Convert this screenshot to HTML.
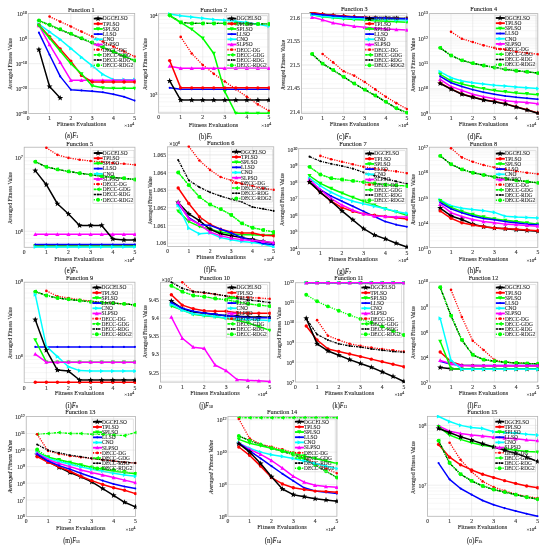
<!DOCTYPE html>
<html><head><meta charset="utf-8"><title>Convergence curves</title>
<style>html,body{margin:0;padding:0;background:#fff;}svg{display:block;}</style></head>
<body><svg width="548" height="550" viewBox="0 0 548 550" font-family="'Liberation Serif','Times New Roman',serif">
<rect width="548" height="550" fill="#fff"/>
<style>text{stroke:#303030;stroke-width:0.12px;}</style>
<line x1="49.55" y1="13.5" x2="49.55" y2="113.57" stroke="#dedede" stroke-width="0.5"/>
<line x1="70.84" y1="13.5" x2="70.84" y2="113.57" stroke="#dedede" stroke-width="0.5"/>
<line x1="92.13" y1="13.5" x2="92.13" y2="113.57" stroke="#dedede" stroke-width="0.5"/>
<line x1="113.42" y1="13.5" x2="113.42" y2="113.57" stroke="#dedede" stroke-width="0.5"/>
<line x1="28.27" y1="38.45" x2="134.71" y2="38.45" stroke="#dedede" stroke-width="0.5"/>
<line x1="28.27" y1="63.66" x2="134.71" y2="63.66" stroke="#dedede" stroke-width="0.5"/>
<line x1="28.27" y1="88.62" x2="134.71" y2="88.62" stroke="#dedede" stroke-width="0.5"/>
<rect x="28.27" y="13.5" width="106.44" height="100.08" fill="none" stroke="#b4b4b4" stroke-width="0.8"/>
<clipPath id="c0"><rect x="27.27" y="12" width="108.44" height="103.08"/></clipPath>
<g clip-path="url(#c0)">
<path d="M38.91 20.37 L49.55 24.7 L60.2 29.28 L70.84 33.61 L81.49 38.2 L92.13 42.53 L102.78 47.11 L113.42 51.44 L124.06 56.02 L134.71 60.35" fill="none" stroke="#00ff00" stroke-width="1.3" stroke-dasharray="1.2,1.2" stroke-linejoin="round"/>
<circle cx="38.91" cy="20.37" r="1.95" fill="#00ff00"/>
<circle cx="49.55" cy="24.7" r="1.95" fill="#00ff00"/>
<circle cx="60.2" cy="29.28" r="1.95" fill="#00ff00"/>
<circle cx="70.84" cy="33.61" r="1.95" fill="#00ff00"/>
<circle cx="81.49" cy="38.2" r="1.95" fill="#00ff00"/>
<circle cx="92.13" cy="42.53" r="1.95" fill="#00ff00"/>
<circle cx="102.78" cy="47.11" r="1.95" fill="#00ff00"/>
<circle cx="113.42" cy="51.44" r="1.95" fill="#00ff00"/>
<circle cx="124.06" cy="56.02" r="1.95" fill="#00ff00"/>
<circle cx="134.71" cy="60.35" r="1.95" fill="#00ff00"/>
<path d="M38.91 20.88 L49.55 25.21 L60.2 29.79 L70.84 34.12 L81.49 38.71 L92.13 43.04 L102.78 47.62 L113.42 51.95 L124.06 56.53 L134.71 60.86" fill="none" stroke="#000000" stroke-width="1.3" stroke-dasharray="2.5,1,1,1" stroke-linejoin="round"/>
<circle cx="38.91" cy="20.88" r="1.04" fill="#000000"/>
<circle cx="49.55" cy="25.21" r="1.04" fill="#000000"/>
<circle cx="60.2" cy="29.79" r="1.04" fill="#000000"/>
<circle cx="70.84" cy="34.12" r="1.04" fill="#000000"/>
<circle cx="81.49" cy="38.71" r="1.04" fill="#000000"/>
<circle cx="92.13" cy="43.04" r="1.04" fill="#000000"/>
<circle cx="102.78" cy="47.62" r="1.04" fill="#000000"/>
<circle cx="113.42" cy="51.95" r="1.04" fill="#000000"/>
<circle cx="124.06" cy="56.53" r="1.04" fill="#000000"/>
<circle cx="134.71" cy="60.86" r="1.04" fill="#000000"/>
<path d="M38.91 20.88 L49.55 25.21 L60.2 29.54 L70.84 33.87 L81.49 38.45 L92.13 42.78 L102.78 47.36 L113.42 51.69 L124.06 56.28 L134.71 60.61" fill="none" stroke="#00ff00" stroke-width="1.3" stroke-dasharray="2.5,1,1,1" stroke-linejoin="round"/>
<polygon points="36.83,20.88 40.57,18.8 40.57,22.96" fill="#00ff00"/>
<polygon points="47.47,25.21 51.22,23.13 51.22,27.29" fill="#00ff00"/>
<polygon points="58.12,29.54 61.86,27.46 61.86,31.62" fill="#00ff00"/>
<polygon points="68.76,33.87 72.51,31.79 72.51,35.95" fill="#00ff00"/>
<polygon points="79.41,38.45 83.15,36.37 83.15,40.53" fill="#00ff00"/>
<polygon points="90.05,42.78 93.8,40.7 93.8,44.86" fill="#00ff00"/>
<polygon points="100.7,47.36 104.44,45.28 104.44,49.44" fill="#00ff00"/>
<polygon points="111.34,51.69 115.08,49.61 115.08,53.77" fill="#00ff00"/>
<polygon points="121.98,56.28 125.73,54.2 125.73,58.36" fill="#00ff00"/>
<polygon points="132.63,60.61 136.37,58.53 136.37,62.69" fill="#00ff00"/>
<path d="M49.55 16.55 L60.2 21.65 L70.84 26.48 L81.49 31.58 L92.13 36.41 L102.78 41.51 L113.42 46.6 L124.06 51.44 L134.71 56.53" fill="none" stroke="#ff0000" stroke-width="1.3" stroke-dasharray="1.2,1.2" stroke-linejoin="round"/>
<circle cx="49.55" cy="16.55" r="1.3" fill="#ff0000"/>
<circle cx="60.2" cy="21.65" r="1.3" fill="#ff0000"/>
<circle cx="70.84" cy="26.48" r="1.3" fill="#ff0000"/>
<circle cx="81.49" cy="31.58" r="1.3" fill="#ff0000"/>
<circle cx="92.13" cy="36.41" r="1.3" fill="#ff0000"/>
<circle cx="102.78" cy="41.51" r="1.3" fill="#ff0000"/>
<circle cx="113.42" cy="46.6" r="1.3" fill="#ff0000"/>
<circle cx="124.06" cy="51.44" r="1.3" fill="#ff0000"/>
<circle cx="134.71" cy="56.53" r="1.3" fill="#ff0000"/>
<path d="M38.91 24.19 L49.55 31.83 L60.2 39.47 L70.84 48.38 L81.49 57.3 L92.13 65.7 L102.78 74.36 L113.42 79.7 L124.06 79.7 L134.71 79.7" fill="none" stroke="#00ffff" stroke-width="1.5" stroke-linejoin="round"/>
<polygon points="40.99,24.19 37.25,22.11 37.25,26.27" fill="#00ffff"/>
<polygon points="51.63,31.83 47.89,29.75 47.89,33.91" fill="#00ffff"/>
<polygon points="62.28,39.47 58.53,37.39 58.53,41.55" fill="#00ffff"/>
<polygon points="72.92,48.38 69.18,46.3 69.18,50.46" fill="#00ffff"/>
<polygon points="83.57,57.3 79.82,55.22 79.82,59.38" fill="#00ffff"/>
<polygon points="94.21,65.7 90.47,63.62 90.47,67.78" fill="#00ffff"/>
<polygon points="104.86,74.36 101.11,72.28 101.11,76.44" fill="#00ffff"/>
<polygon points="115.5,79.7 111.76,77.62 111.76,81.78" fill="#00ffff"/>
<polygon points="126.14,79.7 122.4,77.62 122.4,81.78" fill="#00ffff"/>
<polygon points="136.79,79.7 133.04,77.62 133.04,81.78" fill="#00ffff"/>
<path d="M38.91 25.46 L49.55 44.56 L60.2 62.39 L70.84 80.21 L81.49 80.21 L92.13 80.21 L102.78 80.21 L113.42 80.21 L124.06 80.21 L134.71 80.21" fill="none" stroke="#ff00ff" stroke-width="1.5" stroke-linejoin="round"/>
<polygon points="38.91,23.38 36.83,27.13 40.99,27.13" fill="#ff00ff"/>
<polygon points="49.55,42.48 47.47,46.23 51.63,46.23" fill="#ff00ff"/>
<polygon points="60.2,60.31 58.12,64.05 62.28,64.05" fill="#ff00ff"/>
<polygon points="70.84,78.13 68.76,81.88 72.92,81.88" fill="#ff00ff"/>
<polygon points="81.49,78.13 79.41,81.88 83.57,81.88" fill="#ff00ff"/>
<polygon points="92.13,78.13 90.05,81.88 94.21,81.88" fill="#ff00ff"/>
<polygon points="102.78,78.13 100.7,81.88 104.86,81.88" fill="#ff00ff"/>
<polygon points="113.42,78.13 111.34,81.88 115.5,81.88" fill="#ff00ff"/>
<polygon points="124.06,78.13 121.98,81.88 126.14,81.88" fill="#ff00ff"/>
<polygon points="134.71,78.13 132.63,81.88 136.79,81.88" fill="#ff00ff"/>
<path d="M38.91 24.96 L49.55 36.67 L60.2 48.89 L70.84 61.12 L81.49 75.38 L92.13 82 L102.78 82 L113.42 82 L124.06 82 L134.71 82" fill="none" stroke="#ff0000" stroke-width="1.5" stroke-linejoin="round"/>
<circle cx="38.91" cy="24.96" r="1.69" fill="#ff0000"/>
<circle cx="49.55" cy="36.67" r="1.69" fill="#ff0000"/>
<circle cx="60.2" cy="48.89" r="1.69" fill="#ff0000"/>
<circle cx="70.84" cy="61.12" r="1.69" fill="#ff0000"/>
<circle cx="81.49" cy="75.38" r="1.69" fill="#ff0000"/>
<circle cx="92.13" cy="82" r="1.69" fill="#ff0000"/>
<circle cx="102.78" cy="82" r="1.69" fill="#ff0000"/>
<circle cx="113.42" cy="82" r="1.69" fill="#ff0000"/>
<circle cx="124.06" cy="82" r="1.69" fill="#ff0000"/>
<circle cx="134.71" cy="82" r="1.69" fill="#ff0000"/>
<path d="M38.91 25.46 L49.55 38.2 L60.2 50.93 L70.84 63.66 L81.49 73.85 L92.13 85.82 L102.78 87.85 L113.42 88.36 L124.06 88.36 L134.71 88.36" fill="none" stroke="#00ff00" stroke-width="1.5" stroke-linejoin="round"/>
<polygon points="38.91,27.54 36.83,23.8 40.99,23.8" fill="#00ff00"/>
<polygon points="49.55,40.28 47.47,36.53 51.63,36.53" fill="#00ff00"/>
<polygon points="60.2,53.01 58.12,49.27 62.28,49.27" fill="#00ff00"/>
<polygon points="70.84,65.74 68.76,62 72.92,62" fill="#00ff00"/>
<polygon points="81.49,75.93 79.41,72.18 83.57,72.18" fill="#00ff00"/>
<polygon points="92.13,87.9 90.05,84.15 94.21,84.15" fill="#00ff00"/>
<polygon points="102.78,89.93 100.7,86.19 104.86,86.19" fill="#00ff00"/>
<polygon points="113.42,90.44 111.34,86.7 115.5,86.7" fill="#00ff00"/>
<polygon points="124.06,90.44 121.98,86.7 126.14,86.7" fill="#00ff00"/>
<polygon points="134.71,90.44 132.63,86.7 136.79,86.7" fill="#00ff00"/>
<path d="M38.91 32.59 L49.55 54.75 L60.2 76.39 L70.84 89.64 L81.49 90.4 L92.13 91.16 L102.78 92.18 L113.42 94.22 L124.06 96.77 L134.71 100.59" fill="none" stroke="#0000ff" stroke-width="1.5" stroke-linejoin="round"/>
<circle cx="38.91" cy="32.59" r="1.04" fill="#0000ff"/>
<circle cx="49.55" cy="54.75" r="1.04" fill="#0000ff"/>
<circle cx="60.2" cy="76.39" r="1.04" fill="#0000ff"/>
<circle cx="70.84" cy="89.64" r="1.04" fill="#0000ff"/>
<circle cx="81.49" cy="90.4" r="1.04" fill="#0000ff"/>
<circle cx="92.13" cy="91.16" r="1.04" fill="#0000ff"/>
<circle cx="102.78" cy="92.18" r="1.04" fill="#0000ff"/>
<circle cx="113.42" cy="94.22" r="1.04" fill="#0000ff"/>
<circle cx="124.06" cy="96.77" r="1.04" fill="#0000ff"/>
<circle cx="134.71" cy="100.59" r="1.04" fill="#0000ff"/>
<path d="M38.91 49.66 L49.55 86.58 L60.2 98.04" fill="none" stroke="#000000" stroke-width="1.5" stroke-linejoin="round"/>
<polygon points="38.91,46.54 39.67,48.6 41.88,48.69 40.15,50.06 40.74,52.18 38.91,50.96 37.08,52.18 37.67,50.06 35.94,48.69 38.15,48.6" fill="#000000"/>
<polygon points="49.55,83.46 50.32,85.53 52.52,85.62 50.79,86.98 51.39,89.1 49.55,87.88 47.72,89.1 48.32,86.98 46.59,85.62 48.79,85.53" fill="#000000"/>
<polygon points="60.2,94.92 60.96,96.99 63.17,97.08 61.43,98.44 62.03,100.56 60.2,99.34 58.36,100.56 58.96,98.44 57.23,97.08 59.43,96.99" fill="#000000"/>
</g>
<text x="28.27" y="119.87" font-size="5.6" text-anchor="middle" fill="#333">0</text>
<text x="49.55" y="119.87" font-size="5.6" text-anchor="middle" fill="#333">1</text>
<text x="70.84" y="119.87" font-size="5.6" text-anchor="middle" fill="#333">2</text>
<text x="92.13" y="119.87" font-size="5.6" text-anchor="middle" fill="#333">3</text>
<text x="113.42" y="119.87" font-size="5.6" text-anchor="middle" fill="#333">4</text>
<text x="134.71" y="119.87" font-size="5.6" text-anchor="middle" fill="#333">5</text>
<text x="27.07" y="16.2" font-size="5.6" text-anchor="end" fill="#333">10<tspan font-size="4.3" dy="-2.2">10</tspan></text>
<text x="27.07" y="41.15" font-size="5.6" text-anchor="end" fill="#333">10<tspan font-size="4.3" dy="-2.2">0</tspan></text>
<text x="27.07" y="66.36" font-size="5.6" text-anchor="end" fill="#333">10<tspan font-size="4.3" dy="-2.2">-10</tspan></text>
<text x="27.07" y="91.32" font-size="5.6" text-anchor="end" fill="#333">10<tspan font-size="4.3" dy="-2.2">-20</tspan></text>
<text x="27.07" y="116.27" font-size="5.6" text-anchor="end" fill="#333">10<tspan font-size="4.3" dy="-2.2">-30</tspan></text>
<text x="81.3" y="11.6" font-size="6.3" text-anchor="middle" textLength="26.8" lengthAdjust="spacingAndGlyphs" fill="#222">Function 1</text>
<text x="81.4" y="125.7" font-size="6.3" text-anchor="middle" textLength="49.5" lengthAdjust="spacingAndGlyphs" fill="#333">Fitness Evaluations</text>
<text x="129.2" y="126.99" font-size="5.0" text-anchor="middle" fill="#333">×10<tspan font-size="3.8" dy="-2.0">4</tspan></text>
<text transform="translate(11.6 63.9) rotate(-90)" font-size="5.5" text-anchor="middle" textLength="51.7" lengthAdjust="spacingAndGlyphs" fill="#333">Averaged Fitness Value</text>
<text x="71.6" y="138" font-size="7.4" text-anchor="middle" textLength="13.3" lengthAdjust="spacingAndGlyphs" fill="#222">(a)<tspan font-style="italic">F</tspan><tspan font-size="4.6">1</tspan></text>
<rect x="92.95" y="15.79" width="41" height="53" fill="none" stroke="#c8c8c8" stroke-width="0.5"/>
<line x1="93.75" y1="18.59" x2="102.75" y2="18.59" stroke="#000000" stroke-width="1.8"/>
<polygon points="98.05,15.47 98.81,17.54 101.01,17.62 99.28,18.99 99.88,21.11 98.05,19.89 96.21,21.11 96.81,18.99 95.08,17.62 97.28,17.54" fill="#000000"/>
<text x="102.85" y="20.44" font-size="5.4" fill="#333">DGCELSO</text>
<line x1="93.75" y1="23.77" x2="102.75" y2="23.77" stroke="#ff0000" stroke-width="1.8"/>
<circle cx="98.05" cy="23.77" r="1.69" fill="#ff0000"/>
<text x="102.85" y="25.62" font-size="5.4" fill="#333">TPLSO</text>
<line x1="93.75" y1="28.95" x2="102.75" y2="28.95" stroke="#00ff00" stroke-width="1.8"/>
<polygon points="98.05,31.03 95.97,27.28 100.13,27.28" fill="#00ff00"/>
<text x="102.85" y="30.8" font-size="5.4" fill="#333">SPLSO</text>
<line x1="93.75" y1="34.13" x2="102.75" y2="34.13" stroke="#0000ff" stroke-width="1.8"/>
<circle cx="98.05" cy="34.13" r="1.04" fill="#0000ff"/>
<text x="102.85" y="35.98" font-size="5.4" fill="#333">LLSO</text>
<line x1="93.75" y1="39.31" x2="102.75" y2="39.31" stroke="#00ffff" stroke-width="1.8"/>
<polygon points="100.13,39.31 96.38,37.23 96.38,41.39" fill="#00ffff"/>
<text x="102.85" y="41.16" font-size="5.4" fill="#333">CNO</text>
<line x1="93.75" y1="44.49" x2="102.75" y2="44.49" stroke="#ff00ff" stroke-width="1.8"/>
<polygon points="98.05,42.41 95.97,46.15 100.13,46.15" fill="#ff00ff"/>
<text x="102.85" y="46.34" font-size="5.4" fill="#333">SLPSO</text>
<line x1="93.75" y1="49.67" x2="102.75" y2="49.67" stroke="#ff0000" stroke-width="1.6" stroke-dasharray="1.2,1.2"/>
<circle cx="98.05" cy="49.67" r="1.3" fill="#ff0000"/>
<text x="102.85" y="51.52" font-size="5.4" fill="#333">DECC-DG</text>
<line x1="93.75" y1="54.85" x2="102.75" y2="54.85" stroke="#00ff00" stroke-width="1.6" stroke-dasharray="2.5,1,1,1"/>
<polygon points="95.97,54.85 99.71,52.77 99.71,56.93" fill="#00ff00"/>
<text x="102.85" y="56.7" font-size="5.4" fill="#333">DECC-GDG</text>
<line x1="93.75" y1="60.03" x2="102.75" y2="60.03" stroke="#000000" stroke-width="1.6" stroke-dasharray="2.5,1,1,1"/>
<circle cx="98.05" cy="60.03" r="1.04" fill="#000000"/>
<text x="102.85" y="61.88" font-size="5.4" fill="#333">DECC-RDG</text>
<line x1="93.75" y1="65.21" x2="102.75" y2="65.21" stroke="#00ff00" stroke-width="1.6" stroke-dasharray="1.2,1.2"/>
<circle cx="98.05" cy="65.21" r="1.95" fill="#00ff00"/>
<text x="102.85" y="67.06" font-size="5.4" fill="#333">DECC-RDG2</text>
<line x1="158.65" y1="111.62" x2="268.91" y2="111.62" stroke="#efefef" stroke-width="0.5"/>
<line x1="158.65" y1="106.37" x2="268.91" y2="106.37" stroke="#efefef" stroke-width="0.5"/>
<line x1="158.65" y1="101.82" x2="268.91" y2="101.82" stroke="#efefef" stroke-width="0.5"/>
<line x1="158.65" y1="97.81" x2="268.91" y2="97.81" stroke="#efefef" stroke-width="0.5"/>
<line x1="158.65" y1="70.61" x2="268.91" y2="70.61" stroke="#efefef" stroke-width="0.5"/>
<line x1="158.65" y1="56.8" x2="268.91" y2="56.8" stroke="#efefef" stroke-width="0.5"/>
<line x1="158.65" y1="47" x2="268.91" y2="47" stroke="#efefef" stroke-width="0.5"/>
<line x1="158.65" y1="39.4" x2="268.91" y2="39.4" stroke="#efefef" stroke-width="0.5"/>
<line x1="158.65" y1="33.19" x2="268.91" y2="33.19" stroke="#efefef" stroke-width="0.5"/>
<line x1="158.65" y1="27.94" x2="268.91" y2="27.94" stroke="#efefef" stroke-width="0.5"/>
<line x1="158.65" y1="23.39" x2="268.91" y2="23.39" stroke="#efefef" stroke-width="0.5"/>
<line x1="158.65" y1="19.38" x2="268.91" y2="19.38" stroke="#efefef" stroke-width="0.5"/>
<line x1="180.7" y1="13.75" x2="180.7" y2="113.01" stroke="#dedede" stroke-width="0.5"/>
<line x1="202.75" y1="13.75" x2="202.75" y2="113.01" stroke="#dedede" stroke-width="0.5"/>
<line x1="224.8" y1="13.75" x2="224.8" y2="113.01" stroke="#dedede" stroke-width="0.5"/>
<line x1="246.85" y1="13.75" x2="246.85" y2="113.01" stroke="#dedede" stroke-width="0.5"/>
<line x1="158.65" y1="15.79" x2="268.91" y2="15.79" stroke="#dedede" stroke-width="0.5"/>
<line x1="158.65" y1="94.22" x2="268.91" y2="94.22" stroke="#dedede" stroke-width="0.5"/>
<rect x="158.65" y="13.75" width="110.26" height="99.26" fill="none" stroke="#b4b4b4" stroke-width="0.8"/>
<clipPath id="c1"><rect x="157.65" y="12.25" width="112.26" height="102.26"/></clipPath>
<g clip-path="url(#c1)">
<path d="M180.7 36.92 L191.72 53.48 L202.75 64.94 L213.78 73.85 L224.8 81.49 L235.83 89.13 L246.85 96.77 L257.88 104.41 L268.91 110.77" fill="none" stroke="#ff0000" stroke-width="1.3" stroke-dasharray="1.2,1.2" stroke-linejoin="round"/>
<circle cx="180.7" cy="36.92" r="1.3" fill="#ff0000"/>
<circle cx="191.72" cy="53.48" r="1.3" fill="#ff0000"/>
<circle cx="202.75" cy="64.94" r="1.3" fill="#ff0000"/>
<circle cx="213.78" cy="73.85" r="1.3" fill="#ff0000"/>
<circle cx="224.8" cy="81.49" r="1.3" fill="#ff0000"/>
<circle cx="235.83" cy="89.13" r="1.3" fill="#ff0000"/>
<circle cx="246.85" cy="96.77" r="1.3" fill="#ff0000"/>
<circle cx="257.88" cy="104.41" r="1.3" fill="#ff0000"/>
<circle cx="268.91" cy="110.77" r="1.3" fill="#ff0000"/>
<path d="M169.67 14.01 L180.7 15.79 L191.72 17.06 L202.75 18.33 L213.78 19.61 L224.8 20.37 L235.83 21.14 L246.85 22.41 L257.88 24.19 L268.91 26.23" fill="none" stroke="#00ffff" stroke-width="1.5" stroke-linejoin="round"/>
<polygon points="171.75,14.01 168.01,11.93 168.01,16.09" fill="#00ffff"/>
<polygon points="182.78,15.79 179.03,13.71 179.03,17.87" fill="#00ffff"/>
<polygon points="193.8,17.06 190.06,14.98 190.06,19.14" fill="#00ffff"/>
<polygon points="204.83,18.33 201.09,16.25 201.09,20.41" fill="#00ffff"/>
<polygon points="215.86,19.61 212.11,17.53 212.11,21.69" fill="#00ffff"/>
<polygon points="226.88,20.37 223.14,18.29 223.14,22.45" fill="#00ffff"/>
<polygon points="237.91,21.14 234.16,19.06 234.16,23.22" fill="#00ffff"/>
<polygon points="248.93,22.41 245.19,20.33 245.19,24.49" fill="#00ffff"/>
<polygon points="259.96,24.19 256.22,22.11 256.22,26.27" fill="#00ffff"/>
<polygon points="270.99,26.23 267.24,24.15 267.24,28.31" fill="#00ffff"/>
<path d="M169.67 15.28 L180.7 22.41 L191.72 23.43 L202.75 23.43 L213.78 23.43 L224.8 23.43 L235.83 23.43 L246.85 23.68 L257.88 23.94 L268.91 23.94" fill="none" stroke="#00ff00" stroke-width="1.3" stroke-dasharray="2.5,1,1,1" stroke-linejoin="round"/>
<polygon points="167.59,15.28 171.34,13.2 171.34,17.36" fill="#00ff00"/>
<polygon points="178.62,22.41 182.36,20.33 182.36,24.49" fill="#00ff00"/>
<polygon points="189.64,23.43 193.39,21.35 193.39,25.51" fill="#00ff00"/>
<polygon points="200.67,23.43 204.41,21.35 204.41,25.51" fill="#00ff00"/>
<polygon points="211.7,23.43 215.44,21.35 215.44,25.51" fill="#00ff00"/>
<polygon points="222.72,23.43 226.47,21.35 226.47,25.51" fill="#00ff00"/>
<polygon points="233.75,23.43 237.49,21.35 237.49,25.51" fill="#00ff00"/>
<polygon points="244.77,23.68 248.52,21.6 248.52,25.76" fill="#00ff00"/>
<polygon points="255.8,23.94 259.55,21.86 259.55,26.02" fill="#00ff00"/>
<polygon points="266.83,23.94 270.57,21.86 270.57,26.02" fill="#00ff00"/>
<path d="M169.67 15.28 L180.7 22.41 L191.72 23.43 L202.75 23.43 L213.78 23.43 L224.8 23.43 L235.83 23.43 L246.85 23.68 L257.88 23.94 L268.91 23.94" fill="none" stroke="#000000" stroke-width="1.3" stroke-dasharray="2.5,1,1,1" stroke-linejoin="round"/>
<circle cx="169.67" cy="15.28" r="1.04" fill="#000000"/>
<circle cx="180.7" cy="22.41" r="1.04" fill="#000000"/>
<circle cx="191.72" cy="23.43" r="1.04" fill="#000000"/>
<circle cx="202.75" cy="23.43" r="1.04" fill="#000000"/>
<circle cx="213.78" cy="23.43" r="1.04" fill="#000000"/>
<circle cx="224.8" cy="23.43" r="1.04" fill="#000000"/>
<circle cx="235.83" cy="23.43" r="1.04" fill="#000000"/>
<circle cx="246.85" cy="23.68" r="1.04" fill="#000000"/>
<circle cx="257.88" cy="23.94" r="1.04" fill="#000000"/>
<circle cx="268.91" cy="23.94" r="1.04" fill="#000000"/>
<path d="M169.67 15.28 L180.7 22.41 L191.72 23.43 L202.75 23.43 L213.78 23.43 L224.8 23.43 L235.83 23.43 L246.85 23.68 L257.88 23.94 L268.91 23.94" fill="none" stroke="#00ff00" stroke-width="1.3" stroke-dasharray="1.2,1.2" stroke-linejoin="round"/>
<circle cx="169.67" cy="15.28" r="1.95" fill="#00ff00"/>
<circle cx="180.7" cy="22.41" r="1.95" fill="#00ff00"/>
<circle cx="191.72" cy="23.43" r="1.95" fill="#00ff00"/>
<circle cx="202.75" cy="23.43" r="1.95" fill="#00ff00"/>
<circle cx="213.78" cy="23.43" r="1.95" fill="#00ff00"/>
<circle cx="224.8" cy="23.43" r="1.95" fill="#00ff00"/>
<circle cx="235.83" cy="23.43" r="1.95" fill="#00ff00"/>
<circle cx="246.85" cy="23.68" r="1.95" fill="#00ff00"/>
<circle cx="257.88" cy="23.94" r="1.95" fill="#00ff00"/>
<circle cx="268.91" cy="23.94" r="1.95" fill="#00ff00"/>
<path d="M169.67 15.79 L180.7 22.41 L191.72 29.28 L202.75 38.2 L213.78 53.48 L224.8 91.67 L235.83 113.32 L246.85 113.32 L257.88 113.32 L268.91 113.32" fill="none" stroke="#00ff00" stroke-width="1.5" stroke-linejoin="round"/>
<polygon points="169.67,17.87 167.59,14.12 171.75,14.12" fill="#00ff00"/>
<polygon points="180.7,24.49 178.62,20.74 182.78,20.74" fill="#00ff00"/>
<polygon points="191.72,31.36 189.64,27.62 193.8,27.62" fill="#00ff00"/>
<polygon points="202.75,40.28 200.67,36.53 204.83,36.53" fill="#00ff00"/>
<polygon points="213.78,55.56 211.7,51.81 215.86,51.81" fill="#00ff00"/>
<polygon points="224.8,93.75 222.72,90.01 226.88,90.01" fill="#00ff00"/>
<polygon points="235.83,115.4 233.75,111.65 237.91,111.65" fill="#00ff00"/>
<polygon points="246.85,115.4 244.77,111.65 248.93,111.65" fill="#00ff00"/>
<polygon points="257.88,115.4 255.8,111.65 259.96,111.65" fill="#00ff00"/>
<polygon points="268.91,115.4 266.83,111.65 270.99,111.65" fill="#00ff00"/>
<path d="M169.67 66.21 L180.7 68.25 L191.72 68.25 L202.75 68.25 L213.78 68.25 L224.8 68.25 L235.83 68.25 L246.85 68.25 L257.88 68.25 L268.91 68.25" fill="none" stroke="#ff00ff" stroke-width="1.5" stroke-linejoin="round"/>
<polygon points="169.67,64.13 167.59,67.87 171.75,67.87" fill="#ff00ff"/>
<polygon points="180.7,66.17 178.62,69.91 182.78,69.91" fill="#ff00ff"/>
<polygon points="191.72,66.17 189.64,69.91 193.8,69.91" fill="#ff00ff"/>
<polygon points="202.75,66.17 200.67,69.91 204.83,69.91" fill="#ff00ff"/>
<polygon points="213.78,66.17 211.7,69.91 215.86,69.91" fill="#ff00ff"/>
<polygon points="224.8,66.17 222.72,69.91 226.88,69.91" fill="#ff00ff"/>
<polygon points="235.83,66.17 233.75,69.91 237.91,69.91" fill="#ff00ff"/>
<polygon points="246.85,66.17 244.77,69.91 248.93,69.91" fill="#ff00ff"/>
<polygon points="257.88,66.17 255.8,69.91 259.96,69.91" fill="#ff00ff"/>
<polygon points="268.91,66.17 266.83,69.91 270.99,69.91" fill="#ff00ff"/>
<path d="M169.67 87.85 L180.7 89.13 L191.72 89.13 L202.75 89.13 L213.78 89.13 L224.8 89.13 L235.83 89.13 L246.85 89.13 L257.88 89.13 L268.91 89.13" fill="none" stroke="#0000ff" stroke-width="1.5" stroke-linejoin="round"/>
<circle cx="169.67" cy="87.85" r="1.04" fill="#0000ff"/>
<circle cx="180.7" cy="89.13" r="1.04" fill="#0000ff"/>
<circle cx="191.72" cy="89.13" r="1.04" fill="#0000ff"/>
<circle cx="202.75" cy="89.13" r="1.04" fill="#0000ff"/>
<circle cx="213.78" cy="89.13" r="1.04" fill="#0000ff"/>
<circle cx="224.8" cy="89.13" r="1.04" fill="#0000ff"/>
<circle cx="235.83" cy="89.13" r="1.04" fill="#0000ff"/>
<circle cx="246.85" cy="89.13" r="1.04" fill="#0000ff"/>
<circle cx="257.88" cy="89.13" r="1.04" fill="#0000ff"/>
<circle cx="268.91" cy="89.13" r="1.04" fill="#0000ff"/>
<path d="M169.67 60.61 L180.7 87.85 L191.72 87.85 L202.75 87.85 L213.78 87.85 L224.8 87.85 L235.83 87.85 L246.85 87.85 L257.88 87.85 L268.91 87.85" fill="none" stroke="#ff0000" stroke-width="1.5" stroke-linejoin="round"/>
<circle cx="169.67" cy="60.61" r="1.69" fill="#ff0000"/>
<circle cx="180.7" cy="87.85" r="1.69" fill="#ff0000"/>
<circle cx="191.72" cy="87.85" r="1.69" fill="#ff0000"/>
<circle cx="202.75" cy="87.85" r="1.69" fill="#ff0000"/>
<circle cx="213.78" cy="87.85" r="1.69" fill="#ff0000"/>
<circle cx="224.8" cy="87.85" r="1.69" fill="#ff0000"/>
<circle cx="235.83" cy="87.85" r="1.69" fill="#ff0000"/>
<circle cx="246.85" cy="87.85" r="1.69" fill="#ff0000"/>
<circle cx="257.88" cy="87.85" r="1.69" fill="#ff0000"/>
<circle cx="268.91" cy="87.85" r="1.69" fill="#ff0000"/>
<path d="M169.67 80.98 L180.7 100.08 L191.72 100.08 L202.75 100.08 L213.78 100.08 L224.8 100.08 L235.83 100.08 L246.85 100.08 L257.88 100.08 L268.91 100.08" fill="none" stroke="#000000" stroke-width="1.5" stroke-linejoin="round"/>
<polygon points="169.67,77.86 170.44,79.93 172.64,80.01 170.91,81.38 171.51,83.5 169.67,82.28 167.84,83.5 168.43,81.38 166.7,80.01 168.91,79.93" fill="#000000"/>
<polygon points="180.7,96.96 181.46,99.02 183.66,99.11 181.93,100.48 182.53,102.6 180.7,101.38 178.86,102.6 179.46,100.48 177.73,99.11 179.93,99.02" fill="#000000"/>
<polygon points="191.72,96.96 192.49,99.02 194.69,99.11 192.96,100.48 193.56,102.6 191.72,101.38 189.89,102.6 190.49,100.48 188.76,99.11 190.96,99.02" fill="#000000"/>
<polygon points="202.75,96.96 203.51,99.02 205.72,99.11 203.99,100.48 204.58,102.6 202.75,101.38 200.92,102.6 201.51,100.48 199.78,99.11 201.99,99.02" fill="#000000"/>
<polygon points="213.78,96.96 214.54,99.02 216.74,99.11 215.01,100.48 215.61,102.6 213.78,101.38 211.94,102.6 212.54,100.48 210.81,99.11 213.01,99.02" fill="#000000"/>
<polygon points="224.8,96.96 225.57,99.02 227.77,99.11 226.04,100.48 226.64,102.6 224.8,101.38 222.97,102.6 223.57,100.48 221.84,99.11 224.04,99.02" fill="#000000"/>
<polygon points="235.83,96.96 236.59,99.02 238.8,99.11 237.06,100.48 237.66,102.6 235.83,101.38 233.99,102.6 234.59,100.48 232.86,99.11 235.06,99.02" fill="#000000"/>
<polygon points="246.85,96.96 247.62,99.02 249.82,99.11 248.09,100.48 248.69,102.6 246.85,101.38 245.02,102.6 245.62,100.48 243.89,99.11 246.09,99.02" fill="#000000"/>
<polygon points="257.88,96.96 258.65,99.02 260.85,99.11 259.12,100.48 259.71,102.6 257.88,101.38 256.05,102.6 256.64,100.48 254.91,99.11 257.12,99.02" fill="#000000"/>
<polygon points="268.91,96.96 269.67,99.02 271.87,99.11 270.14,100.48 270.74,102.6 268.91,101.38 267.07,102.6 267.67,100.48 265.94,99.11 268.14,99.02" fill="#000000"/>
</g>
<text x="158.65" y="119.31" font-size="5.6" text-anchor="middle" fill="#333">0</text>
<text x="180.7" y="119.31" font-size="5.6" text-anchor="middle" fill="#333">1</text>
<text x="202.75" y="119.31" font-size="5.6" text-anchor="middle" fill="#333">2</text>
<text x="224.8" y="119.31" font-size="5.6" text-anchor="middle" fill="#333">3</text>
<text x="246.85" y="119.31" font-size="5.6" text-anchor="middle" fill="#333">4</text>
<text x="268.91" y="119.31" font-size="5.6" text-anchor="middle" fill="#333">5</text>
<text x="157.45" y="18.49" font-size="5.6" text-anchor="end" fill="#333">10<tspan font-size="4.3" dy="-2.2">4</tspan></text>
<text x="157.45" y="96.92" font-size="5.6" text-anchor="end" fill="#333">10<tspan font-size="4.3" dy="-2.2">3</tspan></text>
<text x="213.7" y="11.7" font-size="6.3" text-anchor="middle" textLength="26.9" lengthAdjust="spacingAndGlyphs" fill="#222">Function 2</text>
<text x="213.6" y="126.8" font-size="6.3" text-anchor="middle" textLength="49.5" lengthAdjust="spacingAndGlyphs" fill="#333">Fitness Evaluations</text>
<text x="266.2" y="126.99" font-size="5.0" text-anchor="middle" fill="#333">×10<tspan font-size="3.8" dy="-2.0">4</tspan></text>
<text transform="translate(146.8 64) rotate(-90)" font-size="5.5" text-anchor="middle" textLength="52" lengthAdjust="spacingAndGlyphs" fill="#333">Averaged Fitness Value</text>
<text x="205.6" y="139" font-size="7.4" text-anchor="middle" textLength="13.5" lengthAdjust="spacingAndGlyphs" fill="#222">(b)<tspan font-style="italic">F</tspan><tspan font-size="4.6">2</tspan></text>
<rect x="226.64" y="15.79" width="41" height="53" fill="none" stroke="#c8c8c8" stroke-width="0.5"/>
<line x1="227.44" y1="18.59" x2="236.44" y2="18.59" stroke="#000000" stroke-width="1.8"/>
<polygon points="231.74,15.47 232.5,17.54 234.7,17.62 232.97,18.99 233.57,21.11 231.74,19.89 229.9,21.11 230.5,18.99 228.77,17.62 230.97,17.54" fill="#000000"/>
<text x="236.54" y="20.44" font-size="5.4" fill="#333">DGCELSO</text>
<line x1="227.44" y1="23.77" x2="236.44" y2="23.77" stroke="#ff0000" stroke-width="1.8"/>
<circle cx="231.74" cy="23.77" r="1.69" fill="#ff0000"/>
<text x="236.54" y="25.62" font-size="5.4" fill="#333">TPLSO</text>
<line x1="227.44" y1="28.95" x2="236.44" y2="28.95" stroke="#00ff00" stroke-width="1.8"/>
<polygon points="231.74,31.03 229.66,27.28 233.82,27.28" fill="#00ff00"/>
<text x="236.54" y="30.8" font-size="5.4" fill="#333">SPLSO</text>
<line x1="227.44" y1="34.13" x2="236.44" y2="34.13" stroke="#0000ff" stroke-width="1.8"/>
<circle cx="231.74" cy="34.13" r="1.04" fill="#0000ff"/>
<text x="236.54" y="35.98" font-size="5.4" fill="#333">LLSO</text>
<line x1="227.44" y1="39.31" x2="236.44" y2="39.31" stroke="#00ffff" stroke-width="1.8"/>
<polygon points="233.82,39.31 230.07,37.23 230.07,41.39" fill="#00ffff"/>
<text x="236.54" y="41.16" font-size="5.4" fill="#333">CNO</text>
<line x1="227.44" y1="44.49" x2="236.44" y2="44.49" stroke="#ff00ff" stroke-width="1.8"/>
<polygon points="231.74,42.41 229.66,46.15 233.82,46.15" fill="#ff00ff"/>
<text x="236.54" y="46.34" font-size="5.4" fill="#333">SLPSO</text>
<line x1="227.44" y1="49.67" x2="236.44" y2="49.67" stroke="#ff0000" stroke-width="1.6" stroke-dasharray="1.2,1.2"/>
<circle cx="231.74" cy="49.67" r="1.3" fill="#ff0000"/>
<text x="236.54" y="51.52" font-size="5.4" fill="#333">DECC-DG</text>
<line x1="227.44" y1="54.85" x2="236.44" y2="54.85" stroke="#00ff00" stroke-width="1.6" stroke-dasharray="2.5,1,1,1"/>
<polygon points="229.66,54.85 233.4,52.77 233.4,56.93" fill="#00ff00"/>
<text x="236.54" y="56.7" font-size="5.4" fill="#333">DECC-GDG</text>
<line x1="227.44" y1="60.03" x2="236.44" y2="60.03" stroke="#000000" stroke-width="1.6" stroke-dasharray="2.5,1,1,1"/>
<circle cx="231.74" cy="60.03" r="1.04" fill="#000000"/>
<text x="236.54" y="61.88" font-size="5.4" fill="#333">DECC-RDG</text>
<line x1="227.44" y1="65.21" x2="236.44" y2="65.21" stroke="#00ff00" stroke-width="1.6" stroke-dasharray="1.2,1.2"/>
<circle cx="231.74" cy="65.21" r="1.95" fill="#00ff00"/>
<text x="236.54" y="67.06" font-size="5.4" fill="#333">DECC-RDG2</text>
<line x1="301.5" y1="17.83" x2="406.93" y2="17.83" stroke="#f1f1f1" stroke-width="0.5"/>
<line x1="301.5" y1="22.54" x2="406.93" y2="22.54" stroke="#f1f1f1" stroke-width="0.5"/>
<line x1="301.5" y1="27.25" x2="406.93" y2="27.25" stroke="#f1f1f1" stroke-width="0.5"/>
<line x1="301.5" y1="31.96" x2="406.93" y2="31.96" stroke="#f1f1f1" stroke-width="0.5"/>
<line x1="301.5" y1="36.67" x2="406.93" y2="36.67" stroke="#f1f1f1" stroke-width="0.5"/>
<line x1="301.5" y1="41.38" x2="406.93" y2="41.38" stroke="#f1f1f1" stroke-width="0.5"/>
<line x1="301.5" y1="46.09" x2="406.93" y2="46.09" stroke="#f1f1f1" stroke-width="0.5"/>
<line x1="301.5" y1="50.8" x2="406.93" y2="50.8" stroke="#f1f1f1" stroke-width="0.5"/>
<line x1="301.5" y1="55.51" x2="406.93" y2="55.51" stroke="#f1f1f1" stroke-width="0.5"/>
<line x1="301.5" y1="60.22" x2="406.93" y2="60.22" stroke="#f1f1f1" stroke-width="0.5"/>
<line x1="301.5" y1="64.94" x2="406.93" y2="64.94" stroke="#f1f1f1" stroke-width="0.5"/>
<line x1="301.5" y1="69.65" x2="406.93" y2="69.65" stroke="#f1f1f1" stroke-width="0.5"/>
<line x1="301.5" y1="74.36" x2="406.93" y2="74.36" stroke="#f1f1f1" stroke-width="0.5"/>
<line x1="301.5" y1="79.07" x2="406.93" y2="79.07" stroke="#f1f1f1" stroke-width="0.5"/>
<line x1="301.5" y1="83.78" x2="406.93" y2="83.78" stroke="#f1f1f1" stroke-width="0.5"/>
<line x1="301.5" y1="88.49" x2="406.93" y2="88.49" stroke="#f1f1f1" stroke-width="0.5"/>
<line x1="301.5" y1="93.2" x2="406.93" y2="93.2" stroke="#f1f1f1" stroke-width="0.5"/>
<line x1="301.5" y1="97.91" x2="406.93" y2="97.91" stroke="#f1f1f1" stroke-width="0.5"/>
<line x1="301.5" y1="102.62" x2="406.93" y2="102.62" stroke="#f1f1f1" stroke-width="0.5"/>
<line x1="301.5" y1="107.33" x2="406.93" y2="107.33" stroke="#f1f1f1" stroke-width="0.5"/>
<line x1="301.5" y1="112.04" x2="406.93" y2="112.04" stroke="#f1f1f1" stroke-width="0.5"/>
<line x1="322.59" y1="13.39" x2="322.59" y2="113.32" stroke="#dedede" stroke-width="0.5"/>
<line x1="343.67" y1="13.39" x2="343.67" y2="113.32" stroke="#dedede" stroke-width="0.5"/>
<line x1="364.76" y1="13.39" x2="364.76" y2="113.32" stroke="#dedede" stroke-width="0.5"/>
<line x1="385.84" y1="13.39" x2="385.84" y2="113.32" stroke="#dedede" stroke-width="0.5"/>
<line x1="301.5" y1="17.83" x2="406.93" y2="17.83" stroke="#dedede" stroke-width="0.5"/>
<line x1="301.5" y1="41.25" x2="406.93" y2="41.25" stroke="#dedede" stroke-width="0.5"/>
<line x1="301.5" y1="64.94" x2="406.93" y2="64.94" stroke="#dedede" stroke-width="0.5"/>
<line x1="301.5" y1="88.36" x2="406.93" y2="88.36" stroke="#dedede" stroke-width="0.5"/>
<line x1="301.5" y1="112.04" x2="406.93" y2="112.04" stroke="#dedede" stroke-width="0.5"/>
<rect x="301.5" y="13.39" width="105.42" height="99.92" fill="none" stroke="#b4b4b4" stroke-width="0.8"/>
<clipPath id="c2"><rect x="300.5" y="11.89" width="107.42" height="102.92"/></clipPath>
<g clip-path="url(#c2)">
<path d="M322.59 53.99 L333.13 62.39 L343.67 71.3 L354.21 75.63 L364.76 82 L375.3 89.38 L385.84 96.77 L396.38 103.13 L406.93 108.99" fill="none" stroke="#ff0000" stroke-width="1.3" stroke-dasharray="1.2,1.2" stroke-linejoin="round"/>
<circle cx="322.59" cy="53.99" r="1.3" fill="#ff0000"/>
<circle cx="333.13" cy="62.39" r="1.3" fill="#ff0000"/>
<circle cx="343.67" cy="71.3" r="1.3" fill="#ff0000"/>
<circle cx="354.21" cy="75.63" r="1.3" fill="#ff0000"/>
<circle cx="364.76" cy="82" r="1.3" fill="#ff0000"/>
<circle cx="375.3" cy="89.38" r="1.3" fill="#ff0000"/>
<circle cx="385.84" cy="96.77" r="1.3" fill="#ff0000"/>
<circle cx="396.38" cy="103.13" r="1.3" fill="#ff0000"/>
<circle cx="406.93" cy="108.99" r="1.3" fill="#ff0000"/>
<path d="M312.04 53.99 L322.59 63.66 L333.13 70.03 L343.67 76.9 L354.21 83.52 L364.76 89.64 L375.3 95.49 L385.84 101.86 L396.38 108.23 L406.93 112.81" fill="none" stroke="#00ff00" stroke-width="1.3" stroke-dasharray="2.5,1,1,1" stroke-linejoin="round"/>
<polygon points="309.96,53.99 313.71,51.91 313.71,56.07" fill="#00ff00"/>
<polygon points="320.51,63.66 324.25,61.58 324.25,65.74" fill="#00ff00"/>
<polygon points="331.05,70.03 334.79,67.95 334.79,72.11" fill="#00ff00"/>
<polygon points="341.59,76.9 345.34,74.82 345.34,78.98" fill="#00ff00"/>
<polygon points="352.13,83.52 355.88,81.44 355.88,85.6" fill="#00ff00"/>
<polygon points="362.68,89.64 366.42,87.56 366.42,91.72" fill="#00ff00"/>
<polygon points="373.22,95.49 376.96,93.41 376.96,97.57" fill="#00ff00"/>
<polygon points="383.76,101.86 387.51,99.78 387.51,103.94" fill="#00ff00"/>
<polygon points="394.3,108.23 398.05,106.15 398.05,110.31" fill="#00ff00"/>
<polygon points="404.85,112.81 408.59,110.73 408.59,114.89" fill="#00ff00"/>
<path d="M312.04 53.99 L322.59 63.66 L333.13 70.03 L343.67 76.9 L354.21 83.52 L364.76 89.64 L375.3 95.49 L385.84 101.86 L396.38 108.23 L406.93 112.81" fill="none" stroke="#000000" stroke-width="1.3" stroke-dasharray="2.5,1,1,1" stroke-linejoin="round"/>
<circle cx="312.04" cy="53.99" r="1.04" fill="#000000"/>
<circle cx="322.59" cy="63.66" r="1.04" fill="#000000"/>
<circle cx="333.13" cy="70.03" r="1.04" fill="#000000"/>
<circle cx="343.67" cy="76.9" r="1.04" fill="#000000"/>
<circle cx="354.21" cy="83.52" r="1.04" fill="#000000"/>
<circle cx="364.76" cy="89.64" r="1.04" fill="#000000"/>
<circle cx="375.3" cy="95.49" r="1.04" fill="#000000"/>
<circle cx="385.84" cy="101.86" r="1.04" fill="#000000"/>
<circle cx="396.38" cy="108.23" r="1.04" fill="#000000"/>
<circle cx="406.93" cy="112.81" r="1.04" fill="#000000"/>
<path d="M312.04 53.99 L322.59 63.66 L333.13 70.03 L343.67 76.9 L354.21 83.52 L364.76 89.64 L375.3 95.49 L385.84 101.86 L396.38 108.23 L406.93 112.81" fill="none" stroke="#00ff00" stroke-width="1.3" stroke-dasharray="1.2,1.2" stroke-linejoin="round"/>
<circle cx="312.04" cy="53.99" r="1.95" fill="#00ff00"/>
<circle cx="322.59" cy="63.66" r="1.95" fill="#00ff00"/>
<circle cx="333.13" cy="70.03" r="1.95" fill="#00ff00"/>
<circle cx="343.67" cy="76.9" r="1.95" fill="#00ff00"/>
<circle cx="354.21" cy="83.52" r="1.95" fill="#00ff00"/>
<circle cx="364.76" cy="89.64" r="1.95" fill="#00ff00"/>
<circle cx="375.3" cy="95.49" r="1.95" fill="#00ff00"/>
<circle cx="385.84" cy="101.86" r="1.95" fill="#00ff00"/>
<circle cx="396.38" cy="108.23" r="1.95" fill="#00ff00"/>
<circle cx="406.93" cy="112.81" r="1.95" fill="#00ff00"/>
<path d="M312.04 17.32 L322.59 19.86 L333.13 22.92 L343.67 24.7 L354.21 26.23 L364.76 27.25 L375.3 28.27 L385.84 29.03 L396.38 29.54 L406.93 30.05" fill="none" stroke="#ff00ff" stroke-width="1.5" stroke-linejoin="round"/>
<polygon points="312.04,15.24 309.96,18.98 314.12,18.98" fill="#ff00ff"/>
<polygon points="322.59,17.78 320.51,21.53 324.67,21.53" fill="#ff00ff"/>
<polygon points="333.13,20.84 331.05,24.58 335.21,24.58" fill="#ff00ff"/>
<polygon points="343.67,22.62 341.59,26.36 345.75,26.36" fill="#ff00ff"/>
<polygon points="354.21,24.15 352.13,27.89 356.29,27.89" fill="#ff00ff"/>
<polygon points="364.76,25.17 362.68,28.91 366.84,28.91" fill="#ff00ff"/>
<polygon points="375.3,26.19 373.22,29.93 377.38,29.93" fill="#ff00ff"/>
<polygon points="385.84,26.95 383.76,30.69 387.92,30.69" fill="#ff00ff"/>
<polygon points="396.38,27.46 394.3,31.2 398.46,31.2" fill="#ff00ff"/>
<polygon points="406.93,27.97 404.85,31.71 409.01,31.71" fill="#ff00ff"/>
<path d="M312.04 13.24 L322.59 14.51 L333.13 15.53 L343.67 16.3 L354.21 17.06 L364.76 17.57 L375.3 17.83 L385.84 18.08 L396.38 18.33 L406.93 18.59" fill="none" stroke="#000000" stroke-width="1.5" stroke-linejoin="round"/>
<polygon points="312.04,10.12 312.81,12.19 315.01,12.28 313.28,13.64 313.88,15.77 312.04,14.54 310.21,15.77 310.81,13.64 309.08,12.28 311.28,12.19" fill="#000000"/>
<polygon points="322.59,11.39 323.35,13.46 325.55,13.55 323.82,14.92 324.42,17.04 322.59,15.81 320.75,17.04 321.35,14.92 319.62,13.55 321.82,13.46" fill="#000000"/>
<polygon points="333.13,12.41 333.89,14.48 336.1,14.57 334.37,15.94 334.96,18.06 333.13,16.83 331.3,18.06 331.89,15.94 330.16,14.57 332.36,14.48" fill="#000000"/>
<polygon points="343.67,13.18 344.44,15.25 346.64,15.33 344.91,16.7 345.51,18.82 343.67,17.6 341.84,18.82 342.44,16.7 340.7,15.33 342.91,15.25" fill="#000000"/>
<polygon points="354.21,13.94 354.98,16.01 357.18,16.1 355.45,17.46 356.05,19.59 354.21,18.36 352.38,19.59 352.98,17.46 351.25,16.1 353.45,16.01" fill="#000000"/>
<polygon points="364.76,14.45 365.52,16.52 367.72,16.61 365.99,17.97 366.59,20.09 364.76,18.87 362.92,20.09 363.52,17.97 361.79,16.61 363.99,16.52" fill="#000000"/>
<polygon points="375.3,14.71 376.06,16.77 378.27,16.86 376.54,18.23 377.13,20.35 375.3,19.13 373.46,20.35 374.06,18.23 372.33,16.86 374.53,16.77" fill="#000000"/>
<polygon points="385.84,14.96 386.61,17.03 388.81,17.12 387.08,18.48 387.67,20.6 385.84,19.38 384.01,20.6 384.6,18.48 382.87,17.12 385.08,17.03" fill="#000000"/>
<polygon points="396.38,15.21 397.15,17.28 399.35,17.37 397.62,18.74 398.22,20.86 396.38,19.63 394.55,20.86 395.15,18.74 393.42,17.37 395.62,17.28" fill="#000000"/>
<polygon points="406.93,15.47 407.69,17.54 409.89,17.63 408.16,18.99 408.76,21.11 406.93,19.89 405.09,21.11 405.69,18.99 403.96,17.63 406.16,17.54" fill="#000000"/>
<path d="M312.04 12.22 L322.59 14.26 L333.13 15.28 L343.67 16.04 L354.21 16.81 L364.76 17.32 L375.3 17.83 L385.84 18.33 L396.38 18.84 L406.93 19.1" fill="none" stroke="#ff0000" stroke-width="1.5" stroke-linejoin="round"/>
<circle cx="312.04" cy="12.22" r="1.69" fill="#ff0000"/>
<circle cx="322.59" cy="14.26" r="1.69" fill="#ff0000"/>
<circle cx="333.13" cy="15.28" r="1.69" fill="#ff0000"/>
<circle cx="343.67" cy="16.04" r="1.69" fill="#ff0000"/>
<circle cx="354.21" cy="16.81" r="1.69" fill="#ff0000"/>
<circle cx="364.76" cy="17.32" r="1.69" fill="#ff0000"/>
<circle cx="375.3" cy="17.83" r="1.69" fill="#ff0000"/>
<circle cx="385.84" cy="18.33" r="1.69" fill="#ff0000"/>
<circle cx="396.38" cy="18.84" r="1.69" fill="#ff0000"/>
<circle cx="406.93" cy="19.1" r="1.69" fill="#ff0000"/>
<path d="M312.04 14.77 L322.59 16.81 L333.13 17.83 L343.67 18.84 L354.21 19.61 L364.76 20.12 L375.3 20.63 L385.84 21.14 L396.38 21.65 L406.93 22.15" fill="none" stroke="#00ff00" stroke-width="1.5" stroke-linejoin="round"/>
<polygon points="312.04,16.85 309.96,13.11 314.12,13.11" fill="#00ff00"/>
<polygon points="322.59,18.89 320.51,15.14 324.67,15.14" fill="#00ff00"/>
<polygon points="333.13,19.91 331.05,16.16 335.21,16.16" fill="#00ff00"/>
<polygon points="343.67,20.92 341.59,17.18 345.75,17.18" fill="#00ff00"/>
<polygon points="354.21,21.69 352.13,17.94 356.29,17.94" fill="#00ff00"/>
<polygon points="364.76,22.2 362.68,18.45 366.84,18.45" fill="#00ff00"/>
<polygon points="375.3,22.71 373.22,18.96 377.38,18.96" fill="#00ff00"/>
<polygon points="385.84,23.22 383.76,19.47 387.92,19.47" fill="#00ff00"/>
<polygon points="396.38,23.73 394.3,19.98 398.46,19.98" fill="#00ff00"/>
<polygon points="406.93,24.23 404.85,20.49 409.01,20.49" fill="#00ff00"/>
<path d="M312.04 14.77 L322.59 16.3 L333.13 17.32 L343.67 18.08 L354.21 18.59 L364.76 18.84 L375.3 19.1 L385.84 19.35 L396.38 19.86 L406.93 20.12" fill="none" stroke="#00ffff" stroke-width="1.5" stroke-linejoin="round"/>
<polygon points="314.12,14.77 310.38,12.69 310.38,16.85" fill="#00ffff"/>
<polygon points="324.67,16.3 320.92,14.22 320.92,18.38" fill="#00ffff"/>
<polygon points="335.21,17.32 331.47,15.24 331.47,19.4" fill="#00ffff"/>
<polygon points="345.75,18.08 342.01,16 342.01,20.16" fill="#00ffff"/>
<polygon points="356.29,18.59 352.55,16.51 352.55,20.67" fill="#00ffff"/>
<polygon points="366.84,18.84 363.09,16.76 363.09,20.92" fill="#00ffff"/>
<polygon points="377.38,19.1 373.63,17.02 373.63,21.18" fill="#00ffff"/>
<polygon points="387.92,19.35 384.18,17.27 384.18,21.43" fill="#00ffff"/>
<polygon points="398.46,19.86 394.72,17.78 394.72,21.94" fill="#00ffff"/>
<polygon points="409.01,20.12 405.26,18.04 405.26,22.2" fill="#00ffff"/>
<path d="M312.04 13.75 L322.59 14.77 L333.13 15.79 L343.67 16.55 L354.21 17.06 L364.76 17.57 L375.3 17.83 L385.84 18.08 L396.38 18.59 L406.93 18.84" fill="none" stroke="#0000ff" stroke-width="1.5" stroke-linejoin="round"/>
<circle cx="312.04" cy="13.75" r="1.04" fill="#0000ff"/>
<circle cx="322.59" cy="14.77" r="1.04" fill="#0000ff"/>
<circle cx="333.13" cy="15.79" r="1.04" fill="#0000ff"/>
<circle cx="343.67" cy="16.55" r="1.04" fill="#0000ff"/>
<circle cx="354.21" cy="17.06" r="1.04" fill="#0000ff"/>
<circle cx="364.76" cy="17.57" r="1.04" fill="#0000ff"/>
<circle cx="375.3" cy="17.83" r="1.04" fill="#0000ff"/>
<circle cx="385.84" cy="18.08" r="1.04" fill="#0000ff"/>
<circle cx="396.38" cy="18.59" r="1.04" fill="#0000ff"/>
<circle cx="406.93" cy="18.84" r="1.04" fill="#0000ff"/>
</g>
<text x="301.5" y="119.62" font-size="5.6" text-anchor="middle" fill="#333">0</text>
<text x="322.59" y="119.62" font-size="5.6" text-anchor="middle" fill="#333">1</text>
<text x="343.67" y="119.62" font-size="5.6" text-anchor="middle" fill="#333">2</text>
<text x="364.76" y="119.62" font-size="5.6" text-anchor="middle" fill="#333">3</text>
<text x="385.84" y="119.62" font-size="5.6" text-anchor="middle" fill="#333">4</text>
<text x="406.93" y="119.62" font-size="5.6" text-anchor="middle" fill="#333">5</text>
<text x="299.9" y="19.93" font-size="5.6" text-anchor="end" fill="#333">21.6</text>
<text x="299.9" y="43.35" font-size="5.6" text-anchor="end" fill="#333">21.55</text>
<text x="299.9" y="67.04" font-size="5.6" text-anchor="end" fill="#333">21.5</text>
<text x="299.9" y="90.46" font-size="5.6" text-anchor="end" fill="#333">21.45</text>
<text x="299.9" y="114.14" font-size="5.6" text-anchor="end" fill="#333">21.4</text>
<text x="354.3" y="11.4" font-size="6.3" text-anchor="middle" textLength="26.8" lengthAdjust="spacingAndGlyphs" fill="#222">Function 3</text>
<text x="354.4" y="126.3" font-size="6.3" text-anchor="middle" textLength="49.5" lengthAdjust="spacingAndGlyphs" fill="#333">Fitness Evaluations</text>
<text x="403.2" y="126.99" font-size="5.0" text-anchor="middle" fill="#333">×10<tspan font-size="3.8" dy="-2.0">4</tspan></text>
<text transform="translate(284.8 65) rotate(-90)" font-size="5.5" text-anchor="middle" textLength="50" lengthAdjust="spacingAndGlyphs" fill="#333">Averaged Fitness Value</text>
<text x="343.9" y="139.3" font-size="7.4" text-anchor="middle" textLength="14.3" lengthAdjust="spacingAndGlyphs" fill="#222">(c)<tspan font-style="italic">F</tspan><tspan font-size="4.6">3</tspan></text>
<rect x="364.4" y="15.79" width="41" height="53" fill="none" stroke="#c8c8c8" stroke-width="0.5"/>
<line x1="365.2" y1="18.59" x2="374.2" y2="18.59" stroke="#000000" stroke-width="1.8"/>
<polygon points="369.5,15.47 370.26,17.54 372.47,17.62 370.74,18.99 371.33,21.11 369.5,19.89 367.67,21.11 368.26,18.99 366.53,17.62 368.74,17.54" fill="#000000"/>
<text x="374.3" y="20.44" font-size="5.4" fill="#333">DGCELSO</text>
<line x1="365.2" y1="23.77" x2="374.2" y2="23.77" stroke="#ff0000" stroke-width="1.8"/>
<circle cx="369.5" cy="23.77" r="1.69" fill="#ff0000"/>
<text x="374.3" y="25.62" font-size="5.4" fill="#333">TPLSO</text>
<line x1="365.2" y1="28.95" x2="374.2" y2="28.95" stroke="#00ff00" stroke-width="1.8"/>
<polygon points="369.5,31.03 367.42,27.28 371.58,27.28" fill="#00ff00"/>
<text x="374.3" y="30.8" font-size="5.4" fill="#333">SPLSO</text>
<line x1="365.2" y1="34.13" x2="374.2" y2="34.13" stroke="#0000ff" stroke-width="1.8"/>
<circle cx="369.5" cy="34.13" r="1.04" fill="#0000ff"/>
<text x="374.3" y="35.98" font-size="5.4" fill="#333">LLSO</text>
<line x1="365.2" y1="39.31" x2="374.2" y2="39.31" stroke="#00ffff" stroke-width="1.8"/>
<polygon points="371.58,39.31 367.84,37.23 367.84,41.39" fill="#00ffff"/>
<text x="374.3" y="41.16" font-size="5.4" fill="#333">CNO</text>
<line x1="365.2" y1="44.49" x2="374.2" y2="44.49" stroke="#ff00ff" stroke-width="1.8"/>
<polygon points="369.5,42.41 367.42,46.15 371.58,46.15" fill="#ff00ff"/>
<text x="374.3" y="46.34" font-size="5.4" fill="#333">SLPSO</text>
<line x1="365.2" y1="49.67" x2="374.2" y2="49.67" stroke="#ff0000" stroke-width="1.6" stroke-dasharray="1.2,1.2"/>
<circle cx="369.5" cy="49.67" r="1.3" fill="#ff0000"/>
<text x="374.3" y="51.52" font-size="5.4" fill="#333">DECC-DG</text>
<line x1="365.2" y1="54.85" x2="374.2" y2="54.85" stroke="#00ff00" stroke-width="1.6" stroke-dasharray="2.5,1,1,1"/>
<polygon points="367.42,54.85 371.16,52.77 371.16,56.93" fill="#00ff00"/>
<text x="374.3" y="56.7" font-size="5.4" fill="#333">DECC-GDG</text>
<line x1="365.2" y1="60.03" x2="374.2" y2="60.03" stroke="#000000" stroke-width="1.6" stroke-dasharray="2.5,1,1,1"/>
<circle cx="369.5" cy="60.03" r="1.04" fill="#000000"/>
<text x="374.3" y="61.88" font-size="5.4" fill="#333">DECC-RDG</text>
<line x1="365.2" y1="65.21" x2="374.2" y2="65.21" stroke="#00ff00" stroke-width="1.6" stroke-dasharray="1.2,1.2"/>
<circle cx="369.5" cy="65.21" r="1.95" fill="#00ff00"/>
<text x="374.3" y="67.06" font-size="5.4" fill="#333">DECC-RDG2</text>
<line x1="429.33" y1="105.79" x2="537.81" y2="105.79" stroke="#efefef" stroke-width="0.5"/>
<line x1="429.33" y1="101.38" x2="537.81" y2="101.38" stroke="#efefef" stroke-width="0.5"/>
<line x1="429.33" y1="98.26" x2="537.81" y2="98.26" stroke="#efefef" stroke-width="0.5"/>
<line x1="429.33" y1="95.83" x2="537.81" y2="95.83" stroke="#efefef" stroke-width="0.5"/>
<line x1="429.33" y1="93.85" x2="537.81" y2="93.85" stroke="#efefef" stroke-width="0.5"/>
<line x1="429.33" y1="92.17" x2="537.81" y2="92.17" stroke="#efefef" stroke-width="0.5"/>
<line x1="429.33" y1="90.72" x2="537.81" y2="90.72" stroke="#efefef" stroke-width="0.5"/>
<line x1="429.33" y1="89.44" x2="537.81" y2="89.44" stroke="#efefef" stroke-width="0.5"/>
<line x1="429.33" y1="80.77" x2="537.81" y2="80.77" stroke="#efefef" stroke-width="0.5"/>
<line x1="429.33" y1="76.36" x2="537.81" y2="76.36" stroke="#efefef" stroke-width="0.5"/>
<line x1="429.33" y1="73.24" x2="537.81" y2="73.24" stroke="#efefef" stroke-width="0.5"/>
<line x1="429.33" y1="70.81" x2="537.81" y2="70.81" stroke="#efefef" stroke-width="0.5"/>
<line x1="429.33" y1="68.83" x2="537.81" y2="68.83" stroke="#efefef" stroke-width="0.5"/>
<line x1="429.33" y1="67.16" x2="537.81" y2="67.16" stroke="#efefef" stroke-width="0.5"/>
<line x1="429.33" y1="65.7" x2="537.81" y2="65.7" stroke="#efefef" stroke-width="0.5"/>
<line x1="429.33" y1="64.42" x2="537.81" y2="64.42" stroke="#efefef" stroke-width="0.5"/>
<line x1="429.33" y1="55.75" x2="537.81" y2="55.75" stroke="#efefef" stroke-width="0.5"/>
<line x1="429.33" y1="51.34" x2="537.81" y2="51.34" stroke="#efefef" stroke-width="0.5"/>
<line x1="429.33" y1="48.22" x2="537.81" y2="48.22" stroke="#efefef" stroke-width="0.5"/>
<line x1="429.33" y1="45.79" x2="537.81" y2="45.79" stroke="#efefef" stroke-width="0.5"/>
<line x1="429.33" y1="43.81" x2="537.81" y2="43.81" stroke="#efefef" stroke-width="0.5"/>
<line x1="429.33" y1="42.14" x2="537.81" y2="42.14" stroke="#efefef" stroke-width="0.5"/>
<line x1="429.33" y1="40.69" x2="537.81" y2="40.69" stroke="#efefef" stroke-width="0.5"/>
<line x1="429.33" y1="39.41" x2="537.81" y2="39.41" stroke="#efefef" stroke-width="0.5"/>
<line x1="429.33" y1="30.73" x2="537.81" y2="30.73" stroke="#efefef" stroke-width="0.5"/>
<line x1="429.33" y1="26.32" x2="537.81" y2="26.32" stroke="#efefef" stroke-width="0.5"/>
<line x1="429.33" y1="23.2" x2="537.81" y2="23.2" stroke="#efefef" stroke-width="0.5"/>
<line x1="429.33" y1="20.77" x2="537.81" y2="20.77" stroke="#efefef" stroke-width="0.5"/>
<line x1="429.33" y1="18.79" x2="537.81" y2="18.79" stroke="#efefef" stroke-width="0.5"/>
<line x1="429.33" y1="17.12" x2="537.81" y2="17.12" stroke="#efefef" stroke-width="0.5"/>
<line x1="429.33" y1="15.67" x2="537.81" y2="15.67" stroke="#efefef" stroke-width="0.5"/>
<line x1="429.33" y1="14.39" x2="537.81" y2="14.39" stroke="#efefef" stroke-width="0.5"/>
<line x1="451.03" y1="13.6" x2="451.03" y2="113.32" stroke="#dedede" stroke-width="0.5"/>
<line x1="472.73" y1="13.6" x2="472.73" y2="113.32" stroke="#dedede" stroke-width="0.5"/>
<line x1="494.42" y1="13.6" x2="494.42" y2="113.32" stroke="#dedede" stroke-width="0.5"/>
<line x1="516.12" y1="13.6" x2="516.12" y2="113.32" stroke="#dedede" stroke-width="0.5"/>
<line x1="429.33" y1="38.2" x2="537.81" y2="38.2" stroke="#dedede" stroke-width="0.5"/>
<line x1="429.33" y1="63.66" x2="537.81" y2="63.66" stroke="#dedede" stroke-width="0.5"/>
<line x1="429.33" y1="88.62" x2="537.81" y2="88.62" stroke="#dedede" stroke-width="0.5"/>
<rect x="429.33" y="13.6" width="108.48" height="99.72" fill="none" stroke="#b4b4b4" stroke-width="0.8"/>
<clipPath id="c3"><rect x="428.33" y="12.1" width="110.48" height="102.72"/></clipPath>
<g clip-path="url(#c3)">
<path d="M451.03 31.83 L461.88 38.71 L472.73 42.02 L483.57 45.33 L494.42 47.87 L505.27 49.66 L516.12 51.69 L526.97 52.97 L537.81 54.24" fill="none" stroke="#ff0000" stroke-width="1.3" stroke-dasharray="1.2,1.2" stroke-linejoin="round"/>
<circle cx="451.03" cy="31.83" r="1.3" fill="#ff0000"/>
<circle cx="461.88" cy="38.71" r="1.3" fill="#ff0000"/>
<circle cx="472.73" cy="42.02" r="1.3" fill="#ff0000"/>
<circle cx="483.57" cy="45.33" r="1.3" fill="#ff0000"/>
<circle cx="494.42" cy="47.87" r="1.3" fill="#ff0000"/>
<circle cx="505.27" cy="49.66" r="1.3" fill="#ff0000"/>
<circle cx="516.12" cy="51.69" r="1.3" fill="#ff0000"/>
<circle cx="526.97" cy="52.97" r="1.3" fill="#ff0000"/>
<circle cx="537.81" cy="54.24" r="1.3" fill="#ff0000"/>
<path d="M440.18 47.87 L451.03 55.51 L461.88 60.35 L472.73 63.15 L483.57 65.44 L494.42 67.48 L505.27 69.26 L516.12 70.79 L526.97 71.81 L537.81 73.08" fill="none" stroke="#00ff00" stroke-width="1.3" stroke-dasharray="2.5,1,1,1" stroke-linejoin="round"/>
<polygon points="438.1,47.87 441.85,45.79 441.85,49.95" fill="#00ff00"/>
<polygon points="448.95,55.51 452.69,53.43 452.69,57.59" fill="#00ff00"/>
<polygon points="459.8,60.35 463.54,58.27 463.54,62.43" fill="#00ff00"/>
<polygon points="470.65,63.15 474.39,61.07 474.39,65.23" fill="#00ff00"/>
<polygon points="481.49,65.44 485.24,63.36 485.24,67.52" fill="#00ff00"/>
<polygon points="492.34,67.48 496.09,65.4 496.09,69.56" fill="#00ff00"/>
<polygon points="503.19,69.26 506.93,67.18 506.93,71.34" fill="#00ff00"/>
<polygon points="514.04,70.79 517.78,68.71 517.78,72.87" fill="#00ff00"/>
<polygon points="524.89,71.81 528.63,69.73 528.63,73.89" fill="#00ff00"/>
<polygon points="535.73,73.08 539.48,71 539.48,75.16" fill="#00ff00"/>
<path d="M440.18 47.87 L451.03 55.51 L461.88 60.35 L472.73 63.15 L483.57 65.44 L494.42 67.48 L505.27 69.26 L516.12 70.79 L526.97 71.81 L537.81 73.08" fill="none" stroke="#000000" stroke-width="1.3" stroke-dasharray="2.5,1,1,1" stroke-linejoin="round"/>
<circle cx="440.18" cy="47.87" r="1.04" fill="#000000"/>
<circle cx="451.03" cy="55.51" r="1.04" fill="#000000"/>
<circle cx="461.88" cy="60.35" r="1.04" fill="#000000"/>
<circle cx="472.73" cy="63.15" r="1.04" fill="#000000"/>
<circle cx="483.57" cy="65.44" r="1.04" fill="#000000"/>
<circle cx="494.42" cy="67.48" r="1.04" fill="#000000"/>
<circle cx="505.27" cy="69.26" r="1.04" fill="#000000"/>
<circle cx="516.12" cy="70.79" r="1.04" fill="#000000"/>
<circle cx="526.97" cy="71.81" r="1.04" fill="#000000"/>
<circle cx="537.81" cy="73.08" r="1.04" fill="#000000"/>
<path d="M440.18 47.87 L451.03 55.51 L461.88 60.35 L472.73 63.15 L483.57 65.44 L494.42 67.48 L505.27 69.26 L516.12 70.79 L526.97 71.81 L537.81 73.08" fill="none" stroke="#00ff00" stroke-width="1.3" stroke-dasharray="1.2,1.2" stroke-linejoin="round"/>
<circle cx="440.18" cy="47.87" r="1.95" fill="#00ff00"/>
<circle cx="451.03" cy="55.51" r="1.95" fill="#00ff00"/>
<circle cx="461.88" cy="60.35" r="1.95" fill="#00ff00"/>
<circle cx="472.73" cy="63.15" r="1.95" fill="#00ff00"/>
<circle cx="483.57" cy="65.44" r="1.95" fill="#00ff00"/>
<circle cx="494.42" cy="67.48" r="1.95" fill="#00ff00"/>
<circle cx="505.27" cy="69.26" r="1.95" fill="#00ff00"/>
<circle cx="516.12" cy="70.79" r="1.95" fill="#00ff00"/>
<circle cx="526.97" cy="71.81" r="1.95" fill="#00ff00"/>
<circle cx="537.81" cy="73.08" r="1.95" fill="#00ff00"/>
<path d="M440.18 71.81 L451.03 77.67 L461.88 80.98 L472.73 82.76 L483.57 84.03 L494.42 85.31 L505.27 86.07 L516.12 87.09 L526.97 87.85 L537.81 88.62" fill="none" stroke="#00ffff" stroke-width="1.5" stroke-linejoin="round"/>
<polygon points="442.26,71.81 438.52,69.73 438.52,73.89" fill="#00ffff"/>
<polygon points="453.11,77.67 449.37,75.59 449.37,79.75" fill="#00ffff"/>
<polygon points="463.96,80.98 460.21,78.9 460.21,83.06" fill="#00ffff"/>
<polygon points="474.81,82.76 471.06,80.68 471.06,84.84" fill="#00ffff"/>
<polygon points="485.65,84.03 481.91,81.95 481.91,86.11" fill="#00ffff"/>
<polygon points="496.5,85.31 492.76,83.23 492.76,87.39" fill="#00ffff"/>
<polygon points="507.35,86.07 503.61,83.99 503.61,88.15" fill="#00ffff"/>
<polygon points="518.2,87.09 514.45,85.01 514.45,89.17" fill="#00ffff"/>
<polygon points="529.05,87.85 525.3,85.77 525.3,89.93" fill="#00ffff"/>
<polygon points="539.89,88.62 536.15,86.54 536.15,90.7" fill="#00ffff"/>
<path d="M440.18 74.36 L451.03 80.98 L461.88 84.03 L472.73 86.58 L483.57 88.62 L494.42 90.4 L505.27 91.67 L516.12 92.95 L526.97 93.71 L537.81 94.73" fill="none" stroke="#00ff00" stroke-width="1.5" stroke-linejoin="round"/>
<polygon points="440.18,76.44 438.1,72.69 442.26,72.69" fill="#00ff00"/>
<polygon points="451.03,83.06 448.95,79.31 453.11,79.31" fill="#00ff00"/>
<polygon points="461.88,86.11 459.8,82.37 463.96,82.37" fill="#00ff00"/>
<polygon points="472.73,88.66 470.65,84.92 474.81,84.92" fill="#00ff00"/>
<polygon points="483.57,90.7 481.49,86.95 485.65,86.95" fill="#00ff00"/>
<polygon points="494.42,92.48 492.34,88.74 496.5,88.74" fill="#00ff00"/>
<polygon points="505.27,93.75 503.19,90.01 507.35,90.01" fill="#00ff00"/>
<polygon points="516.12,95.03 514.04,91.28 518.2,91.28" fill="#00ff00"/>
<polygon points="526.97,95.79 524.89,92.05 529.05,92.05" fill="#00ff00"/>
<polygon points="537.81,96.81 535.73,93.06 539.89,93.06" fill="#00ff00"/>
<path d="M440.18 76.39 L451.03 82.76 L461.88 86.58 L472.73 89.64 L483.57 92.18 L494.42 94.22 L505.27 96 L516.12 97.28 L526.97 98.29 L537.81 99.31" fill="none" stroke="#0000ff" stroke-width="1.5" stroke-linejoin="round"/>
<circle cx="440.18" cy="76.39" r="1.04" fill="#0000ff"/>
<circle cx="451.03" cy="82.76" r="1.04" fill="#0000ff"/>
<circle cx="461.88" cy="86.58" r="1.04" fill="#0000ff"/>
<circle cx="472.73" cy="89.64" r="1.04" fill="#0000ff"/>
<circle cx="483.57" cy="92.18" r="1.04" fill="#0000ff"/>
<circle cx="494.42" cy="94.22" r="1.04" fill="#0000ff"/>
<circle cx="505.27" cy="96" r="1.04" fill="#0000ff"/>
<circle cx="516.12" cy="97.28" r="1.04" fill="#0000ff"/>
<circle cx="526.97" cy="98.29" r="1.04" fill="#0000ff"/>
<circle cx="537.81" cy="99.31" r="1.04" fill="#0000ff"/>
<path d="M440.18 79.45 L451.03 86.58 L461.88 90.4 L472.73 94.22 L483.57 96.77 L494.42 98.8 L505.27 100.59 L516.12 101.86 L526.97 102.62 L537.81 103.64" fill="none" stroke="#ff00ff" stroke-width="1.5" stroke-linejoin="round"/>
<polygon points="440.18,77.37 438.1,81.11 442.26,81.11" fill="#ff00ff"/>
<polygon points="451.03,84.5 448.95,88.24 453.11,88.24" fill="#ff00ff"/>
<polygon points="461.88,88.32 459.8,92.06 463.96,92.06" fill="#ff00ff"/>
<polygon points="472.73,92.14 470.65,95.88 474.81,95.88" fill="#ff00ff"/>
<polygon points="483.57,94.69 481.49,98.43 485.65,98.43" fill="#ff00ff"/>
<polygon points="494.42,96.72 492.34,100.47 496.5,100.47" fill="#ff00ff"/>
<polygon points="505.27,98.51 503.19,102.25 507.35,102.25" fill="#ff00ff"/>
<polygon points="516.12,99.78 514.04,103.52 518.2,103.52" fill="#ff00ff"/>
<polygon points="526.97,100.54 524.89,104.29 529.05,104.29" fill="#ff00ff"/>
<polygon points="537.81,101.56 535.73,105.31 539.89,105.31" fill="#ff00ff"/>
<path d="M440.18 83.02 L451.03 88.87 L461.88 93.96 L472.73 97.02 L483.57 99.82 L494.42 101.6 L505.27 103.64 L516.12 106.7 L526.97 109.75 L537.81 113.06" fill="none" stroke="#ff0000" stroke-width="1.5" stroke-linejoin="round"/>
<circle cx="440.18" cy="83.02" r="1.69" fill="#ff0000"/>
<circle cx="451.03" cy="88.87" r="1.69" fill="#ff0000"/>
<circle cx="461.88" cy="93.96" r="1.69" fill="#ff0000"/>
<circle cx="472.73" cy="97.02" r="1.69" fill="#ff0000"/>
<circle cx="483.57" cy="99.82" r="1.69" fill="#ff0000"/>
<circle cx="494.42" cy="101.6" r="1.69" fill="#ff0000"/>
<circle cx="505.27" cy="103.64" r="1.69" fill="#ff0000"/>
<circle cx="516.12" cy="106.7" r="1.69" fill="#ff0000"/>
<circle cx="526.97" cy="109.75" r="1.69" fill="#ff0000"/>
<circle cx="537.81" cy="113.06" r="1.69" fill="#ff0000"/>
<path d="M440.18 83.52 L451.03 89.13 L461.88 94.22 L472.73 97.28 L483.57 100.08 L494.42 101.86 L505.27 103.9 L516.12 106.95 L526.97 110.01 L537.81 113.32" fill="none" stroke="#000000" stroke-width="1.5" stroke-linejoin="round"/>
<polygon points="440.18,80.4 440.95,82.47 443.15,82.56 441.42,83.93 442.02,86.05 440.18,84.82 438.35,86.05 438.95,83.93 437.22,82.56 439.42,82.47" fill="#000000"/>
<polygon points="451.03,86.01 451.79,88.07 454,88.16 452.27,89.53 452.86,91.65 451.03,90.43 449.2,91.65 449.79,89.53 448.06,88.16 450.27,88.07" fill="#000000"/>
<polygon points="461.88,91.1 462.64,93.17 464.85,93.26 463.11,94.62 463.71,96.74 461.88,95.52 460.04,96.74 460.64,94.62 458.91,93.26 461.11,93.17" fill="#000000"/>
<polygon points="472.73,94.16 473.49,96.22 475.69,96.31 473.96,97.68 474.56,99.8 472.73,98.58 470.89,99.8 471.49,97.68 469.76,96.31 471.96,96.22" fill="#000000"/>
<polygon points="483.57,96.96 484.34,99.02 486.54,99.11 484.81,100.48 485.41,102.6 483.57,101.38 481.74,102.6 482.34,100.48 480.61,99.11 482.81,99.02" fill="#000000"/>
<polygon points="494.42,98.74 495.19,100.81 497.39,100.89 495.66,102.26 496.26,104.38 494.42,103.16 492.59,104.38 493.19,102.26 491.46,100.89 493.66,100.81" fill="#000000"/>
<polygon points="505.27,100.78 506.03,102.84 508.24,102.93 506.51,104.3 507.1,106.42 505.27,105.2 503.44,106.42 504.03,104.3 502.3,102.93 504.51,102.84" fill="#000000"/>
<polygon points="516.12,103.83 516.88,105.9 519.09,105.99 517.35,107.35 517.95,109.48 516.12,108.25 514.28,109.48 514.88,107.35 513.15,105.99 515.35,105.9" fill="#000000"/>
<polygon points="526.97,106.89 527.73,108.96 529.93,109.04 528.2,110.41 528.8,112.53 526.97,111.31 525.13,112.53 525.73,110.41 524,109.04 526.2,108.96" fill="#000000"/>
<polygon points="537.81,110.2 538.58,112.27 540.78,112.35 539.05,113.72 539.65,115.84 537.81,114.62 535.98,115.84 536.58,113.72 534.85,112.35 537.05,112.27" fill="#000000"/>
</g>
<text x="429.33" y="119.62" font-size="5.6" text-anchor="middle" fill="#333">0</text>
<text x="451.03" y="119.62" font-size="5.6" text-anchor="middle" fill="#333">1</text>
<text x="472.73" y="119.62" font-size="5.6" text-anchor="middle" fill="#333">2</text>
<text x="494.42" y="119.62" font-size="5.6" text-anchor="middle" fill="#333">3</text>
<text x="516.12" y="119.62" font-size="5.6" text-anchor="middle" fill="#333">4</text>
<text x="537.81" y="119.62" font-size="5.6" text-anchor="middle" fill="#333">5</text>
<text x="428.13" y="15.94" font-size="5.6" text-anchor="end" fill="#333">10<tspan font-size="4.3" dy="-2.2">13</tspan></text>
<text x="428.13" y="40.9" font-size="5.6" text-anchor="end" fill="#333">10<tspan font-size="4.3" dy="-2.2">12</tspan></text>
<text x="428.13" y="66.36" font-size="5.6" text-anchor="end" fill="#333">10<tspan font-size="4.3" dy="-2.2">11</tspan></text>
<text x="428.13" y="91.32" font-size="5.6" text-anchor="end" fill="#333">10<tspan font-size="4.3" dy="-2.2">10</tspan></text>
<text x="428.13" y="116.02" font-size="5.6" text-anchor="end" fill="#333">10<tspan font-size="4.3" dy="-2.2">9</tspan></text>
<text x="483.7" y="11.4" font-size="6.3" text-anchor="middle" textLength="26.8" lengthAdjust="spacingAndGlyphs" fill="#222">Function 4</text>
<text x="483.5" y="125.9" font-size="6.3" text-anchor="middle" textLength="49.5" lengthAdjust="spacingAndGlyphs" fill="#333">Fitness Evaluations</text>
<text x="531.28" y="126.99" font-size="5.0" text-anchor="middle" fill="#333">×10<tspan font-size="3.8" dy="-2.0">4</tspan></text>
<text transform="translate(414.8 65) rotate(-90)" font-size="5.5" text-anchor="middle" textLength="54" lengthAdjust="spacingAndGlyphs" fill="#333">Averaged Fitness Value</text>
<text x="474.6" y="139.3" font-size="7.4" text-anchor="middle" textLength="14.2" lengthAdjust="spacingAndGlyphs" fill="#222">(d)<tspan font-style="italic">F</tspan><tspan font-size="4.6">4</tspan></text>
<rect x="495.03" y="15.2" width="41" height="53" fill="none" stroke="#c8c8c8" stroke-width="0.5"/>
<line x1="495.83" y1="18" x2="504.83" y2="18" stroke="#000000" stroke-width="1.8"/>
<polygon points="500.13,14.88 500.9,16.95 503.1,17.04 501.37,18.4 501.97,20.53 500.13,19.3 498.3,20.53 498.9,18.4 497.17,17.04 499.37,16.95" fill="#000000"/>
<text x="504.93" y="19.85" font-size="5.4" fill="#333">DGCELSO</text>
<line x1="495.83" y1="23.18" x2="504.83" y2="23.18" stroke="#ff0000" stroke-width="1.8"/>
<circle cx="500.13" cy="23.18" r="1.69" fill="#ff0000"/>
<text x="504.93" y="25.03" font-size="5.4" fill="#333">TPLSO</text>
<line x1="495.83" y1="28.36" x2="504.83" y2="28.36" stroke="#00ff00" stroke-width="1.8"/>
<polygon points="500.13,30.44 498.05,26.7 502.21,26.7" fill="#00ff00"/>
<text x="504.93" y="30.21" font-size="5.4" fill="#333">SPLSO</text>
<line x1="495.83" y1="33.54" x2="504.83" y2="33.54" stroke="#0000ff" stroke-width="1.8"/>
<circle cx="500.13" cy="33.54" r="1.04" fill="#0000ff"/>
<text x="504.93" y="35.39" font-size="5.4" fill="#333">LLSO</text>
<line x1="495.83" y1="38.72" x2="504.83" y2="38.72" stroke="#00ffff" stroke-width="1.8"/>
<polygon points="502.21,38.72 498.47,36.64 498.47,40.8" fill="#00ffff"/>
<text x="504.93" y="40.57" font-size="5.4" fill="#333">CNO</text>
<line x1="495.83" y1="43.9" x2="504.83" y2="43.9" stroke="#ff00ff" stroke-width="1.8"/>
<polygon points="500.13,41.82 498.05,45.57 502.21,45.57" fill="#ff00ff"/>
<text x="504.93" y="45.75" font-size="5.4" fill="#333">SLPSO</text>
<line x1="495.83" y1="49.08" x2="504.83" y2="49.08" stroke="#ff0000" stroke-width="1.6" stroke-dasharray="1.2,1.2"/>
<circle cx="500.13" cy="49.08" r="1.3" fill="#ff0000"/>
<text x="504.93" y="50.93" font-size="5.4" fill="#333">DECC-DG</text>
<line x1="495.83" y1="54.26" x2="504.83" y2="54.26" stroke="#00ff00" stroke-width="1.6" stroke-dasharray="2.5,1,1,1"/>
<polygon points="498.05,54.26 501.8,52.18 501.8,56.34" fill="#00ff00"/>
<text x="504.93" y="56.11" font-size="5.4" fill="#333">DECC-GDG</text>
<line x1="495.83" y1="59.44" x2="504.83" y2="59.44" stroke="#000000" stroke-width="1.6" stroke-dasharray="2.5,1,1,1"/>
<circle cx="500.13" cy="59.44" r="1.04" fill="#000000"/>
<text x="504.93" y="61.29" font-size="5.4" fill="#333">DECC-RDG</text>
<line x1="495.83" y1="64.62" x2="504.83" y2="64.62" stroke="#00ff00" stroke-width="1.6" stroke-dasharray="1.2,1.2"/>
<circle cx="500.13" cy="64.62" r="1.95" fill="#00ff00"/>
<text x="504.93" y="66.47" font-size="5.4" fill="#333">DECC-RDG2</text>
<line x1="24.19" y1="242.7" x2="134.96" y2="242.7" stroke="#efefef" stroke-width="0.5"/>
<line x1="24.19" y1="238.41" x2="134.96" y2="238.41" stroke="#efefef" stroke-width="0.5"/>
<line x1="24.19" y1="234.64" x2="134.96" y2="234.64" stroke="#efefef" stroke-width="0.5"/>
<line x1="24.19" y1="209.03" x2="134.96" y2="209.03" stroke="#efefef" stroke-width="0.5"/>
<line x1="24.19" y1="196.02" x2="134.96" y2="196.02" stroke="#efefef" stroke-width="0.5"/>
<line x1="24.19" y1="186.8" x2="134.96" y2="186.8" stroke="#efefef" stroke-width="0.5"/>
<line x1="24.19" y1="179.64" x2="134.96" y2="179.64" stroke="#efefef" stroke-width="0.5"/>
<line x1="24.19" y1="173.79" x2="134.96" y2="173.79" stroke="#efefef" stroke-width="0.5"/>
<line x1="24.19" y1="168.85" x2="134.96" y2="168.85" stroke="#efefef" stroke-width="0.5"/>
<line x1="24.19" y1="164.57" x2="134.96" y2="164.57" stroke="#efefef" stroke-width="0.5"/>
<line x1="24.19" y1="160.79" x2="134.96" y2="160.79" stroke="#efefef" stroke-width="0.5"/>
<line x1="46.35" y1="147.22" x2="46.35" y2="247.3" stroke="#dedede" stroke-width="0.5"/>
<line x1="68.5" y1="147.22" x2="68.5" y2="247.3" stroke="#dedede" stroke-width="0.5"/>
<line x1="90.65" y1="147.22" x2="90.65" y2="247.3" stroke="#dedede" stroke-width="0.5"/>
<line x1="112.81" y1="147.22" x2="112.81" y2="247.3" stroke="#dedede" stroke-width="0.5"/>
<line x1="24.19" y1="157.41" x2="134.96" y2="157.41" stroke="#dedede" stroke-width="0.5"/>
<line x1="24.19" y1="231.26" x2="134.96" y2="231.26" stroke="#dedede" stroke-width="0.5"/>
<rect x="24.19" y="147.22" width="110.77" height="100.08" fill="none" stroke="#b4b4b4" stroke-width="0.8"/>
<clipPath id="c4"><rect x="23.19" y="145.72" width="112.77" height="103.08"/></clipPath>
<g clip-path="url(#c4)">
<path d="M46.35 147.73 L57.42 154.86 L68.5 157.92 L79.58 159.7 L90.65 160.97 L101.73 161.99 L112.81 163.01 L123.89 163.78 L134.96 164.79" fill="none" stroke="#ff0000" stroke-width="1.3" stroke-dasharray="1.2,1.2" stroke-linejoin="round"/>
<circle cx="46.35" cy="147.73" r="1.3" fill="#ff0000"/>
<circle cx="57.42" cy="154.86" r="1.3" fill="#ff0000"/>
<circle cx="68.5" cy="157.92" r="1.3" fill="#ff0000"/>
<circle cx="79.58" cy="159.7" r="1.3" fill="#ff0000"/>
<circle cx="90.65" cy="160.97" r="1.3" fill="#ff0000"/>
<circle cx="101.73" cy="161.99" r="1.3" fill="#ff0000"/>
<circle cx="112.81" cy="163.01" r="1.3" fill="#ff0000"/>
<circle cx="123.89" cy="163.78" r="1.3" fill="#ff0000"/>
<circle cx="134.96" cy="164.79" r="1.3" fill="#ff0000"/>
<path d="M35.27 161.74 L46.35 166.83 L57.42 169.38 L68.5 171.41 L79.58 173.2 L90.65 174.72 L101.73 176.25 L112.81 177.27 L123.89 178.29 L134.96 179.56" fill="none" stroke="#00ff00" stroke-width="1.3" stroke-dasharray="2.5,1,1,1" stroke-linejoin="round"/>
<polygon points="33.19,161.74 36.93,159.66 36.93,163.82" fill="#00ff00"/>
<polygon points="44.27,166.83 48.01,164.75 48.01,168.91" fill="#00ff00"/>
<polygon points="55.34,169.38 59.09,167.3 59.09,171.46" fill="#00ff00"/>
<polygon points="66.42,171.41 70.16,169.33 70.16,173.49" fill="#00ff00"/>
<polygon points="77.5,173.2 81.24,171.12 81.24,175.28" fill="#00ff00"/>
<polygon points="88.57,174.72 92.32,172.64 92.32,176.8" fill="#00ff00"/>
<polygon points="99.65,176.25 103.4,174.17 103.4,178.33" fill="#00ff00"/>
<polygon points="110.73,177.27 114.47,175.19 114.47,179.35" fill="#00ff00"/>
<polygon points="121.81,178.29 125.55,176.21 125.55,180.37" fill="#00ff00"/>
<polygon points="132.88,179.56 136.63,177.48 136.63,181.64" fill="#00ff00"/>
<path d="M35.27 161.74 L46.35 166.83 L57.42 169.38 L68.5 171.41 L79.58 173.2 L90.65 174.72 L101.73 176.25 L112.81 177.27 L123.89 178.29 L134.96 179.56" fill="none" stroke="#000000" stroke-width="1.3" stroke-dasharray="2.5,1,1,1" stroke-linejoin="round"/>
<circle cx="35.27" cy="161.74" r="1.04" fill="#000000"/>
<circle cx="46.35" cy="166.83" r="1.04" fill="#000000"/>
<circle cx="57.42" cy="169.38" r="1.04" fill="#000000"/>
<circle cx="68.5" cy="171.41" r="1.04" fill="#000000"/>
<circle cx="79.58" cy="173.2" r="1.04" fill="#000000"/>
<circle cx="90.65" cy="174.72" r="1.04" fill="#000000"/>
<circle cx="101.73" cy="176.25" r="1.04" fill="#000000"/>
<circle cx="112.81" cy="177.27" r="1.04" fill="#000000"/>
<circle cx="123.89" cy="178.29" r="1.04" fill="#000000"/>
<circle cx="134.96" cy="179.56" r="1.04" fill="#000000"/>
<path d="M35.27 161.74 L46.35 166.83 L57.42 169.38 L68.5 171.41 L79.58 173.2 L90.65 174.72 L101.73 176.25 L112.81 177.27 L123.89 178.29 L134.96 179.56" fill="none" stroke="#00ff00" stroke-width="1.3" stroke-dasharray="1.2,1.2" stroke-linejoin="round"/>
<circle cx="35.27" cy="161.74" r="1.95" fill="#00ff00"/>
<circle cx="46.35" cy="166.83" r="1.95" fill="#00ff00"/>
<circle cx="57.42" cy="169.38" r="1.95" fill="#00ff00"/>
<circle cx="68.5" cy="171.41" r="1.95" fill="#00ff00"/>
<circle cx="79.58" cy="173.2" r="1.95" fill="#00ff00"/>
<circle cx="90.65" cy="174.72" r="1.95" fill="#00ff00"/>
<circle cx="101.73" cy="176.25" r="1.95" fill="#00ff00"/>
<circle cx="112.81" cy="177.27" r="1.95" fill="#00ff00"/>
<circle cx="123.89" cy="178.29" r="1.95" fill="#00ff00"/>
<circle cx="134.96" cy="179.56" r="1.95" fill="#00ff00"/>
<path d="M35.27 245.52 L46.35 245.52 L57.42 245.52 L68.5 245.52 L79.58 245.52 L90.65 245.52 L101.73 245.52 L112.81 245.52 L123.89 245.52 L134.96 245.52" fill="none" stroke="#ff0000" stroke-width="1.5" stroke-linejoin="round"/>
<circle cx="35.27" cy="245.52" r="1.69" fill="#ff0000"/>
<circle cx="46.35" cy="245.52" r="1.69" fill="#ff0000"/>
<circle cx="57.42" cy="245.52" r="1.69" fill="#ff0000"/>
<circle cx="68.5" cy="245.52" r="1.69" fill="#ff0000"/>
<circle cx="79.58" cy="245.52" r="1.69" fill="#ff0000"/>
<circle cx="90.65" cy="245.52" r="1.69" fill="#ff0000"/>
<circle cx="101.73" cy="245.52" r="1.69" fill="#ff0000"/>
<circle cx="112.81" cy="245.52" r="1.69" fill="#ff0000"/>
<circle cx="123.89" cy="245.52" r="1.69" fill="#ff0000"/>
<circle cx="134.96" cy="245.52" r="1.69" fill="#ff0000"/>
<path d="M35.27 246.03 L46.35 246.03 L57.42 246.03 L68.5 246.03 L79.58 246.03 L90.65 246.03 L101.73 246.03 L112.81 246.03 L123.89 246.03 L134.96 246.03" fill="none" stroke="#00ff00" stroke-width="1.5" stroke-linejoin="round"/>
<polygon points="35.27,248.11 33.19,244.36 37.35,244.36" fill="#00ff00"/>
<polygon points="46.35,248.11 44.27,244.36 48.43,244.36" fill="#00ff00"/>
<polygon points="57.42,248.11 55.34,244.36 59.5,244.36" fill="#00ff00"/>
<polygon points="68.5,248.11 66.42,244.36 70.58,244.36" fill="#00ff00"/>
<polygon points="79.58,248.11 77.5,244.36 81.66,244.36" fill="#00ff00"/>
<polygon points="90.65,248.11 88.57,244.36 92.73,244.36" fill="#00ff00"/>
<polygon points="101.73,248.11 99.65,244.36 103.81,244.36" fill="#00ff00"/>
<polygon points="112.81,248.11 110.73,244.36 114.89,244.36" fill="#00ff00"/>
<polygon points="123.89,248.11 121.81,244.36 125.97,244.36" fill="#00ff00"/>
<polygon points="134.96,248.11 132.88,244.36 137.04,244.36" fill="#00ff00"/>
<path d="M35.27 244.5 L46.35 244.5 L57.42 244.5 L68.5 244.5 L79.58 244.5 L90.65 244.5 L101.73 244.5 L112.81 244.5 L123.89 244.5 L134.96 244.5" fill="none" stroke="#0000ff" stroke-width="1.5" stroke-linejoin="round"/>
<circle cx="35.27" cy="244.5" r="1.04" fill="#0000ff"/>
<circle cx="46.35" cy="244.5" r="1.04" fill="#0000ff"/>
<circle cx="57.42" cy="244.5" r="1.04" fill="#0000ff"/>
<circle cx="68.5" cy="244.5" r="1.04" fill="#0000ff"/>
<circle cx="79.58" cy="244.5" r="1.04" fill="#0000ff"/>
<circle cx="90.65" cy="244.5" r="1.04" fill="#0000ff"/>
<circle cx="101.73" cy="244.5" r="1.04" fill="#0000ff"/>
<circle cx="112.81" cy="244.5" r="1.04" fill="#0000ff"/>
<circle cx="123.89" cy="244.5" r="1.04" fill="#0000ff"/>
<circle cx="134.96" cy="244.5" r="1.04" fill="#0000ff"/>
<path d="M35.27 247.04 L46.35 247.04 L57.42 247.04 L68.5 247.04 L79.58 247.04 L90.65 247.04 L101.73 247.04 L112.81 247.04 L123.89 247.04 L134.96 247.04" fill="none" stroke="#00ffff" stroke-width="1.5" stroke-linejoin="round"/>
<polygon points="37.35,247.04 33.6,244.96 33.6,249.12" fill="#00ffff"/>
<polygon points="48.43,247.04 44.68,244.96 44.68,249.12" fill="#00ffff"/>
<polygon points="59.5,247.04 55.76,244.96 55.76,249.12" fill="#00ffff"/>
<polygon points="70.58,247.04 66.84,244.96 66.84,249.12" fill="#00ffff"/>
<polygon points="81.66,247.04 77.91,244.96 77.91,249.12" fill="#00ffff"/>
<polygon points="92.73,247.04 88.99,244.96 88.99,249.12" fill="#00ffff"/>
<polygon points="103.81,247.04 100.07,244.96 100.07,249.12" fill="#00ffff"/>
<polygon points="114.89,247.04 111.14,244.96 111.14,249.12" fill="#00ffff"/>
<polygon points="125.97,247.04 122.22,244.96 122.22,249.12" fill="#00ffff"/>
<polygon points="137.04,247.04 133.3,244.96 133.3,249.12" fill="#00ffff"/>
<path d="M35.27 234.31 L46.35 234.31 L57.42 234.31 L68.5 234.31 L79.58 234.31 L90.65 234.31 L101.73 234.31 L112.81 234.31 L123.89 234.31 L134.96 234.31" fill="none" stroke="#ff00ff" stroke-width="1.5" stroke-linejoin="round"/>
<polygon points="35.27,232.23 33.19,235.98 37.35,235.98" fill="#ff00ff"/>
<polygon points="46.35,232.23 44.27,235.98 48.43,235.98" fill="#ff00ff"/>
<polygon points="57.42,232.23 55.34,235.98 59.5,235.98" fill="#ff00ff"/>
<polygon points="68.5,232.23 66.42,235.98 70.58,235.98" fill="#ff00ff"/>
<polygon points="79.58,232.23 77.5,235.98 81.66,235.98" fill="#ff00ff"/>
<polygon points="90.65,232.23 88.57,235.98 92.73,235.98" fill="#ff00ff"/>
<polygon points="101.73,232.23 99.65,235.98 103.81,235.98" fill="#ff00ff"/>
<polygon points="112.81,232.23 110.73,235.98 114.89,235.98" fill="#ff00ff"/>
<polygon points="123.89,232.23 121.81,235.98 125.97,235.98" fill="#ff00ff"/>
<polygon points="134.96,232.23 132.88,235.98 137.04,235.98" fill="#ff00ff"/>
<path d="M35.27 170.65 L46.35 184.66 L57.42 203.75 L68.5 213.94 L79.58 225.4 L90.65 225.4 L101.73 225.4 L112.81 238.9 L123.89 239.91 L134.96 239.91" fill="none" stroke="#000000" stroke-width="1.5" stroke-linejoin="round"/>
<polygon points="35.27,167.53 36.03,169.6 38.24,169.69 36.51,171.05 37.1,173.17 35.27,171.95 33.43,173.17 34.03,171.05 32.3,169.69 34.5,169.6" fill="#000000"/>
<polygon points="46.35,181.54 47.11,183.6 49.31,183.69 47.58,185.06 48.18,187.18 46.35,185.96 44.51,187.18 45.11,185.06 43.38,183.69 45.58,183.6" fill="#000000"/>
<polygon points="57.42,200.63 58.19,202.7 60.39,202.79 58.66,204.16 59.26,206.28 57.42,205.05 55.59,206.28 56.19,204.16 54.46,202.79 56.66,202.7" fill="#000000"/>
<polygon points="68.5,210.82 69.26,212.89 71.47,212.98 69.74,214.34 70.33,216.46 68.5,215.24 66.67,216.46 67.26,214.34 65.53,212.98 67.74,212.89" fill="#000000"/>
<polygon points="79.58,222.28 80.34,224.35 82.54,224.44 80.81,225.8 81.41,227.92 79.58,226.7 77.74,227.92 78.34,225.8 76.61,224.44 78.81,224.35" fill="#000000"/>
<polygon points="90.65,222.28 91.42,224.35 93.62,224.44 91.89,225.8 92.49,227.92 90.65,226.7 88.82,227.92 89.42,225.8 87.69,224.44 89.89,224.35" fill="#000000"/>
<polygon points="101.73,222.28 102.5,224.35 104.7,224.44 102.97,225.8 103.57,227.92 101.73,226.7 99.9,227.92 100.5,225.8 98.76,224.44 100.97,224.35" fill="#000000"/>
<polygon points="112.81,235.78 113.57,237.84 115.78,237.93 114.05,239.3 114.64,241.42 112.81,240.2 110.97,241.42 111.57,239.3 109.84,237.93 112.04,237.84" fill="#000000"/>
<polygon points="123.89,236.79 124.65,238.86 126.85,238.95 125.12,240.32 125.72,242.44 123.89,241.21 122.05,242.44 122.65,240.32 120.92,238.95 123.12,238.86" fill="#000000"/>
<polygon points="134.96,236.79 135.73,238.86 137.93,238.95 136.2,240.32 136.8,242.44 134.96,241.21 133.13,242.44 133.73,240.32 132,238.95 134.2,238.86" fill="#000000"/>
</g>
<text x="24.19" y="253.6" font-size="5.6" text-anchor="middle" fill="#333">0</text>
<text x="46.35" y="253.6" font-size="5.6" text-anchor="middle" fill="#333">1</text>
<text x="68.5" y="253.6" font-size="5.6" text-anchor="middle" fill="#333">2</text>
<text x="90.65" y="253.6" font-size="5.6" text-anchor="middle" fill="#333">3</text>
<text x="112.81" y="253.6" font-size="5.6" text-anchor="middle" fill="#333">4</text>
<text x="134.96" y="253.6" font-size="5.6" text-anchor="middle" fill="#333">5</text>
<text x="22.99" y="160.11" font-size="5.6" text-anchor="end" fill="#333">10<tspan font-size="4.3" dy="-2.2">7</tspan></text>
<text x="22.99" y="233.96" font-size="5.6" text-anchor="end" fill="#333">10<tspan font-size="4.3" dy="-2.2">6</tspan></text>
<text x="79.7" y="145.6" font-size="6.3" text-anchor="middle" textLength="27" lengthAdjust="spacingAndGlyphs" fill="#222">Function 5</text>
<text x="78.9" y="260.7" font-size="6.3" text-anchor="middle" textLength="49.5" lengthAdjust="spacingAndGlyphs" fill="#333">Fitness Evaluations</text>
<text x="129.2" y="261.99" font-size="5.0" text-anchor="middle" fill="#333">×10<tspan font-size="3.8" dy="-2.0">4</tspan></text>
<text transform="translate(11.8 198) rotate(-90)" font-size="5.5" text-anchor="middle" textLength="52" lengthAdjust="spacingAndGlyphs" fill="#333">Averaged Fitness Value</text>
<text x="71.2" y="273.2" font-size="7.4" text-anchor="middle" textLength="13.2" lengthAdjust="spacingAndGlyphs" fill="#222">(e)<tspan font-style="italic">F</tspan><tspan font-size="4.6">5</tspan></text>
<rect x="92.95" y="150.28" width="41" height="53" fill="none" stroke="#c8c8c8" stroke-width="0.5"/>
<line x1="93.75" y1="153.08" x2="102.75" y2="153.08" stroke="#000000" stroke-width="1.8"/>
<polygon points="98.05,149.96 98.81,152.03 101.01,152.11 99.28,153.48 99.88,155.6 98.05,154.38 96.21,155.6 96.81,153.48 95.08,152.11 97.28,152.03" fill="#000000"/>
<text x="102.85" y="154.93" font-size="5.4" fill="#333">DGCELSO</text>
<line x1="93.75" y1="158.26" x2="102.75" y2="158.26" stroke="#ff0000" stroke-width="1.8"/>
<circle cx="98.05" cy="158.26" r="1.69" fill="#ff0000"/>
<text x="102.85" y="160.11" font-size="5.4" fill="#333">TPLSO</text>
<line x1="93.75" y1="163.44" x2="102.75" y2="163.44" stroke="#00ff00" stroke-width="1.8"/>
<polygon points="98.05,165.52 95.97,161.77 100.13,161.77" fill="#00ff00"/>
<text x="102.85" y="165.29" font-size="5.4" fill="#333">SPLSO</text>
<line x1="93.75" y1="168.62" x2="102.75" y2="168.62" stroke="#0000ff" stroke-width="1.8"/>
<circle cx="98.05" cy="168.62" r="1.04" fill="#0000ff"/>
<text x="102.85" y="170.47" font-size="5.4" fill="#333">LLSO</text>
<line x1="93.75" y1="173.8" x2="102.75" y2="173.8" stroke="#00ffff" stroke-width="1.8"/>
<polygon points="100.13,173.8 96.38,171.72 96.38,175.88" fill="#00ffff"/>
<text x="102.85" y="175.65" font-size="5.4" fill="#333">CNO</text>
<line x1="93.75" y1="178.98" x2="102.75" y2="178.98" stroke="#ff00ff" stroke-width="1.8"/>
<polygon points="98.05,176.9 95.97,180.64 100.13,180.64" fill="#ff00ff"/>
<text x="102.85" y="180.83" font-size="5.4" fill="#333">SLPSO</text>
<line x1="93.75" y1="184.16" x2="102.75" y2="184.16" stroke="#ff0000" stroke-width="1.6" stroke-dasharray="1.2,1.2"/>
<circle cx="98.05" cy="184.16" r="1.3" fill="#ff0000"/>
<text x="102.85" y="186.01" font-size="5.4" fill="#333">DECC-DG</text>
<line x1="93.75" y1="189.34" x2="102.75" y2="189.34" stroke="#00ff00" stroke-width="1.6" stroke-dasharray="2.5,1,1,1"/>
<polygon points="95.97,189.34 99.71,187.26 99.71,191.42" fill="#00ff00"/>
<text x="102.85" y="191.19" font-size="5.4" fill="#333">DECC-GDG</text>
<line x1="93.75" y1="194.52" x2="102.75" y2="194.52" stroke="#000000" stroke-width="1.6" stroke-dasharray="2.5,1,1,1"/>
<circle cx="98.05" cy="194.52" r="1.04" fill="#000000"/>
<text x="102.85" y="196.37" font-size="5.4" fill="#333">DECC-RDG</text>
<line x1="93.75" y1="199.7" x2="102.75" y2="199.7" stroke="#00ff00" stroke-width="1.6" stroke-dasharray="1.2,1.2"/>
<circle cx="98.05" cy="199.7" r="1.95" fill="#00ff00"/>
<text x="102.85" y="201.55" font-size="5.4" fill="#333">DECC-RDG2</text>
<line x1="167.56" y1="147.79" x2="273.75" y2="147.79" stroke="#f1f1f1" stroke-width="0.5"/>
<line x1="167.56" y1="151.33" x2="273.75" y2="151.33" stroke="#f1f1f1" stroke-width="0.5"/>
<line x1="167.56" y1="154.86" x2="273.75" y2="154.86" stroke="#f1f1f1" stroke-width="0.5"/>
<line x1="167.56" y1="158.4" x2="273.75" y2="158.4" stroke="#f1f1f1" stroke-width="0.5"/>
<line x1="167.56" y1="161.93" x2="273.75" y2="161.93" stroke="#f1f1f1" stroke-width="0.5"/>
<line x1="167.56" y1="165.47" x2="273.75" y2="165.47" stroke="#f1f1f1" stroke-width="0.5"/>
<line x1="167.56" y1="169" x2="273.75" y2="169" stroke="#f1f1f1" stroke-width="0.5"/>
<line x1="167.56" y1="172.54" x2="273.75" y2="172.54" stroke="#f1f1f1" stroke-width="0.5"/>
<line x1="167.56" y1="176.07" x2="273.75" y2="176.07" stroke="#f1f1f1" stroke-width="0.5"/>
<line x1="167.56" y1="179.6" x2="273.75" y2="179.6" stroke="#f1f1f1" stroke-width="0.5"/>
<line x1="167.56" y1="183.14" x2="273.75" y2="183.14" stroke="#f1f1f1" stroke-width="0.5"/>
<line x1="167.56" y1="186.67" x2="273.75" y2="186.67" stroke="#f1f1f1" stroke-width="0.5"/>
<line x1="167.56" y1="190.21" x2="273.75" y2="190.21" stroke="#f1f1f1" stroke-width="0.5"/>
<line x1="167.56" y1="193.74" x2="273.75" y2="193.74" stroke="#f1f1f1" stroke-width="0.5"/>
<line x1="167.56" y1="197.28" x2="273.75" y2="197.28" stroke="#f1f1f1" stroke-width="0.5"/>
<line x1="167.56" y1="200.81" x2="273.75" y2="200.81" stroke="#f1f1f1" stroke-width="0.5"/>
<line x1="167.56" y1="204.35" x2="273.75" y2="204.35" stroke="#f1f1f1" stroke-width="0.5"/>
<line x1="167.56" y1="207.88" x2="273.75" y2="207.88" stroke="#f1f1f1" stroke-width="0.5"/>
<line x1="167.56" y1="211.41" x2="273.75" y2="211.41" stroke="#f1f1f1" stroke-width="0.5"/>
<line x1="167.56" y1="214.95" x2="273.75" y2="214.95" stroke="#f1f1f1" stroke-width="0.5"/>
<line x1="167.56" y1="218.48" x2="273.75" y2="218.48" stroke="#f1f1f1" stroke-width="0.5"/>
<line x1="167.56" y1="222.02" x2="273.75" y2="222.02" stroke="#f1f1f1" stroke-width="0.5"/>
<line x1="167.56" y1="225.55" x2="273.75" y2="225.55" stroke="#f1f1f1" stroke-width="0.5"/>
<line x1="167.56" y1="229.09" x2="273.75" y2="229.09" stroke="#f1f1f1" stroke-width="0.5"/>
<line x1="167.56" y1="232.62" x2="273.75" y2="232.62" stroke="#f1f1f1" stroke-width="0.5"/>
<line x1="167.56" y1="236.16" x2="273.75" y2="236.16" stroke="#f1f1f1" stroke-width="0.5"/>
<line x1="167.56" y1="239.69" x2="273.75" y2="239.69" stroke="#f1f1f1" stroke-width="0.5"/>
<line x1="167.56" y1="243.23" x2="273.75" y2="243.23" stroke="#f1f1f1" stroke-width="0.5"/>
<line x1="188.8" y1="146.79" x2="188.8" y2="246.54" stroke="#dedede" stroke-width="0.5"/>
<line x1="210.03" y1="146.79" x2="210.03" y2="246.54" stroke="#dedede" stroke-width="0.5"/>
<line x1="231.27" y1="146.79" x2="231.27" y2="246.54" stroke="#dedede" stroke-width="0.5"/>
<line x1="252.51" y1="146.79" x2="252.51" y2="246.54" stroke="#dedede" stroke-width="0.5"/>
<line x1="167.56" y1="154.86" x2="273.75" y2="154.86" stroke="#dedede" stroke-width="0.5"/>
<line x1="167.56" y1="172.69" x2="273.75" y2="172.69" stroke="#dedede" stroke-width="0.5"/>
<line x1="167.56" y1="190.26" x2="273.75" y2="190.26" stroke="#dedede" stroke-width="0.5"/>
<line x1="167.56" y1="207.57" x2="273.75" y2="207.57" stroke="#dedede" stroke-width="0.5"/>
<line x1="167.56" y1="225.4" x2="273.75" y2="225.4" stroke="#dedede" stroke-width="0.5"/>
<line x1="167.56" y1="243.23" x2="273.75" y2="243.23" stroke="#dedede" stroke-width="0.5"/>
<rect x="167.56" y="146.79" width="106.19" height="99.75" fill="none" stroke="#b4b4b4" stroke-width="0.8"/>
<clipPath id="c5"><rect x="166.56" y="145.29" width="108.19" height="102.75"/></clipPath>
<g clip-path="url(#c5)">
<path d="M188.8 146.46 L199.41 160.46 L210.03 169.89 L220.65 177.02 L231.27 180.33 L241.89 183.89 L252.51 185.93 L263.13 188.48 L273.75 189.75" fill="none" stroke="#ff0000" stroke-width="1.3" stroke-dasharray="1.2,1.2" stroke-linejoin="round"/>
<circle cx="188.8" cy="146.46" r="1.3" fill="#ff0000"/>
<circle cx="199.41" cy="160.46" r="1.3" fill="#ff0000"/>
<circle cx="210.03" cy="169.89" r="1.3" fill="#ff0000"/>
<circle cx="220.65" cy="177.02" r="1.3" fill="#ff0000"/>
<circle cx="231.27" cy="180.33" r="1.3" fill="#ff0000"/>
<circle cx="241.89" cy="183.89" r="1.3" fill="#ff0000"/>
<circle cx="252.51" cy="185.93" r="1.3" fill="#ff0000"/>
<circle cx="263.13" cy="188.48" r="1.3" fill="#ff0000"/>
<circle cx="273.75" cy="189.75" r="1.3" fill="#ff0000"/>
<path d="M178.18 159.96 L188.8 180.33 L199.41 187.2 L210.03 192.3 L220.65 196.12 L231.27 199.17 L241.89 201.97 L252.51 207.07 L263.13 208.85 L273.75 210.88" fill="none" stroke="#000000" stroke-width="1.3" stroke-dasharray="2.5,1,1,1" stroke-linejoin="round"/>
<circle cx="178.18" cy="159.96" r="1.04" fill="#000000"/>
<circle cx="188.8" cy="180.33" r="1.04" fill="#000000"/>
<circle cx="199.41" cy="187.2" r="1.04" fill="#000000"/>
<circle cx="210.03" cy="192.3" r="1.04" fill="#000000"/>
<circle cx="220.65" cy="196.12" r="1.04" fill="#000000"/>
<circle cx="231.27" cy="199.17" r="1.04" fill="#000000"/>
<circle cx="241.89" cy="201.97" r="1.04" fill="#000000"/>
<circle cx="252.51" cy="207.07" r="1.04" fill="#000000"/>
<circle cx="263.13" cy="208.85" r="1.04" fill="#000000"/>
<circle cx="273.75" cy="210.88" r="1.04" fill="#000000"/>
<path d="M178.18 172.43 L188.8 185.17 L199.41 196.88 L210.03 204.52 L220.65 209.1 L231.27 214.96 L241.89 223.36 L252.51 227.69 L263.13 229.98 L273.75 232.02" fill="none" stroke="#00ff00" stroke-width="1.3" stroke-dasharray="2.5,1,1,1" stroke-linejoin="round"/>
<polygon points="176.1,172.43 179.84,170.35 179.84,174.51" fill="#00ff00"/>
<polygon points="186.72,185.17 190.46,183.09 190.46,187.25" fill="#00ff00"/>
<polygon points="197.33,196.88 201.08,194.8 201.08,198.96" fill="#00ff00"/>
<polygon points="207.95,204.52 211.7,202.44 211.7,206.6" fill="#00ff00"/>
<polygon points="218.57,209.1 222.32,207.02 222.32,211.18" fill="#00ff00"/>
<polygon points="229.19,214.96 232.93,212.88 232.93,217.04" fill="#00ff00"/>
<polygon points="239.81,223.36 243.55,221.28 243.55,225.44" fill="#00ff00"/>
<polygon points="250.43,227.69 254.17,225.61 254.17,229.77" fill="#00ff00"/>
<polygon points="261.05,229.98 264.79,227.9 264.79,232.06" fill="#00ff00"/>
<polygon points="271.67,232.02 275.41,229.94 275.41,234.1" fill="#00ff00"/>
<path d="M178.18 172.43 L188.8 185.17 L199.41 196.88 L210.03 204.52 L220.65 209.1 L231.27 214.96 L241.89 223.36 L252.51 227.69 L263.13 229.98 L273.75 232.02" fill="none" stroke="#00ff00" stroke-width="1.3" stroke-dasharray="1.2,1.2" stroke-linejoin="round"/>
<circle cx="178.18" cy="172.43" r="1.95" fill="#00ff00"/>
<circle cx="188.8" cy="185.17" r="1.95" fill="#00ff00"/>
<circle cx="199.41" cy="196.88" r="1.95" fill="#00ff00"/>
<circle cx="210.03" cy="204.52" r="1.95" fill="#00ff00"/>
<circle cx="220.65" cy="209.1" r="1.95" fill="#00ff00"/>
<circle cx="231.27" cy="214.96" r="1.95" fill="#00ff00"/>
<circle cx="241.89" cy="223.36" r="1.95" fill="#00ff00"/>
<circle cx="252.51" cy="227.69" r="1.95" fill="#00ff00"/>
<circle cx="263.13" cy="229.98" r="1.95" fill="#00ff00"/>
<circle cx="273.75" cy="232.02" r="1.95" fill="#00ff00"/>
<path d="M178.18 211.14 L188.8 221.58 L199.41 226.42 L210.03 229.22 L220.65 232.02 L231.27 233.8 L241.89 234.82 L252.51 234.82 L263.13 235.33 L273.75 234.82" fill="none" stroke="#00ff00" stroke-width="1.5" stroke-linejoin="round"/>
<polygon points="178.18,213.22 176.1,209.48 180.26,209.48" fill="#00ff00"/>
<polygon points="188.8,223.66 186.72,219.92 190.88,219.92" fill="#00ff00"/>
<polygon points="199.41,228.5 197.33,224.75 201.49,224.75" fill="#00ff00"/>
<polygon points="210.03,231.3 207.95,227.56 212.11,227.56" fill="#00ff00"/>
<polygon points="220.65,234.1 218.57,230.36 222.73,230.36" fill="#00ff00"/>
<polygon points="231.27,235.88 229.19,232.14 233.35,232.14" fill="#00ff00"/>
<polygon points="241.89,236.9 239.81,233.16 243.97,233.16" fill="#00ff00"/>
<polygon points="252.51,236.9 250.43,233.16 254.59,233.16" fill="#00ff00"/>
<polygon points="263.13,237.41 261.05,233.67 265.21,233.67" fill="#00ff00"/>
<polygon points="273.75,236.9 271.67,233.16 275.83,233.16" fill="#00ff00"/>
<path d="M178.18 187.97 L188.8 203.5 L199.41 216.74 L210.03 224.38 L220.65 229.22 L231.27 232.02 L241.89 233.04 L252.51 233.04 L263.13 235.33 L273.75 235.84" fill="none" stroke="#ff0000" stroke-width="1.5" stroke-linejoin="round"/>
<circle cx="178.18" cy="187.97" r="1.69" fill="#ff0000"/>
<circle cx="188.8" cy="203.5" r="1.69" fill="#ff0000"/>
<circle cx="199.41" cy="216.74" r="1.69" fill="#ff0000"/>
<circle cx="210.03" cy="224.38" r="1.69" fill="#ff0000"/>
<circle cx="220.65" cy="229.22" r="1.69" fill="#ff0000"/>
<circle cx="231.27" cy="232.02" r="1.69" fill="#ff0000"/>
<circle cx="241.89" cy="233.04" r="1.69" fill="#ff0000"/>
<circle cx="252.51" cy="233.04" r="1.69" fill="#ff0000"/>
<circle cx="263.13" cy="235.33" r="1.69" fill="#ff0000"/>
<circle cx="273.75" cy="235.84" r="1.69" fill="#ff0000"/>
<path d="M178.18 202.48 L188.8 213.94 L199.41 220.56 L210.03 229.22 L220.65 233.8 L231.27 235.84 L241.89 237.62 L252.51 239.41 L263.13 241.44 L273.75 243.23" fill="none" stroke="#000000" stroke-width="1.5" stroke-linejoin="round"/>
<polygon points="178.18,199.36 178.94,201.43 181.14,201.52 179.41,202.88 180.01,205.01 178.18,203.78 176.34,205.01 176.94,202.88 175.21,201.52 177.41,201.43" fill="#000000"/>
<polygon points="188.8,210.82 189.56,212.89 191.76,212.98 190.03,214.34 190.63,216.46 188.8,215.24 186.96,216.46 187.56,214.34 185.83,212.98 188.03,212.89" fill="#000000"/>
<polygon points="199.41,217.44 200.18,219.51 202.38,219.6 200.65,220.96 201.25,223.09 199.41,221.86 197.58,223.09 198.18,220.96 196.45,219.6 198.65,219.51" fill="#000000"/>
<polygon points="210.03,226.1 210.8,228.17 213,228.26 211.27,229.62 211.87,231.74 210.03,230.52 208.2,231.74 208.8,229.62 207.07,228.26 209.27,228.17" fill="#000000"/>
<polygon points="220.65,230.68 221.42,232.75 223.62,232.84 221.89,234.2 222.49,236.33 220.65,235.1 218.82,236.33 219.42,234.2 217.68,232.84 219.89,232.75" fill="#000000"/>
<polygon points="231.27,232.72 232.03,234.79 234.24,234.88 232.51,236.24 233.1,238.36 231.27,237.14 229.44,238.36 230.03,236.24 228.3,234.88 230.51,234.79" fill="#000000"/>
<polygon points="241.89,234.5 242.65,236.57 244.86,236.66 243.13,238.02 243.72,240.15 241.89,238.92 240.06,240.15 240.65,238.02 238.92,236.66 241.13,236.57" fill="#000000"/>
<polygon points="252.51,236.29 253.27,238.35 255.48,238.44 253.74,239.81 254.34,241.93 252.51,240.71 250.67,241.93 251.27,239.81 249.54,238.44 251.74,238.35" fill="#000000"/>
<polygon points="263.13,238.32 263.89,240.39 266.09,240.48 264.36,241.84 264.96,243.97 263.13,242.74 261.29,243.97 261.89,241.84 260.16,240.48 262.36,240.39" fill="#000000"/>
<polygon points="273.75,240.11 274.51,242.17 276.71,242.26 274.98,243.63 275.58,245.75 273.75,244.53 271.91,245.75 272.51,243.63 270.78,242.26 272.98,242.17" fill="#000000"/>
<path d="M178.18 205.54 L188.8 228.2 L199.41 233.8 L210.03 233.04 L220.65 237.62 L231.27 239.66 L241.89 241.44 L252.51 242.46 L263.13 243.99 L273.75 247.04" fill="none" stroke="#00ffff" stroke-width="1.5" stroke-linejoin="round"/>
<polygon points="180.26,205.54 176.51,203.46 176.51,207.62" fill="#00ffff"/>
<polygon points="190.88,228.2 187.13,226.12 187.13,230.28" fill="#00ffff"/>
<polygon points="201.49,233.8 197.75,231.72 197.75,235.88" fill="#00ffff"/>
<polygon points="212.11,233.04 208.37,230.96 208.37,235.12" fill="#00ffff"/>
<polygon points="222.73,237.62 218.99,235.54 218.99,239.7" fill="#00ffff"/>
<polygon points="233.35,239.66 229.61,237.58 229.61,241.74" fill="#00ffff"/>
<polygon points="243.97,241.44 240.23,239.36 240.23,243.52" fill="#00ffff"/>
<polygon points="254.59,242.46 250.84,240.38 250.84,244.54" fill="#00ffff"/>
<polygon points="265.21,243.99 261.46,241.91 261.46,246.07" fill="#00ffff"/>
<polygon points="275.83,247.04 272.08,244.96 272.08,249.12" fill="#00ffff"/>
<path d="M178.18 203.5 L188.8 217.76 L199.41 224.38 L210.03 225.4 L220.65 229.22 L231.27 233.04 L241.89 237.62 L252.51 240.42 L263.13 243.48 L273.75 244.75" fill="none" stroke="#0000ff" stroke-width="1.5" stroke-linejoin="round"/>
<circle cx="178.18" cy="203.5" r="1.04" fill="#0000ff"/>
<circle cx="188.8" cy="217.76" r="1.04" fill="#0000ff"/>
<circle cx="199.41" cy="224.38" r="1.04" fill="#0000ff"/>
<circle cx="210.03" cy="225.4" r="1.04" fill="#0000ff"/>
<circle cx="220.65" cy="229.22" r="1.04" fill="#0000ff"/>
<circle cx="231.27" cy="233.04" r="1.04" fill="#0000ff"/>
<circle cx="241.89" cy="237.62" r="1.04" fill="#0000ff"/>
<circle cx="252.51" cy="240.42" r="1.04" fill="#0000ff"/>
<circle cx="263.13" cy="243.48" r="1.04" fill="#0000ff"/>
<circle cx="273.75" cy="244.75" r="1.04" fill="#0000ff"/>
<path d="M178.18 202.23 L188.8 218.78 L199.41 224.38 L210.03 232.02 L220.65 235.84 L231.27 238.13 L241.89 239.66 L252.51 240.42 L263.13 241.44 L273.75 242.46" fill="none" stroke="#ff00ff" stroke-width="1.5" stroke-linejoin="round"/>
<polygon points="178.18,200.15 176.1,203.89 180.26,203.89" fill="#ff00ff"/>
<polygon points="188.8,216.7 186.72,220.44 190.88,220.44" fill="#ff00ff"/>
<polygon points="199.41,222.3 197.33,226.05 201.49,226.05" fill="#ff00ff"/>
<polygon points="210.03,229.94 207.95,233.68 212.11,233.68" fill="#ff00ff"/>
<polygon points="220.65,233.76 218.57,237.5 222.73,237.5" fill="#ff00ff"/>
<polygon points="231.27,236.05 229.19,239.8 233.35,239.8" fill="#ff00ff"/>
<polygon points="241.89,237.58 239.81,241.32 243.97,241.32" fill="#ff00ff"/>
<polygon points="252.51,238.34 250.43,242.09 254.59,242.09" fill="#ff00ff"/>
<polygon points="263.13,239.36 261.05,243.11 265.21,243.11" fill="#ff00ff"/>
<polygon points="273.75,240.38 271.67,244.13 275.83,244.13" fill="#ff00ff"/>
</g>
<text x="167.56" y="252.84" font-size="5.6" text-anchor="middle" fill="#333">0</text>
<text x="188.8" y="252.84" font-size="5.6" text-anchor="middle" fill="#333">1</text>
<text x="210.03" y="252.84" font-size="5.6" text-anchor="middle" fill="#333">2</text>
<text x="231.27" y="252.84" font-size="5.6" text-anchor="middle" fill="#333">3</text>
<text x="252.51" y="252.84" font-size="5.6" text-anchor="middle" fill="#333">4</text>
<text x="273.75" y="252.84" font-size="5.6" text-anchor="middle" fill="#333">5</text>
<text x="165.96" y="156.96" font-size="5.6" text-anchor="end" fill="#333">1.065</text>
<text x="165.96" y="174.79" font-size="5.6" text-anchor="end" fill="#333">1.064</text>
<text x="165.96" y="192.36" font-size="5.6" text-anchor="end" fill="#333">1.063</text>
<text x="165.96" y="209.67" font-size="5.6" text-anchor="end" fill="#333">1.062</text>
<text x="165.96" y="227.5" font-size="5.6" text-anchor="end" fill="#333">1.061</text>
<text x="165.96" y="245.33" font-size="5.6" text-anchor="end" fill="#333">1.06</text>
<text x="174.72" y="146.18" font-size="5.6" text-anchor="middle" fill="#333">×10<tspan font-size="4.2" dy="-2.1">6</tspan></text>
<text x="220.7" y="144.7" font-size="6.3" text-anchor="middle" textLength="27.4" lengthAdjust="spacingAndGlyphs" fill="#222">Function 6</text>
<text x="221" y="259.3" font-size="6.3" text-anchor="middle" textLength="49.5" lengthAdjust="spacingAndGlyphs" fill="#333">Fitness Evaluations</text>
<text x="268.74" y="261.48" font-size="5.0" text-anchor="middle" fill="#333">×10<tspan font-size="3.8" dy="-2.0">4</tspan></text>
<text transform="translate(151.8 200.5) rotate(-90)" font-size="5.5" text-anchor="middle" textLength="48" lengthAdjust="spacingAndGlyphs" fill="#333">Averaged Fitness Value</text>
<text x="210.1" y="272.1" font-size="7.4" text-anchor="middle" textLength="12.5" lengthAdjust="spacingAndGlyphs" fill="#222">(f)<tspan font-style="italic">F</tspan><tspan font-size="4.6">6</tspan></text>
<rect x="231.22" y="149.01" width="41" height="53" fill="none" stroke="#c8c8c8" stroke-width="0.5"/>
<line x1="232.02" y1="151.81" x2="241.02" y2="151.81" stroke="#000000" stroke-width="1.8"/>
<polygon points="236.32,148.69 237.08,150.75 239.29,150.84 237.56,152.21 238.15,154.33 236.32,153.11 234.49,154.33 235.08,152.21 233.35,150.84 235.56,150.75" fill="#000000"/>
<text x="241.12" y="153.66" font-size="5.4" fill="#333">DGCELSO</text>
<line x1="232.02" y1="156.99" x2="241.02" y2="156.99" stroke="#ff0000" stroke-width="1.8"/>
<circle cx="236.32" cy="156.99" r="1.69" fill="#ff0000"/>
<text x="241.12" y="158.84" font-size="5.4" fill="#333">TPLSO</text>
<line x1="232.02" y1="162.17" x2="241.02" y2="162.17" stroke="#00ff00" stroke-width="1.8"/>
<polygon points="236.32,164.25 234.24,160.5 238.4,160.5" fill="#00ff00"/>
<text x="241.12" y="164.02" font-size="5.4" fill="#333">SPLSO</text>
<line x1="232.02" y1="167.35" x2="241.02" y2="167.35" stroke="#0000ff" stroke-width="1.8"/>
<circle cx="236.32" cy="167.35" r="1.04" fill="#0000ff"/>
<text x="241.12" y="169.2" font-size="5.4" fill="#333">LLSO</text>
<line x1="232.02" y1="172.53" x2="241.02" y2="172.53" stroke="#00ffff" stroke-width="1.8"/>
<polygon points="238.4,172.53 234.66,170.45 234.66,174.61" fill="#00ffff"/>
<text x="241.12" y="174.38" font-size="5.4" fill="#333">CNO</text>
<line x1="232.02" y1="177.71" x2="241.02" y2="177.71" stroke="#ff00ff" stroke-width="1.8"/>
<polygon points="236.32,175.63 234.24,179.37 238.4,179.37" fill="#ff00ff"/>
<text x="241.12" y="179.56" font-size="5.4" fill="#333">SLPSO</text>
<line x1="232.02" y1="182.89" x2="241.02" y2="182.89" stroke="#ff0000" stroke-width="1.6" stroke-dasharray="1.2,1.2"/>
<circle cx="236.32" cy="182.89" r="1.3" fill="#ff0000"/>
<text x="241.12" y="184.74" font-size="5.4" fill="#333">DECC-DG</text>
<line x1="232.02" y1="188.07" x2="241.02" y2="188.07" stroke="#00ff00" stroke-width="1.6" stroke-dasharray="2.5,1,1,1"/>
<polygon points="234.24,188.07 237.98,185.99 237.98,190.15" fill="#00ff00"/>
<text x="241.12" y="189.92" font-size="5.4" fill="#333">DECC-GDG</text>
<line x1="232.02" y1="193.25" x2="241.02" y2="193.25" stroke="#000000" stroke-width="1.6" stroke-dasharray="2.5,1,1,1"/>
<circle cx="236.32" cy="193.25" r="1.04" fill="#000000"/>
<text x="241.12" y="195.1" font-size="5.4" fill="#333">DECC-RDG</text>
<line x1="232.02" y1="198.43" x2="241.02" y2="198.43" stroke="#00ff00" stroke-width="1.6" stroke-dasharray="1.2,1.2"/>
<circle cx="236.32" cy="198.43" r="1.95" fill="#00ff00"/>
<text x="241.12" y="200.28" font-size="5.4" fill="#333">DECC-RDG2</text>
<line x1="320.35" y1="148.39" x2="320.35" y2="248.32" stroke="#dedede" stroke-width="0.5"/>
<line x1="341.99" y1="148.39" x2="341.99" y2="248.32" stroke="#dedede" stroke-width="0.5"/>
<line x1="363.64" y1="148.39" x2="363.64" y2="248.32" stroke="#dedede" stroke-width="0.5"/>
<line x1="385.28" y1="148.39" x2="385.28" y2="248.32" stroke="#dedede" stroke-width="0.5"/>
<line x1="298.7" y1="149.01" x2="406.93" y2="149.01" stroke="#dedede" stroke-width="0.5"/>
<line x1="298.7" y1="165.56" x2="406.93" y2="165.56" stroke="#dedede" stroke-width="0.5"/>
<line x1="298.7" y1="182.11" x2="406.93" y2="182.11" stroke="#dedede" stroke-width="0.5"/>
<line x1="298.7" y1="198.66" x2="406.93" y2="198.66" stroke="#dedede" stroke-width="0.5"/>
<line x1="298.7" y1="215.21" x2="406.93" y2="215.21" stroke="#dedede" stroke-width="0.5"/>
<line x1="298.7" y1="231.77" x2="406.93" y2="231.77" stroke="#dedede" stroke-width="0.5"/>
<rect x="298.7" y="148.39" width="108.23" height="99.92" fill="none" stroke="#b4b4b4" stroke-width="0.8"/>
<clipPath id="c6"><rect x="297.7" y="146.89" width="110.23" height="102.92"/></clipPath>
<g clip-path="url(#c6)">
<path d="M320.35 155.88 L331.17 159.19 L341.99 161.74 L352.81 164.28 L363.64 166.83 L374.46 168.61 L385.28 170.14 L396.1 171.41 L406.93 173.2" fill="none" stroke="#ff0000" stroke-width="1.3" stroke-dasharray="1.2,1.2" stroke-linejoin="round"/>
<circle cx="320.35" cy="155.88" r="1.3" fill="#ff0000"/>
<circle cx="331.17" cy="159.19" r="1.3" fill="#ff0000"/>
<circle cx="341.99" cy="161.74" r="1.3" fill="#ff0000"/>
<circle cx="352.81" cy="164.28" r="1.3" fill="#ff0000"/>
<circle cx="363.64" cy="166.83" r="1.3" fill="#ff0000"/>
<circle cx="374.46" cy="168.61" r="1.3" fill="#ff0000"/>
<circle cx="385.28" cy="170.14" r="1.3" fill="#ff0000"/>
<circle cx="396.1" cy="171.41" r="1.3" fill="#ff0000"/>
<circle cx="406.93" cy="173.2" r="1.3" fill="#ff0000"/>
<path d="M309.52 156.65 L320.35 161.23 L331.17 163.78 L341.99 166.07 L352.81 168.61 L363.64 172.43 L374.46 175.74 L385.28 178.8 L396.1 181.35 L406.93 183.89" fill="none" stroke="#000000" stroke-width="1.3" stroke-dasharray="2.5,1,1,1" stroke-linejoin="round"/>
<circle cx="309.52" cy="156.65" r="1.04" fill="#000000"/>
<circle cx="320.35" cy="161.23" r="1.04" fill="#000000"/>
<circle cx="331.17" cy="163.78" r="1.04" fill="#000000"/>
<circle cx="341.99" cy="166.07" r="1.04" fill="#000000"/>
<circle cx="352.81" cy="168.61" r="1.04" fill="#000000"/>
<circle cx="363.64" cy="172.43" r="1.04" fill="#000000"/>
<circle cx="374.46" cy="175.74" r="1.04" fill="#000000"/>
<circle cx="385.28" cy="178.8" r="1.04" fill="#000000"/>
<circle cx="396.1" cy="181.35" r="1.04" fill="#000000"/>
<circle cx="406.93" cy="183.89" r="1.04" fill="#000000"/>
<path d="M309.52 166.83 L320.35 174.47 L331.17 178.29 L341.99 179.56 L352.81 180.84 L363.64 182.11 L374.46 183.38 L385.28 184.66 L396.1 185.42 L406.93 185.93" fill="none" stroke="#00ff00" stroke-width="1.3" stroke-dasharray="2.5,1,1,1" stroke-linejoin="round"/>
<polygon points="307.44,166.83 311.19,164.75 311.19,168.91" fill="#00ff00"/>
<polygon points="318.27,174.47 322.01,172.39 322.01,176.55" fill="#00ff00"/>
<polygon points="329.09,178.29 332.83,176.21 332.83,180.37" fill="#00ff00"/>
<polygon points="339.91,179.56 343.65,177.48 343.65,181.64" fill="#00ff00"/>
<polygon points="350.73,180.84 354.48,178.76 354.48,182.92" fill="#00ff00"/>
<polygon points="361.56,182.11 365.3,180.03 365.3,184.19" fill="#00ff00"/>
<polygon points="372.38,183.38 376.12,181.3 376.12,185.46" fill="#00ff00"/>
<polygon points="383.2,184.66 386.94,182.58 386.94,186.74" fill="#00ff00"/>
<polygon points="394.02,185.42 397.77,183.34 397.77,187.5" fill="#00ff00"/>
<polygon points="404.85,185.93 408.59,183.85 408.59,188.01" fill="#00ff00"/>
<path d="M309.52 166.83 L320.35 174.47 L331.17 178.29 L341.99 179.56 L352.81 180.84 L363.64 182.11 L374.46 183.38 L385.28 184.66 L396.1 185.42 L406.93 185.93" fill="none" stroke="#00ff00" stroke-width="1.3" stroke-dasharray="1.2,1.2" stroke-linejoin="round"/>
<circle cx="309.52" cy="166.83" r="1.95" fill="#00ff00"/>
<circle cx="320.35" cy="174.47" r="1.95" fill="#00ff00"/>
<circle cx="331.17" cy="178.29" r="1.95" fill="#00ff00"/>
<circle cx="341.99" cy="179.56" r="1.95" fill="#00ff00"/>
<circle cx="352.81" cy="180.84" r="1.95" fill="#00ff00"/>
<circle cx="363.64" cy="182.11" r="1.95" fill="#00ff00"/>
<circle cx="374.46" cy="183.38" r="1.95" fill="#00ff00"/>
<circle cx="385.28" cy="184.66" r="1.95" fill="#00ff00"/>
<circle cx="396.1" cy="185.42" r="1.95" fill="#00ff00"/>
<circle cx="406.93" cy="185.93" r="1.95" fill="#00ff00"/>
<path d="M309.52 175.74 L320.35 183.38 L331.17 188.48 L341.99 193.06 L352.81 197.39 L363.64 201.21 L374.46 205.03 L385.28 208.85 L396.1 211.9 L406.93 215.21" fill="none" stroke="#00ff00" stroke-width="1.5" stroke-linejoin="round"/>
<polygon points="309.52,177.82 307.44,174.08 311.6,174.08" fill="#00ff00"/>
<polygon points="320.35,185.46 318.27,181.72 322.43,181.72" fill="#00ff00"/>
<polygon points="331.17,190.56 329.09,186.81 333.25,186.81" fill="#00ff00"/>
<polygon points="341.99,195.14 339.91,191.4 344.07,191.4" fill="#00ff00"/>
<polygon points="352.81,199.47 350.73,195.72 354.89,195.72" fill="#00ff00"/>
<polygon points="363.64,203.29 361.56,199.54 365.72,199.54" fill="#00ff00"/>
<polygon points="374.46,207.11 372.38,203.36 376.54,203.36" fill="#00ff00"/>
<polygon points="385.28,210.93 383.2,207.18 387.36,207.18" fill="#00ff00"/>
<polygon points="396.1,213.98 394.02,210.24 398.18,210.24" fill="#00ff00"/>
<polygon points="406.93,217.29 404.85,213.55 409.01,213.55" fill="#00ff00"/>
<path d="M309.52 178.29 L320.35 185.93 L331.17 192.3 L341.99 197.39 L352.81 201.21 L363.64 203.75 L374.46 206.3 L385.28 208.85 L396.1 211.39 L406.93 213.43" fill="none" stroke="#00ffff" stroke-width="1.5" stroke-linejoin="round"/>
<polygon points="311.6,178.29 307.86,176.21 307.86,180.37" fill="#00ffff"/>
<polygon points="322.43,185.93 318.68,183.85 318.68,188.01" fill="#00ffff"/>
<polygon points="333.25,192.3 329.5,190.22 329.5,194.38" fill="#00ffff"/>
<polygon points="344.07,197.39 340.33,195.31 340.33,199.47" fill="#00ffff"/>
<polygon points="354.89,201.21 351.15,199.13 351.15,203.29" fill="#00ffff"/>
<polygon points="365.72,203.75 361.97,201.67 361.97,205.83" fill="#00ffff"/>
<polygon points="376.54,206.3 372.79,204.22 372.79,208.38" fill="#00ffff"/>
<polygon points="387.36,208.85 383.62,206.77 383.62,210.93" fill="#00ffff"/>
<polygon points="398.18,211.39 394.44,209.31 394.44,213.47" fill="#00ffff"/>
<polygon points="409.01,213.43 405.26,211.35 405.26,215.51" fill="#00ffff"/>
<path d="M309.52 182.11 L320.35 189.75 L331.17 196.12 L341.99 201.21 L352.81 206.3 L363.64 211.39 L374.46 216.49 L385.28 221.58 L396.1 224.64 L406.93 226.67" fill="none" stroke="#0000ff" stroke-width="1.5" stroke-linejoin="round"/>
<circle cx="309.52" cy="182.11" r="1.04" fill="#0000ff"/>
<circle cx="320.35" cy="189.75" r="1.04" fill="#0000ff"/>
<circle cx="331.17" cy="196.12" r="1.04" fill="#0000ff"/>
<circle cx="341.99" cy="201.21" r="1.04" fill="#0000ff"/>
<circle cx="352.81" cy="206.3" r="1.04" fill="#0000ff"/>
<circle cx="363.64" cy="211.39" r="1.04" fill="#0000ff"/>
<circle cx="374.46" cy="216.49" r="1.04" fill="#0000ff"/>
<circle cx="385.28" cy="221.58" r="1.04" fill="#0000ff"/>
<circle cx="396.1" cy="224.64" r="1.04" fill="#0000ff"/>
<circle cx="406.93" cy="226.67" r="1.04" fill="#0000ff"/>
<path d="M309.52 182.11 L320.35 192.3 L331.17 201.21 L341.99 207.57 L352.81 211.39 L363.64 213.94 L374.46 215.21 L385.28 216.49 L396.1 217.76 L406.93 219.03" fill="none" stroke="#ff0000" stroke-width="1.5" stroke-linejoin="round"/>
<circle cx="309.52" cy="182.11" r="1.69" fill="#ff0000"/>
<circle cx="320.35" cy="192.3" r="1.69" fill="#ff0000"/>
<circle cx="331.17" cy="201.21" r="1.69" fill="#ff0000"/>
<circle cx="341.99" cy="207.57" r="1.69" fill="#ff0000"/>
<circle cx="352.81" cy="211.39" r="1.69" fill="#ff0000"/>
<circle cx="363.64" cy="213.94" r="1.69" fill="#ff0000"/>
<circle cx="374.46" cy="215.21" r="1.69" fill="#ff0000"/>
<circle cx="385.28" cy="216.49" r="1.69" fill="#ff0000"/>
<circle cx="396.1" cy="217.76" r="1.69" fill="#ff0000"/>
<circle cx="406.93" cy="219.03" r="1.69" fill="#ff0000"/>
<path d="M309.52 179.56 L320.35 189.75 L331.17 198.66 L341.99 205.03 L352.81 210.12 L363.64 213.94 L374.46 215.98 L385.28 216.49 L396.1 217 L406.93 217" fill="none" stroke="#ff00ff" stroke-width="1.5" stroke-linejoin="round"/>
<polygon points="309.52,177.48 307.44,181.23 311.6,181.23" fill="#ff00ff"/>
<polygon points="320.35,187.67 318.27,191.41 322.43,191.41" fill="#ff00ff"/>
<polygon points="331.17,196.58 329.09,200.33 333.25,200.33" fill="#ff00ff"/>
<polygon points="341.99,202.95 339.91,206.69 344.07,206.69" fill="#ff00ff"/>
<polygon points="352.81,208.04 350.73,211.78 354.89,211.78" fill="#ff00ff"/>
<polygon points="363.64,211.86 361.56,215.6 365.72,215.6" fill="#ff00ff"/>
<polygon points="374.46,213.9 372.38,217.64 376.54,217.64" fill="#ff00ff"/>
<polygon points="385.28,214.41 383.2,218.15 387.36,218.15" fill="#ff00ff"/>
<polygon points="396.1,214.92 394.02,218.66 398.18,218.66" fill="#ff00ff"/>
<polygon points="406.93,214.92 404.85,218.66 409.01,218.66" fill="#ff00ff"/>
<path d="M309.52 182.11 L320.35 192.3 L331.17 201.21 L341.99 210.88 L352.81 219.8 L363.64 228.71 L374.46 235.08 L385.28 238.9 L396.1 243.23 L406.93 247.04" fill="none" stroke="#000000" stroke-width="1.5" stroke-linejoin="round"/>
<polygon points="309.52,178.99 310.29,181.06 312.49,181.15 310.76,182.51 311.36,184.63 309.52,183.41 307.69,184.63 308.29,182.51 306.56,181.15 308.76,181.06" fill="#000000"/>
<polygon points="320.35,189.18 321.11,191.24 323.31,191.33 321.58,192.7 322.18,194.82 320.35,193.6 318.51,194.82 319.11,192.7 317.38,191.33 319.58,191.24" fill="#000000"/>
<polygon points="331.17,198.09 331.93,200.16 334.14,200.24 332.4,201.61 333,203.73 331.17,202.51 329.33,203.73 329.93,201.61 328.2,200.24 330.4,200.16" fill="#000000"/>
<polygon points="341.99,207.76 342.75,209.83 344.96,209.92 343.23,211.29 343.82,213.41 341.99,212.18 340.16,213.41 340.75,211.29 339.02,209.92 341.23,209.83" fill="#000000"/>
<polygon points="352.81,216.68 353.58,218.75 355.78,218.83 354.05,220.2 354.65,222.32 352.81,221.1 350.98,222.32 351.58,220.2 349.85,218.83 352.05,218.75" fill="#000000"/>
<polygon points="363.64,225.59 364.4,227.66 366.6,227.75 364.87,229.11 365.47,231.23 363.64,230.01 361.8,231.23 362.4,229.11 360.67,227.75 362.87,227.66" fill="#000000"/>
<polygon points="374.46,231.96 375.22,234.02 377.43,234.11 375.69,235.48 376.29,237.6 374.46,236.38 372.62,237.6 373.22,235.48 371.49,234.11 373.69,234.02" fill="#000000"/>
<polygon points="385.28,235.78 386.04,237.84 388.25,237.93 386.52,239.3 387.11,241.42 385.28,240.2 383.45,241.42 384.04,239.3 382.31,237.93 384.52,237.84" fill="#000000"/>
<polygon points="396.1,240.11 396.87,242.17 399.07,242.26 397.34,243.63 397.94,245.75 396.1,244.53 394.27,245.75 394.87,243.63 393.14,242.26 395.34,242.17" fill="#000000"/>
<polygon points="406.93,243.92 407.69,245.99 409.89,246.08 408.16,247.45 408.76,249.57 406.93,248.34 405.09,249.57 405.69,247.45 403.96,246.08 406.16,245.99" fill="#000000"/>
</g>
<text x="298.7" y="254.62" font-size="5.6" text-anchor="middle" fill="#333">0</text>
<text x="320.35" y="254.62" font-size="5.6" text-anchor="middle" fill="#333">1</text>
<text x="341.99" y="254.62" font-size="5.6" text-anchor="middle" fill="#333">2</text>
<text x="363.64" y="254.62" font-size="5.6" text-anchor="middle" fill="#333">3</text>
<text x="385.28" y="254.62" font-size="5.6" text-anchor="middle" fill="#333">4</text>
<text x="406.93" y="254.62" font-size="5.6" text-anchor="middle" fill="#333">5</text>
<text x="297.5" y="151.71" font-size="5.6" text-anchor="end" fill="#333">10<tspan font-size="4.3" dy="-2.2">10</tspan></text>
<text x="297.5" y="168.26" font-size="5.6" text-anchor="end" fill="#333">10<tspan font-size="4.3" dy="-2.2">9</tspan></text>
<text x="297.5" y="184.81" font-size="5.6" text-anchor="end" fill="#333">10<tspan font-size="4.3" dy="-2.2">8</tspan></text>
<text x="297.5" y="201.36" font-size="5.6" text-anchor="end" fill="#333">10<tspan font-size="4.3" dy="-2.2">7</tspan></text>
<text x="297.5" y="217.91" font-size="5.6" text-anchor="end" fill="#333">10<tspan font-size="4.3" dy="-2.2">6</tspan></text>
<text x="297.5" y="234.47" font-size="5.6" text-anchor="end" fill="#333">10<tspan font-size="4.3" dy="-2.2">5</tspan></text>
<text x="297.5" y="251.02" font-size="5.6" text-anchor="end" fill="#333">10<tspan font-size="4.3" dy="-2.2">4</tspan></text>
<text x="352.9" y="146.4" font-size="6.3" text-anchor="middle" textLength="27.4" lengthAdjust="spacingAndGlyphs" fill="#222">Function 7</text>
<text x="352.9" y="261.4" font-size="6.3" text-anchor="middle" textLength="49.5" lengthAdjust="spacingAndGlyphs" fill="#333">Fitness Evaluations</text>
<text x="403.2" y="261.99" font-size="5.0" text-anchor="middle" fill="#333">×10<tspan font-size="3.8" dy="-2.0">4</tspan></text>
<text transform="translate(284.2 199.5) rotate(-90)" font-size="5.5" text-anchor="middle" textLength="53" lengthAdjust="spacingAndGlyphs" fill="#333">Averaged Fitness Value</text>
<text x="344" y="274.3" font-size="7.4" text-anchor="middle" textLength="14.2" lengthAdjust="spacingAndGlyphs" fill="#222">(g)<tspan font-style="italic">F</tspan><tspan font-size="4.6">7</tspan></text>
<rect x="364.4" y="150.79" width="41" height="53" fill="none" stroke="#c8c8c8" stroke-width="0.5"/>
<line x1="365.2" y1="153.59" x2="374.2" y2="153.59" stroke="#000000" stroke-width="1.8"/>
<polygon points="369.5,150.47 370.26,152.54 372.47,152.62 370.74,153.99 371.33,156.11 369.5,154.89 367.67,156.11 368.26,153.99 366.53,152.62 368.74,152.54" fill="#000000"/>
<text x="374.3" y="155.44" font-size="5.4" fill="#333">DGCELSO</text>
<line x1="365.2" y1="158.77" x2="374.2" y2="158.77" stroke="#ff0000" stroke-width="1.8"/>
<circle cx="369.5" cy="158.77" r="1.69" fill="#ff0000"/>
<text x="374.3" y="160.62" font-size="5.4" fill="#333">TPLSO</text>
<line x1="365.2" y1="163.95" x2="374.2" y2="163.95" stroke="#00ff00" stroke-width="1.8"/>
<polygon points="369.5,166.03 367.42,162.28 371.58,162.28" fill="#00ff00"/>
<text x="374.3" y="165.8" font-size="5.4" fill="#333">SPLSO</text>
<line x1="365.2" y1="169.13" x2="374.2" y2="169.13" stroke="#0000ff" stroke-width="1.8"/>
<circle cx="369.5" cy="169.13" r="1.04" fill="#0000ff"/>
<text x="374.3" y="170.98" font-size="5.4" fill="#333">LLSO</text>
<line x1="365.2" y1="174.31" x2="374.2" y2="174.31" stroke="#00ffff" stroke-width="1.8"/>
<polygon points="371.58,174.31 367.84,172.23 367.84,176.39" fill="#00ffff"/>
<text x="374.3" y="176.16" font-size="5.4" fill="#333">CNO</text>
<line x1="365.2" y1="179.49" x2="374.2" y2="179.49" stroke="#ff00ff" stroke-width="1.8"/>
<polygon points="369.5,177.41 367.42,181.15 371.58,181.15" fill="#ff00ff"/>
<text x="374.3" y="181.34" font-size="5.4" fill="#333">SLPSO</text>
<line x1="365.2" y1="184.67" x2="374.2" y2="184.67" stroke="#ff0000" stroke-width="1.6" stroke-dasharray="1.2,1.2"/>
<circle cx="369.5" cy="184.67" r="1.3" fill="#ff0000"/>
<text x="374.3" y="186.52" font-size="5.4" fill="#333">DECC-DG</text>
<line x1="365.2" y1="189.85" x2="374.2" y2="189.85" stroke="#00ff00" stroke-width="1.6" stroke-dasharray="2.5,1,1,1"/>
<polygon points="367.42,189.85 371.16,187.77 371.16,191.93" fill="#00ff00"/>
<text x="374.3" y="191.7" font-size="5.4" fill="#333">DECC-GDG</text>
<line x1="365.2" y1="195.03" x2="374.2" y2="195.03" stroke="#000000" stroke-width="1.6" stroke-dasharray="2.5,1,1,1"/>
<circle cx="369.5" cy="195.03" r="1.04" fill="#000000"/>
<text x="374.3" y="196.88" font-size="5.4" fill="#333">DECC-RDG</text>
<line x1="365.2" y1="200.21" x2="374.2" y2="200.21" stroke="#00ff00" stroke-width="1.6" stroke-dasharray="1.2,1.2"/>
<circle cx="369.5" cy="200.21" r="1.95" fill="#00ff00"/>
<text x="374.3" y="202.06" font-size="5.4" fill="#333">DECC-RDG2</text>
<line x1="429.33" y1="240.71" x2="537.81" y2="240.71" stroke="#efefef" stroke-width="0.5"/>
<line x1="429.33" y1="236.26" x2="537.81" y2="236.26" stroke="#efefef" stroke-width="0.5"/>
<line x1="429.33" y1="233.1" x2="537.81" y2="233.1" stroke="#efefef" stroke-width="0.5"/>
<line x1="429.33" y1="230.65" x2="537.81" y2="230.65" stroke="#efefef" stroke-width="0.5"/>
<line x1="429.33" y1="228.65" x2="537.81" y2="228.65" stroke="#efefef" stroke-width="0.5"/>
<line x1="429.33" y1="226.96" x2="537.81" y2="226.96" stroke="#efefef" stroke-width="0.5"/>
<line x1="429.33" y1="225.49" x2="537.81" y2="225.49" stroke="#efefef" stroke-width="0.5"/>
<line x1="429.33" y1="224.2" x2="537.81" y2="224.2" stroke="#efefef" stroke-width="0.5"/>
<line x1="429.33" y1="215.44" x2="537.81" y2="215.44" stroke="#efefef" stroke-width="0.5"/>
<line x1="429.33" y1="210.99" x2="537.81" y2="210.99" stroke="#efefef" stroke-width="0.5"/>
<line x1="429.33" y1="207.83" x2="537.81" y2="207.83" stroke="#efefef" stroke-width="0.5"/>
<line x1="429.33" y1="205.38" x2="537.81" y2="205.38" stroke="#efefef" stroke-width="0.5"/>
<line x1="429.33" y1="203.38" x2="537.81" y2="203.38" stroke="#efefef" stroke-width="0.5"/>
<line x1="429.33" y1="201.69" x2="537.81" y2="201.69" stroke="#efefef" stroke-width="0.5"/>
<line x1="429.33" y1="200.22" x2="537.81" y2="200.22" stroke="#efefef" stroke-width="0.5"/>
<line x1="429.33" y1="198.93" x2="537.81" y2="198.93" stroke="#efefef" stroke-width="0.5"/>
<line x1="429.33" y1="190.16" x2="537.81" y2="190.16" stroke="#efefef" stroke-width="0.5"/>
<line x1="429.33" y1="185.71" x2="537.81" y2="185.71" stroke="#efefef" stroke-width="0.5"/>
<line x1="429.33" y1="182.55" x2="537.81" y2="182.55" stroke="#efefef" stroke-width="0.5"/>
<line x1="429.33" y1="180.1" x2="537.81" y2="180.1" stroke="#efefef" stroke-width="0.5"/>
<line x1="429.33" y1="178.1" x2="537.81" y2="178.1" stroke="#efefef" stroke-width="0.5"/>
<line x1="429.33" y1="176.41" x2="537.81" y2="176.41" stroke="#efefef" stroke-width="0.5"/>
<line x1="429.33" y1="174.95" x2="537.81" y2="174.95" stroke="#efefef" stroke-width="0.5"/>
<line x1="429.33" y1="173.65" x2="537.81" y2="173.65" stroke="#efefef" stroke-width="0.5"/>
<line x1="429.33" y1="164.89" x2="537.81" y2="164.89" stroke="#efefef" stroke-width="0.5"/>
<line x1="429.33" y1="160.44" x2="537.81" y2="160.44" stroke="#efefef" stroke-width="0.5"/>
<line x1="429.33" y1="157.28" x2="537.81" y2="157.28" stroke="#efefef" stroke-width="0.5"/>
<line x1="429.33" y1="154.83" x2="537.81" y2="154.83" stroke="#efefef" stroke-width="0.5"/>
<line x1="429.33" y1="152.83" x2="537.81" y2="152.83" stroke="#efefef" stroke-width="0.5"/>
<line x1="429.33" y1="151.14" x2="537.81" y2="151.14" stroke="#efefef" stroke-width="0.5"/>
<line x1="429.33" y1="149.67" x2="537.81" y2="149.67" stroke="#efefef" stroke-width="0.5"/>
<line x1="429.33" y1="148.38" x2="537.81" y2="148.38" stroke="#efefef" stroke-width="0.5"/>
<line x1="451.03" y1="147.22" x2="451.03" y2="247.55" stroke="#dedede" stroke-width="0.5"/>
<line x1="472.73" y1="147.22" x2="472.73" y2="247.55" stroke="#dedede" stroke-width="0.5"/>
<line x1="494.42" y1="147.22" x2="494.42" y2="247.55" stroke="#dedede" stroke-width="0.5"/>
<line x1="516.12" y1="147.22" x2="516.12" y2="247.55" stroke="#dedede" stroke-width="0.5"/>
<line x1="429.33" y1="172.69" x2="537.81" y2="172.69" stroke="#dedede" stroke-width="0.5"/>
<line x1="429.33" y1="198.15" x2="537.81" y2="198.15" stroke="#dedede" stroke-width="0.5"/>
<line x1="429.33" y1="223.62" x2="537.81" y2="223.62" stroke="#dedede" stroke-width="0.5"/>
<rect x="429.33" y="147.22" width="108.48" height="100.33" fill="none" stroke="#b4b4b4" stroke-width="0.8"/>
<clipPath id="c7"><rect x="428.33" y="145.72" width="110.48" height="103.33"/></clipPath>
<g clip-path="url(#c7)">
<path d="M451.03 148.24 L461.88 157.41 L472.73 161.74 L483.57 165.05 L494.42 167.34 L505.27 169.38 L516.12 171.16 L526.97 172.69 L537.81 173.96" fill="none" stroke="#ff0000" stroke-width="1.3" stroke-dasharray="1.2,1.2" stroke-linejoin="round"/>
<circle cx="451.03" cy="148.24" r="1.3" fill="#ff0000"/>
<circle cx="461.88" cy="157.41" r="1.3" fill="#ff0000"/>
<circle cx="472.73" cy="161.74" r="1.3" fill="#ff0000"/>
<circle cx="483.57" cy="165.05" r="1.3" fill="#ff0000"/>
<circle cx="494.42" cy="167.34" r="1.3" fill="#ff0000"/>
<circle cx="505.27" cy="169.38" r="1.3" fill="#ff0000"/>
<circle cx="516.12" cy="171.16" r="1.3" fill="#ff0000"/>
<circle cx="526.97" cy="172.69" r="1.3" fill="#ff0000"/>
<circle cx="537.81" cy="173.96" r="1.3" fill="#ff0000"/>
<path d="M440.18 155.88 L451.03 164.28 L461.88 169.38 L472.73 172.69 L483.57 174.98 L494.42 177.02 L505.27 178.8 L516.12 180.33 L526.97 181.6 L537.81 182.87" fill="none" stroke="#00ff00" stroke-width="1.3" stroke-dasharray="2.5,1,1,1" stroke-linejoin="round"/>
<polygon points="438.1,155.88 441.85,153.8 441.85,157.96" fill="#00ff00"/>
<polygon points="448.95,164.28 452.69,162.2 452.69,166.36" fill="#00ff00"/>
<polygon points="459.8,169.38 463.54,167.3 463.54,171.46" fill="#00ff00"/>
<polygon points="470.65,172.69 474.39,170.61 474.39,174.77" fill="#00ff00"/>
<polygon points="481.49,174.98 485.24,172.9 485.24,177.06" fill="#00ff00"/>
<polygon points="492.34,177.02 496.09,174.94 496.09,179.1" fill="#00ff00"/>
<polygon points="503.19,178.8 506.93,176.72 506.93,180.88" fill="#00ff00"/>
<polygon points="514.04,180.33 517.78,178.25 517.78,182.41" fill="#00ff00"/>
<polygon points="524.89,181.6 528.63,179.52 528.63,183.68" fill="#00ff00"/>
<polygon points="535.73,182.87 539.48,180.79 539.48,184.95" fill="#00ff00"/>
<path d="M440.18 155.88 L451.03 164.28 L461.88 169.38 L472.73 172.69 L483.57 174.98 L494.42 177.02 L505.27 178.8 L516.12 180.33 L526.97 181.6 L537.81 182.87" fill="none" stroke="#000000" stroke-width="1.3" stroke-dasharray="2.5,1,1,1" stroke-linejoin="round"/>
<circle cx="440.18" cy="155.88" r="1.04" fill="#000000"/>
<circle cx="451.03" cy="164.28" r="1.04" fill="#000000"/>
<circle cx="461.88" cy="169.38" r="1.04" fill="#000000"/>
<circle cx="472.73" cy="172.69" r="1.04" fill="#000000"/>
<circle cx="483.57" cy="174.98" r="1.04" fill="#000000"/>
<circle cx="494.42" cy="177.02" r="1.04" fill="#000000"/>
<circle cx="505.27" cy="178.8" r="1.04" fill="#000000"/>
<circle cx="516.12" cy="180.33" r="1.04" fill="#000000"/>
<circle cx="526.97" cy="181.6" r="1.04" fill="#000000"/>
<circle cx="537.81" cy="182.87" r="1.04" fill="#000000"/>
<path d="M440.18 155.88 L451.03 164.28 L461.88 169.38 L472.73 172.69 L483.57 174.98 L494.42 177.02 L505.27 178.8 L516.12 180.33 L526.97 181.6 L537.81 182.87" fill="none" stroke="#00ff00" stroke-width="1.3" stroke-dasharray="1.2,1.2" stroke-linejoin="round"/>
<circle cx="440.18" cy="155.88" r="1.95" fill="#00ff00"/>
<circle cx="451.03" cy="164.28" r="1.95" fill="#00ff00"/>
<circle cx="461.88" cy="169.38" r="1.95" fill="#00ff00"/>
<circle cx="472.73" cy="172.69" r="1.95" fill="#00ff00"/>
<circle cx="483.57" cy="174.98" r="1.95" fill="#00ff00"/>
<circle cx="494.42" cy="177.02" r="1.95" fill="#00ff00"/>
<circle cx="505.27" cy="178.8" r="1.95" fill="#00ff00"/>
<circle cx="516.12" cy="180.33" r="1.95" fill="#00ff00"/>
<circle cx="526.97" cy="181.6" r="1.95" fill="#00ff00"/>
<circle cx="537.81" cy="182.87" r="1.95" fill="#00ff00"/>
<path d="M440.18 199.94 L451.03 205.79 L461.88 208.34 L472.73 209.61 L483.57 210.63 L494.42 212.41 L505.27 216.23 L516.12 217 L526.97 217.51 L537.81 218.02" fill="none" stroke="#00ffff" stroke-width="1.5" stroke-linejoin="round"/>
<polygon points="442.26,199.94 438.52,197.86 438.52,202.02" fill="#00ffff"/>
<polygon points="453.11,205.79 449.37,203.71 449.37,207.87" fill="#00ffff"/>
<polygon points="463.96,208.34 460.21,206.26 460.21,210.42" fill="#00ffff"/>
<polygon points="474.81,209.61 471.06,207.53 471.06,211.69" fill="#00ffff"/>
<polygon points="485.65,210.63 481.91,208.55 481.91,212.71" fill="#00ffff"/>
<polygon points="496.5,212.41 492.76,210.33 492.76,214.49" fill="#00ffff"/>
<polygon points="507.35,216.23 503.61,214.15 503.61,218.31" fill="#00ffff"/>
<polygon points="518.2,217 514.45,214.92 514.45,219.08" fill="#00ffff"/>
<polygon points="529.05,217.51 525.3,215.43 525.3,219.59" fill="#00ffff"/>
<polygon points="539.89,218.02 536.15,215.94 536.15,220.1" fill="#00ffff"/>
<path d="M440.18 200.7 L451.03 207.57 L461.88 211.39 L472.73 214.45 L483.57 217 L494.42 219.03 L505.27 220.31 L516.12 221.58 L526.97 222.85 L537.81 224.13" fill="none" stroke="#00ff00" stroke-width="1.5" stroke-linejoin="round"/>
<polygon points="440.18,202.78 438.1,199.04 442.26,199.04" fill="#00ff00"/>
<polygon points="451.03,209.65 448.95,205.91 453.11,205.91" fill="#00ff00"/>
<polygon points="461.88,213.47 459.8,209.73 463.96,209.73" fill="#00ff00"/>
<polygon points="472.73,216.53 470.65,212.79 474.81,212.79" fill="#00ff00"/>
<polygon points="483.57,219.08 481.49,215.33 485.65,215.33" fill="#00ff00"/>
<polygon points="494.42,221.11 492.34,217.37 496.5,217.37" fill="#00ff00"/>
<polygon points="505.27,222.39 503.19,218.64 507.35,218.64" fill="#00ff00"/>
<polygon points="516.12,223.66 514.04,219.92 518.2,219.92" fill="#00ff00"/>
<polygon points="526.97,224.93 524.89,221.19 529.05,221.19" fill="#00ff00"/>
<polygon points="537.81,226.21 535.73,222.46 539.89,222.46" fill="#00ff00"/>
<path d="M440.18 202.48 L451.03 208.85 L461.88 212.67 L472.73 215.98 L483.57 218.52 L494.42 219.8 L505.27 221.58 L516.12 222.85 L526.97 224.13 L537.81 224.64" fill="none" stroke="#0000ff" stroke-width="1.5" stroke-linejoin="round"/>
<circle cx="440.18" cy="202.48" r="1.04" fill="#0000ff"/>
<circle cx="451.03" cy="208.85" r="1.04" fill="#0000ff"/>
<circle cx="461.88" cy="212.67" r="1.04" fill="#0000ff"/>
<circle cx="472.73" cy="215.98" r="1.04" fill="#0000ff"/>
<circle cx="483.57" cy="218.52" r="1.04" fill="#0000ff"/>
<circle cx="494.42" cy="219.8" r="1.04" fill="#0000ff"/>
<circle cx="505.27" cy="221.58" r="1.04" fill="#0000ff"/>
<circle cx="516.12" cy="222.85" r="1.04" fill="#0000ff"/>
<circle cx="526.97" cy="224.13" r="1.04" fill="#0000ff"/>
<circle cx="537.81" cy="224.64" r="1.04" fill="#0000ff"/>
<path d="M440.18 204.26 L451.03 212.67 L461.88 216.49 L472.73 219.54 L483.57 221.58 L494.42 222.85 L505.27 224.13 L516.12 224.64 L526.97 225.4 L537.81 226.16" fill="none" stroke="#ff00ff" stroke-width="1.5" stroke-linejoin="round"/>
<polygon points="440.18,202.18 438.1,205.93 442.26,205.93" fill="#ff00ff"/>
<polygon points="451.03,210.59 448.95,214.33 453.11,214.33" fill="#ff00ff"/>
<polygon points="461.88,214.41 459.8,218.15 463.96,218.15" fill="#ff00ff"/>
<polygon points="472.73,217.46 470.65,221.21 474.81,221.21" fill="#ff00ff"/>
<polygon points="483.57,219.5 481.49,223.24 485.65,223.24" fill="#ff00ff"/>
<polygon points="494.42,220.77 492.34,224.52 496.5,224.52" fill="#ff00ff"/>
<polygon points="505.27,222.05 503.19,225.79 507.35,225.79" fill="#ff00ff"/>
<polygon points="516.12,222.56 514.04,226.3 518.2,226.3" fill="#ff00ff"/>
<polygon points="526.97,223.32 524.89,227.06 529.05,227.06" fill="#ff00ff"/>
<polygon points="537.81,224.08 535.73,227.83 539.89,227.83" fill="#ff00ff"/>
<path d="M440.18 208.08 L451.03 215.98 L461.88 219.54 L472.73 224.13 L483.57 226.67 L494.42 227.95 L505.27 228.71 L516.12 229.73 L526.97 230.49 L537.81 231.26" fill="none" stroke="#000000" stroke-width="1.5" stroke-linejoin="round"/>
<polygon points="440.18,204.96 440.95,207.03 443.15,207.12 441.42,208.49 442.02,210.61 440.18,209.38 438.35,210.61 438.95,208.49 437.22,207.12 439.42,207.03" fill="#000000"/>
<polygon points="451.03,212.86 451.79,214.93 454,215.01 452.27,216.38 452.86,218.5 451.03,217.28 449.2,218.5 449.79,216.38 448.06,215.01 450.27,214.93" fill="#000000"/>
<polygon points="461.88,216.42 462.64,218.49 464.85,218.58 463.11,219.94 463.71,222.07 461.88,220.84 460.04,222.07 460.64,219.94 458.91,218.58 461.11,218.49" fill="#000000"/>
<polygon points="472.73,221.01 473.49,223.07 475.69,223.16 473.96,224.53 474.56,226.65 472.73,225.43 470.89,226.65 471.49,224.53 469.76,223.16 471.96,223.07" fill="#000000"/>
<polygon points="483.57,223.55 484.34,225.62 486.54,225.71 484.81,227.07 485.41,229.2 483.57,227.97 481.74,229.2 482.34,227.07 480.61,225.71 482.81,225.62" fill="#000000"/>
<polygon points="494.42,224.83 495.19,226.89 497.39,226.98 495.66,228.35 496.26,230.47 494.42,229.25 492.59,230.47 493.19,228.35 491.46,226.98 493.66,226.89" fill="#000000"/>
<polygon points="505.27,225.59 506.03,227.66 508.24,227.75 506.51,229.11 507.1,231.23 505.27,230.01 503.44,231.23 504.03,229.11 502.3,227.75 504.51,227.66" fill="#000000"/>
<polygon points="516.12,226.61 516.88,228.68 519.09,228.76 517.35,230.13 517.95,232.25 516.12,231.03 514.28,232.25 514.88,230.13 513.15,228.76 515.35,228.68" fill="#000000"/>
<polygon points="526.97,227.37 527.73,229.44 529.93,229.53 528.2,230.89 528.8,233.02 526.97,231.79 525.13,233.02 525.73,230.89 524,229.53 526.2,229.44" fill="#000000"/>
<polygon points="537.81,228.14 538.58,230.2 540.78,230.29 539.05,231.66 539.65,233.78 537.81,232.56 535.98,233.78 536.58,231.66 534.85,230.29 537.05,230.2" fill="#000000"/>
<path d="M440.18 210.88 L451.03 218.27 L461.88 222.85 L472.73 224.89 L483.57 226.67 L494.42 227.95 L505.27 228.71 L516.12 229.22 L526.97 229.98 L537.81 230.75" fill="none" stroke="#ff0000" stroke-width="1.5" stroke-linejoin="round"/>
<circle cx="440.18" cy="210.88" r="1.69" fill="#ff0000"/>
<circle cx="451.03" cy="218.27" r="1.69" fill="#ff0000"/>
<circle cx="461.88" cy="222.85" r="1.69" fill="#ff0000"/>
<circle cx="472.73" cy="224.89" r="1.69" fill="#ff0000"/>
<circle cx="483.57" cy="226.67" r="1.69" fill="#ff0000"/>
<circle cx="494.42" cy="227.95" r="1.69" fill="#ff0000"/>
<circle cx="505.27" cy="228.71" r="1.69" fill="#ff0000"/>
<circle cx="516.12" cy="229.22" r="1.69" fill="#ff0000"/>
<circle cx="526.97" cy="229.98" r="1.69" fill="#ff0000"/>
<circle cx="537.81" cy="230.75" r="1.69" fill="#ff0000"/>
</g>
<text x="429.33" y="253.85" font-size="5.6" text-anchor="middle" fill="#333">0</text>
<text x="451.03" y="253.85" font-size="5.6" text-anchor="middle" fill="#333">1</text>
<text x="472.73" y="253.85" font-size="5.6" text-anchor="middle" fill="#333">2</text>
<text x="494.42" y="253.85" font-size="5.6" text-anchor="middle" fill="#333">3</text>
<text x="516.12" y="253.85" font-size="5.6" text-anchor="middle" fill="#333">4</text>
<text x="537.81" y="253.85" font-size="5.6" text-anchor="middle" fill="#333">5</text>
<text x="428.13" y="149.92" font-size="5.6" text-anchor="end" fill="#333">10<tspan font-size="4.3" dy="-2.2">17</tspan></text>
<text x="428.13" y="175.39" font-size="5.6" text-anchor="end" fill="#333">10<tspan font-size="4.3" dy="-2.2">16</tspan></text>
<text x="428.13" y="200.85" font-size="5.6" text-anchor="end" fill="#333">10<tspan font-size="4.3" dy="-2.2">15</tspan></text>
<text x="428.13" y="226.32" font-size="5.6" text-anchor="end" fill="#333">10<tspan font-size="4.3" dy="-2.2">14</tspan></text>
<text x="428.13" y="251.02" font-size="5.6" text-anchor="end" fill="#333">10<tspan font-size="4.3" dy="-2.2">13</tspan></text>
<text x="483.5" y="145.6" font-size="6.3" text-anchor="middle" textLength="27.4" lengthAdjust="spacingAndGlyphs" fill="#222">Function 8</text>
<text x="483.5" y="260.6" font-size="6.3" text-anchor="middle" textLength="49.5" lengthAdjust="spacingAndGlyphs" fill="#333">Fitness Evaluations</text>
<text x="531.28" y="261.99" font-size="5.0" text-anchor="middle" fill="#333">×10<tspan font-size="3.8" dy="-2.0">4</tspan></text>
<text transform="translate(414.8 199.5) rotate(-90)" font-size="5.5" text-anchor="middle" textLength="51" lengthAdjust="spacingAndGlyphs" fill="#333">Averaged Fitness Value</text>
<text x="474.3" y="273.2" font-size="7.4" text-anchor="middle" textLength="13.6" lengthAdjust="spacingAndGlyphs" fill="#222">(h)<tspan font-style="italic">F</tspan><tspan font-size="4.6">8</tspan></text>
<rect x="495.03" y="150.79" width="41" height="53" fill="none" stroke="#c8c8c8" stroke-width="0.5"/>
<line x1="495.83" y1="153.59" x2="504.83" y2="153.59" stroke="#000000" stroke-width="1.8"/>
<polygon points="500.13,150.47 500.9,152.54 503.1,152.62 501.37,153.99 501.97,156.11 500.13,154.89 498.3,156.11 498.9,153.99 497.17,152.62 499.37,152.54" fill="#000000"/>
<text x="504.93" y="155.44" font-size="5.4" fill="#333">DGCELSO</text>
<line x1="495.83" y1="158.77" x2="504.83" y2="158.77" stroke="#ff0000" stroke-width="1.8"/>
<circle cx="500.13" cy="158.77" r="1.69" fill="#ff0000"/>
<text x="504.93" y="160.62" font-size="5.4" fill="#333">TPLSO</text>
<line x1="495.83" y1="163.95" x2="504.83" y2="163.95" stroke="#00ff00" stroke-width="1.8"/>
<polygon points="500.13,166.03 498.05,162.28 502.21,162.28" fill="#00ff00"/>
<text x="504.93" y="165.8" font-size="5.4" fill="#333">SPLSO</text>
<line x1="495.83" y1="169.13" x2="504.83" y2="169.13" stroke="#0000ff" stroke-width="1.8"/>
<circle cx="500.13" cy="169.13" r="1.04" fill="#0000ff"/>
<text x="504.93" y="170.98" font-size="5.4" fill="#333">LLSO</text>
<line x1="495.83" y1="174.31" x2="504.83" y2="174.31" stroke="#00ffff" stroke-width="1.8"/>
<polygon points="502.21,174.31 498.47,172.23 498.47,176.39" fill="#00ffff"/>
<text x="504.93" y="176.16" font-size="5.4" fill="#333">CNO</text>
<line x1="495.83" y1="179.49" x2="504.83" y2="179.49" stroke="#ff00ff" stroke-width="1.8"/>
<polygon points="500.13,177.41 498.05,181.15 502.21,181.15" fill="#ff00ff"/>
<text x="504.93" y="181.34" font-size="5.4" fill="#333">SLPSO</text>
<line x1="495.83" y1="184.67" x2="504.83" y2="184.67" stroke="#ff0000" stroke-width="1.6" stroke-dasharray="1.2,1.2"/>
<circle cx="500.13" cy="184.67" r="1.3" fill="#ff0000"/>
<text x="504.93" y="186.52" font-size="5.4" fill="#333">DECC-DG</text>
<line x1="495.83" y1="189.85" x2="504.83" y2="189.85" stroke="#00ff00" stroke-width="1.6" stroke-dasharray="2.5,1,1,1"/>
<polygon points="498.05,189.85 501.8,187.77 501.8,191.93" fill="#00ff00"/>
<text x="504.93" y="191.7" font-size="5.4" fill="#333">DECC-GDG</text>
<line x1="495.83" y1="195.03" x2="504.83" y2="195.03" stroke="#000000" stroke-width="1.6" stroke-dasharray="2.5,1,1,1"/>
<circle cx="500.13" cy="195.03" r="1.04" fill="#000000"/>
<text x="504.93" y="196.88" font-size="5.4" fill="#333">DECC-RDG</text>
<line x1="495.83" y1="200.21" x2="504.83" y2="200.21" stroke="#00ff00" stroke-width="1.6" stroke-dasharray="1.2,1.2"/>
<circle cx="500.13" cy="200.21" r="1.95" fill="#00ff00"/>
<text x="504.93" y="202.06" font-size="5.4" fill="#333">DECC-RDG2</text>
<line x1="24.19" y1="378.53" x2="134.96" y2="378.53" stroke="#efefef" stroke-width="0.5"/>
<line x1="24.19" y1="372.62" x2="134.96" y2="372.62" stroke="#efefef" stroke-width="0.5"/>
<line x1="24.19" y1="367.63" x2="134.96" y2="367.63" stroke="#efefef" stroke-width="0.5"/>
<line x1="24.19" y1="363.3" x2="134.96" y2="363.3" stroke="#efefef" stroke-width="0.5"/>
<line x1="24.19" y1="359.48" x2="134.96" y2="359.48" stroke="#efefef" stroke-width="0.5"/>
<line x1="24.19" y1="333.61" x2="134.96" y2="333.61" stroke="#efefef" stroke-width="0.5"/>
<line x1="24.19" y1="320.47" x2="134.96" y2="320.47" stroke="#efefef" stroke-width="0.5"/>
<line x1="24.19" y1="311.15" x2="134.96" y2="311.15" stroke="#efefef" stroke-width="0.5"/>
<line x1="24.19" y1="303.92" x2="134.96" y2="303.92" stroke="#efefef" stroke-width="0.5"/>
<line x1="24.19" y1="298.01" x2="134.96" y2="298.01" stroke="#efefef" stroke-width="0.5"/>
<line x1="24.19" y1="293.02" x2="134.96" y2="293.02" stroke="#efefef" stroke-width="0.5"/>
<line x1="24.19" y1="288.69" x2="134.96" y2="288.69" stroke="#efefef" stroke-width="0.5"/>
<line x1="24.19" y1="284.87" x2="134.96" y2="284.87" stroke="#efefef" stroke-width="0.5"/>
<line x1="46.35" y1="282.22" x2="46.35" y2="382.55" stroke="#dedede" stroke-width="0.5"/>
<line x1="68.5" y1="282.22" x2="68.5" y2="382.55" stroke="#dedede" stroke-width="0.5"/>
<line x1="90.65" y1="282.22" x2="90.65" y2="382.55" stroke="#dedede" stroke-width="0.5"/>
<line x1="112.81" y1="282.22" x2="112.81" y2="382.55" stroke="#dedede" stroke-width="0.5"/>
<line x1="24.19" y1="356.07" x2="134.96" y2="356.07" stroke="#dedede" stroke-width="0.5"/>
<rect x="24.19" y="282.22" width="110.77" height="100.33" fill="none" stroke="#b4b4b4" stroke-width="0.8"/>
<clipPath id="c8"><rect x="23.19" y="280.72" width="112.77" height="103.33"/></clipPath>
<g clip-path="url(#c8)">
<path d="M46.35 290.88 L57.42 296.23 L68.5 298.01 L79.58 299.79 L90.65 301.07 L101.73 302.34 L112.81 303.1 L123.89 303.87 L134.96 304.89" fill="none" stroke="#ff0000" stroke-width="1.3" stroke-dasharray="1.2,1.2" stroke-linejoin="round"/>
<circle cx="46.35" cy="290.88" r="1.3" fill="#ff0000"/>
<circle cx="57.42" cy="296.23" r="1.3" fill="#ff0000"/>
<circle cx="68.5" cy="298.01" r="1.3" fill="#ff0000"/>
<circle cx="79.58" cy="299.79" r="1.3" fill="#ff0000"/>
<circle cx="90.65" cy="301.07" r="1.3" fill="#ff0000"/>
<circle cx="101.73" cy="302.34" r="1.3" fill="#ff0000"/>
<circle cx="112.81" cy="303.1" r="1.3" fill="#ff0000"/>
<circle cx="123.89" cy="303.87" r="1.3" fill="#ff0000"/>
<circle cx="134.96" cy="304.89" r="1.3" fill="#ff0000"/>
<path d="M35.27 291.65 L46.35 295.46 L57.42 298.01 L68.5 299.28 L79.58 300.56 L90.65 301.83 L101.73 302.59 L112.81 303.1 L123.89 303.87 L134.96 304.89" fill="none" stroke="#00ff00" stroke-width="1.3" stroke-dasharray="2.5,1,1,1" stroke-linejoin="round"/>
<polygon points="33.19,291.65 36.93,289.57 36.93,293.73" fill="#00ff00"/>
<polygon points="44.27,295.46 48.01,293.38 48.01,297.54" fill="#00ff00"/>
<polygon points="55.34,298.01 59.09,295.93 59.09,300.09" fill="#00ff00"/>
<polygon points="66.42,299.28 70.16,297.2 70.16,301.36" fill="#00ff00"/>
<polygon points="77.5,300.56 81.24,298.48 81.24,302.64" fill="#00ff00"/>
<polygon points="88.57,301.83 92.32,299.75 92.32,303.91" fill="#00ff00"/>
<polygon points="99.65,302.59 103.4,300.51 103.4,304.67" fill="#00ff00"/>
<polygon points="110.73,303.1 114.47,301.02 114.47,305.18" fill="#00ff00"/>
<polygon points="121.81,303.87 125.55,301.79 125.55,305.95" fill="#00ff00"/>
<polygon points="132.88,304.89 136.63,302.81 136.63,306.97" fill="#00ff00"/>
<path d="M35.27 291.65 L46.35 295.46 L57.42 298.01 L68.5 299.28 L79.58 300.56 L90.65 301.83 L101.73 302.59 L112.81 303.1 L123.89 303.87 L134.96 304.89" fill="none" stroke="#000000" stroke-width="1.3" stroke-dasharray="2.5,1,1,1" stroke-linejoin="round"/>
<circle cx="35.27" cy="291.65" r="1.04" fill="#000000"/>
<circle cx="46.35" cy="295.46" r="1.04" fill="#000000"/>
<circle cx="57.42" cy="298.01" r="1.04" fill="#000000"/>
<circle cx="68.5" cy="299.28" r="1.04" fill="#000000"/>
<circle cx="79.58" cy="300.56" r="1.04" fill="#000000"/>
<circle cx="90.65" cy="301.83" r="1.04" fill="#000000"/>
<circle cx="101.73" cy="302.59" r="1.04" fill="#000000"/>
<circle cx="112.81" cy="303.1" r="1.04" fill="#000000"/>
<circle cx="123.89" cy="303.87" r="1.04" fill="#000000"/>
<circle cx="134.96" cy="304.89" r="1.04" fill="#000000"/>
<path d="M35.27 291.65 L46.35 295.46 L57.42 298.01 L68.5 299.28 L79.58 300.56 L90.65 301.83 L101.73 302.59 L112.81 303.1 L123.89 303.87 L134.96 304.89" fill="none" stroke="#00ff00" stroke-width="1.3" stroke-dasharray="1.2,1.2" stroke-linejoin="round"/>
<circle cx="35.27" cy="291.65" r="1.95" fill="#00ff00"/>
<circle cx="46.35" cy="295.46" r="1.95" fill="#00ff00"/>
<circle cx="57.42" cy="298.01" r="1.95" fill="#00ff00"/>
<circle cx="68.5" cy="299.28" r="1.95" fill="#00ff00"/>
<circle cx="79.58" cy="300.56" r="1.95" fill="#00ff00"/>
<circle cx="90.65" cy="301.83" r="1.95" fill="#00ff00"/>
<circle cx="101.73" cy="302.59" r="1.95" fill="#00ff00"/>
<circle cx="112.81" cy="303.1" r="1.95" fill="#00ff00"/>
<circle cx="123.89" cy="303.87" r="1.95" fill="#00ff00"/>
<circle cx="134.96" cy="304.89" r="1.95" fill="#00ff00"/>
<path d="M35.27 346.9 L46.35 346.9 L57.42 346.9 L68.5 346.9 L79.58 346.9 L90.65 346.9 L101.73 346.9 L112.81 346.9 L123.89 346.9 L134.96 346.9" fill="none" stroke="#0000ff" stroke-width="1.5" stroke-linejoin="round"/>
<circle cx="35.27" cy="346.9" r="1.04" fill="#0000ff"/>
<circle cx="46.35" cy="346.9" r="1.04" fill="#0000ff"/>
<circle cx="57.42" cy="346.9" r="1.04" fill="#0000ff"/>
<circle cx="68.5" cy="346.9" r="1.04" fill="#0000ff"/>
<circle cx="79.58" cy="346.9" r="1.04" fill="#0000ff"/>
<circle cx="90.65" cy="346.9" r="1.04" fill="#0000ff"/>
<circle cx="101.73" cy="346.9" r="1.04" fill="#0000ff"/>
<circle cx="112.81" cy="346.9" r="1.04" fill="#0000ff"/>
<circle cx="123.89" cy="346.9" r="1.04" fill="#0000ff"/>
<circle cx="134.96" cy="346.9" r="1.04" fill="#0000ff"/>
<path d="M35.27 294.7 L46.35 346.39 L57.42 356.58 L68.5 366.77 L79.58 370.59 L90.65 371.09 L101.73 371.09 L112.81 371.09 L123.89 371.09 L134.96 371.09" fill="none" stroke="#00ffff" stroke-width="1.5" stroke-linejoin="round"/>
<polygon points="37.35,294.7 33.6,292.62 33.6,296.78" fill="#00ffff"/>
<polygon points="48.43,346.39 44.68,344.31 44.68,348.47" fill="#00ffff"/>
<polygon points="59.5,356.58 55.76,354.5 55.76,358.66" fill="#00ffff"/>
<polygon points="70.58,366.77 66.84,364.69 66.84,368.85" fill="#00ffff"/>
<polygon points="81.66,370.59 77.91,368.51 77.91,372.67" fill="#00ffff"/>
<polygon points="92.73,371.09 88.99,369.01 88.99,373.17" fill="#00ffff"/>
<polygon points="103.81,371.09 100.07,369.01 100.07,373.17" fill="#00ffff"/>
<polygon points="114.89,371.09 111.14,369.01 111.14,373.17" fill="#00ffff"/>
<polygon points="125.97,371.09 122.22,369.01 122.22,373.17" fill="#00ffff"/>
<polygon points="137.04,371.09 133.3,369.01 133.3,373.17" fill="#00ffff"/>
<path d="M35.27 340.03 L46.35 362.18 L57.42 362.18 L68.5 362.18 L79.58 362.18 L90.65 362.18 L101.73 362.18 L112.81 362.18 L123.89 362.18 L134.96 362.18" fill="none" stroke="#00ff00" stroke-width="1.5" stroke-linejoin="round"/>
<polygon points="35.27,342.11 33.19,338.36 37.35,338.36" fill="#00ff00"/>
<polygon points="46.35,364.26 44.27,360.52 48.43,360.52" fill="#00ff00"/>
<polygon points="57.42,364.26 55.34,360.52 59.5,360.52" fill="#00ff00"/>
<polygon points="68.5,364.26 66.42,360.52 70.58,360.52" fill="#00ff00"/>
<polygon points="79.58,364.26 77.5,360.52 81.66,360.52" fill="#00ff00"/>
<polygon points="90.65,364.26 88.57,360.52 92.73,360.52" fill="#00ff00"/>
<polygon points="101.73,364.26 99.65,360.52 103.81,360.52" fill="#00ff00"/>
<polygon points="112.81,364.26 110.73,360.52 114.89,360.52" fill="#00ff00"/>
<polygon points="123.89,364.26 121.81,360.52 125.97,360.52" fill="#00ff00"/>
<polygon points="134.96,364.26 132.88,360.52 137.04,360.52" fill="#00ff00"/>
<path d="M35.27 354.03 L46.35 362.18 L57.42 362.18 L68.5 362.18 L79.58 362.18 L90.65 362.18 L101.73 362.18 L112.81 362.18 L123.89 362.18 L134.96 362.18" fill="none" stroke="#ff00ff" stroke-width="1.5" stroke-linejoin="round"/>
<polygon points="35.27,351.95 33.19,355.7 37.35,355.7" fill="#ff00ff"/>
<polygon points="46.35,360.1 44.27,363.85 48.43,363.85" fill="#ff00ff"/>
<polygon points="57.42,360.1 55.34,363.85 59.5,363.85" fill="#ff00ff"/>
<polygon points="68.5,360.1 66.42,363.85 70.58,363.85" fill="#ff00ff"/>
<polygon points="79.58,360.1 77.5,363.85 81.66,363.85" fill="#ff00ff"/>
<polygon points="90.65,360.1 88.57,363.85 92.73,363.85" fill="#ff00ff"/>
<polygon points="101.73,360.1 99.65,363.85 103.81,363.85" fill="#ff00ff"/>
<polygon points="112.81,360.1 110.73,363.85 114.89,363.85" fill="#ff00ff"/>
<polygon points="123.89,360.1 121.81,363.85 125.97,363.85" fill="#ff00ff"/>
<polygon points="134.96,360.1 132.88,363.85 137.04,363.85" fill="#ff00ff"/>
<path d="M35.27 382.3 L46.35 382.3 L57.42 382.3 L68.5 382.3 L79.58 382.3 L90.65 382.3 L101.73 382.3 L112.81 382.3 L123.89 382.3 L134.96 382.3" fill="none" stroke="#ff0000" stroke-width="1.5" stroke-linejoin="round"/>
<circle cx="35.27" cy="382.3" r="1.69" fill="#ff0000"/>
<circle cx="46.35" cy="382.3" r="1.69" fill="#ff0000"/>
<circle cx="57.42" cy="382.3" r="1.69" fill="#ff0000"/>
<circle cx="68.5" cy="382.3" r="1.69" fill="#ff0000"/>
<circle cx="79.58" cy="382.3" r="1.69" fill="#ff0000"/>
<circle cx="90.65" cy="382.3" r="1.69" fill="#ff0000"/>
<circle cx="101.73" cy="382.3" r="1.69" fill="#ff0000"/>
<circle cx="112.81" cy="382.3" r="1.69" fill="#ff0000"/>
<circle cx="123.89" cy="382.3" r="1.69" fill="#ff0000"/>
<circle cx="134.96" cy="382.3" r="1.69" fill="#ff0000"/>
<path d="M35.27 319.66 L46.35 350.21 L57.42 370.08 L68.5 371.09 L79.58 380.01 L90.65 380.01 L101.73 380.01 L112.81 380.01 L123.89 380.01 L134.96 380.01" fill="none" stroke="#000000" stroke-width="1.5" stroke-linejoin="round"/>
<polygon points="35.27,316.54 36.03,318.6 38.24,318.69 36.51,320.06 37.1,322.18 35.27,320.96 33.43,322.18 34.03,320.06 32.3,318.69 34.5,318.6" fill="#000000"/>
<polygon points="46.35,347.09 47.11,349.16 49.31,349.25 47.58,350.62 48.18,352.74 46.35,351.51 44.51,352.74 45.11,350.62 43.38,349.25 45.58,349.16" fill="#000000"/>
<polygon points="57.42,366.96 58.19,369.02 60.39,369.11 58.66,370.48 59.26,372.6 57.42,371.38 55.59,372.6 56.19,370.48 54.46,369.11 56.66,369.02" fill="#000000"/>
<polygon points="68.5,367.97 69.26,370.04 71.47,370.13 69.74,371.5 70.33,373.62 68.5,372.39 66.67,373.62 67.26,371.5 65.53,370.13 67.74,370.04" fill="#000000"/>
<polygon points="79.58,376.89 80.34,378.96 82.54,379.04 80.81,380.41 81.41,382.53 79.58,381.31 77.74,382.53 78.34,380.41 76.61,379.04 78.81,378.96" fill="#000000"/>
<polygon points="90.65,376.89 91.42,378.96 93.62,379.04 91.89,380.41 92.49,382.53 90.65,381.31 88.82,382.53 89.42,380.41 87.69,379.04 89.89,378.96" fill="#000000"/>
<polygon points="101.73,376.89 102.5,378.96 104.7,379.04 102.97,380.41 103.57,382.53 101.73,381.31 99.9,382.53 100.5,380.41 98.76,379.04 100.97,378.96" fill="#000000"/>
<polygon points="112.81,376.89 113.57,378.96 115.78,379.04 114.05,380.41 114.64,382.53 112.81,381.31 110.97,382.53 111.57,380.41 109.84,379.04 112.04,378.96" fill="#000000"/>
<polygon points="123.89,376.89 124.65,378.96 126.85,379.04 125.12,380.41 125.72,382.53 123.89,381.31 122.05,382.53 122.65,380.41 120.92,379.04 123.12,378.96" fill="#000000"/>
<polygon points="134.96,376.89 135.73,378.96 137.93,379.04 136.2,380.41 136.8,382.53 134.96,381.31 133.13,382.53 133.73,380.41 132,379.04 134.2,378.96" fill="#000000"/>
</g>
<text x="24.19" y="389.55" font-size="5.6" text-anchor="middle" fill="#333">0</text>
<text x="46.35" y="389.55" font-size="5.6" text-anchor="middle" fill="#333">1</text>
<text x="68.5" y="389.55" font-size="5.6" text-anchor="middle" fill="#333">2</text>
<text x="90.65" y="389.55" font-size="5.6" text-anchor="middle" fill="#333">3</text>
<text x="112.81" y="389.55" font-size="5.6" text-anchor="middle" fill="#333">4</text>
<text x="134.96" y="389.55" font-size="5.6" text-anchor="middle" fill="#333">5</text>
<text x="22.99" y="284.16" font-size="5.6" text-anchor="end" fill="#333">10<tspan font-size="4.3" dy="-2.2">9</tspan></text>
<text x="22.99" y="358.77" font-size="5.6" text-anchor="end" fill="#333">10<tspan font-size="4.3" dy="-2.2">8</tspan></text>
<text x="79.6" y="279.6" font-size="6.3" text-anchor="middle" textLength="27.4" lengthAdjust="spacingAndGlyphs" fill="#222">Function 9</text>
<text x="79.5" y="395.1" font-size="6.3" text-anchor="middle" textLength="49.5" lengthAdjust="spacingAndGlyphs" fill="#333">Fitness Evaluations</text>
<text x="129.2" y="396.48" font-size="5.0" text-anchor="middle" fill="#333">×10<tspan font-size="3.8" dy="-2.0">4</tspan></text>
<text transform="translate(12.2 333) rotate(-90)" font-size="5.5" text-anchor="middle" textLength="52" lengthAdjust="spacingAndGlyphs" fill="#333">Averaged Fitness Value</text>
<text x="71.7" y="407.7" font-size="7.4" text-anchor="middle" textLength="12.3" lengthAdjust="spacingAndGlyphs" fill="#222">(i)<tspan font-style="italic">F</tspan><tspan font-size="4.6">9</tspan></text>
<rect x="91.67" y="284.77" width="41" height="53" fill="none" stroke="#c8c8c8" stroke-width="0.5"/>
<line x1="92.47" y1="287.57" x2="101.47" y2="287.57" stroke="#000000" stroke-width="1.8"/>
<polygon points="96.77,284.45 97.54,286.52 99.74,286.61 98.01,287.97 98.61,290.09 96.77,288.87 94.94,290.09 95.54,287.97 93.81,286.61 96.01,286.52" fill="#000000"/>
<text x="101.57" y="289.42" font-size="5.4" fill="#333">DGCELSO</text>
<line x1="92.47" y1="292.75" x2="101.47" y2="292.75" stroke="#ff0000" stroke-width="1.8"/>
<circle cx="96.77" cy="292.75" r="1.69" fill="#ff0000"/>
<text x="101.57" y="294.6" font-size="5.4" fill="#333">TPLSO</text>
<line x1="92.47" y1="297.93" x2="101.47" y2="297.93" stroke="#00ff00" stroke-width="1.8"/>
<polygon points="96.77,300.01 94.69,296.27 98.85,296.27" fill="#00ff00"/>
<text x="101.57" y="299.78" font-size="5.4" fill="#333">SPLSO</text>
<line x1="92.47" y1="303.11" x2="101.47" y2="303.11" stroke="#0000ff" stroke-width="1.8"/>
<circle cx="96.77" cy="303.11" r="1.04" fill="#0000ff"/>
<text x="101.57" y="304.96" font-size="5.4" fill="#333">LLSO</text>
<line x1="92.47" y1="308.29" x2="101.47" y2="308.29" stroke="#00ffff" stroke-width="1.8"/>
<polygon points="98.85,308.29 95.11,306.21 95.11,310.37" fill="#00ffff"/>
<text x="101.57" y="310.14" font-size="5.4" fill="#333">CNO</text>
<line x1="92.47" y1="313.47" x2="101.47" y2="313.47" stroke="#ff00ff" stroke-width="1.8"/>
<polygon points="96.77,311.39 94.69,315.13 98.85,315.13" fill="#ff00ff"/>
<text x="101.57" y="315.32" font-size="5.4" fill="#333">SLPSO</text>
<line x1="92.47" y1="318.65" x2="101.47" y2="318.65" stroke="#ff0000" stroke-width="1.6" stroke-dasharray="1.2,1.2"/>
<circle cx="96.77" cy="318.65" r="1.3" fill="#ff0000"/>
<text x="101.57" y="320.5" font-size="5.4" fill="#333">DECC-DG</text>
<line x1="92.47" y1="323.83" x2="101.47" y2="323.83" stroke="#00ff00" stroke-width="1.6" stroke-dasharray="2.5,1,1,1"/>
<polygon points="94.69,323.83 98.44,321.75 98.44,325.91" fill="#00ff00"/>
<text x="101.57" y="325.68" font-size="5.4" fill="#333">DECC-GDG</text>
<line x1="92.47" y1="329.01" x2="101.47" y2="329.01" stroke="#000000" stroke-width="1.6" stroke-dasharray="2.5,1,1,1"/>
<circle cx="96.77" cy="329.01" r="1.04" fill="#000000"/>
<text x="101.57" y="330.86" font-size="5.4" fill="#333">DECC-RDG</text>
<line x1="92.47" y1="334.19" x2="101.47" y2="334.19" stroke="#00ff00" stroke-width="1.6" stroke-dasharray="1.2,1.2"/>
<circle cx="96.77" cy="334.19" r="1.95" fill="#00ff00"/>
<text x="101.57" y="336.04" font-size="5.4" fill="#333">DECC-RDG2</text>
<line x1="160.43" y1="285.13" x2="269.8" y2="285.13" stroke="#f1f1f1" stroke-width="0.5"/>
<line x1="160.43" y1="288.79" x2="269.8" y2="288.79" stroke="#f1f1f1" stroke-width="0.5"/>
<line x1="160.43" y1="292.46" x2="269.8" y2="292.46" stroke="#f1f1f1" stroke-width="0.5"/>
<line x1="160.43" y1="296.13" x2="269.8" y2="296.13" stroke="#f1f1f1" stroke-width="0.5"/>
<line x1="160.43" y1="299.79" x2="269.8" y2="299.79" stroke="#f1f1f1" stroke-width="0.5"/>
<line x1="160.43" y1="303.46" x2="269.8" y2="303.46" stroke="#f1f1f1" stroke-width="0.5"/>
<line x1="160.43" y1="307.13" x2="269.8" y2="307.13" stroke="#f1f1f1" stroke-width="0.5"/>
<line x1="160.43" y1="310.79" x2="269.8" y2="310.79" stroke="#f1f1f1" stroke-width="0.5"/>
<line x1="160.43" y1="314.46" x2="269.8" y2="314.46" stroke="#f1f1f1" stroke-width="0.5"/>
<line x1="160.43" y1="318.13" x2="269.8" y2="318.13" stroke="#f1f1f1" stroke-width="0.5"/>
<line x1="160.43" y1="321.8" x2="269.8" y2="321.8" stroke="#f1f1f1" stroke-width="0.5"/>
<line x1="160.43" y1="325.46" x2="269.8" y2="325.46" stroke="#f1f1f1" stroke-width="0.5"/>
<line x1="160.43" y1="329.13" x2="269.8" y2="329.13" stroke="#f1f1f1" stroke-width="0.5"/>
<line x1="160.43" y1="332.8" x2="269.8" y2="332.8" stroke="#f1f1f1" stroke-width="0.5"/>
<line x1="160.43" y1="336.46" x2="269.8" y2="336.46" stroke="#f1f1f1" stroke-width="0.5"/>
<line x1="160.43" y1="340.13" x2="269.8" y2="340.13" stroke="#f1f1f1" stroke-width="0.5"/>
<line x1="160.43" y1="343.8" x2="269.8" y2="343.8" stroke="#f1f1f1" stroke-width="0.5"/>
<line x1="160.43" y1="347.46" x2="269.8" y2="347.46" stroke="#f1f1f1" stroke-width="0.5"/>
<line x1="160.43" y1="351.13" x2="269.8" y2="351.13" stroke="#f1f1f1" stroke-width="0.5"/>
<line x1="160.43" y1="354.8" x2="269.8" y2="354.8" stroke="#f1f1f1" stroke-width="0.5"/>
<line x1="160.43" y1="358.46" x2="269.8" y2="358.46" stroke="#f1f1f1" stroke-width="0.5"/>
<line x1="160.43" y1="362.13" x2="269.8" y2="362.13" stroke="#f1f1f1" stroke-width="0.5"/>
<line x1="160.43" y1="365.8" x2="269.8" y2="365.8" stroke="#f1f1f1" stroke-width="0.5"/>
<line x1="160.43" y1="369.47" x2="269.8" y2="369.47" stroke="#f1f1f1" stroke-width="0.5"/>
<line x1="160.43" y1="373.13" x2="269.8" y2="373.13" stroke="#f1f1f1" stroke-width="0.5"/>
<line x1="160.43" y1="376.8" x2="269.8" y2="376.8" stroke="#f1f1f1" stroke-width="0.5"/>
<line x1="160.43" y1="380.47" x2="269.8" y2="380.47" stroke="#f1f1f1" stroke-width="0.5"/>
<line x1="182.3" y1="282.3" x2="182.3" y2="382.04" stroke="#dedede" stroke-width="0.5"/>
<line x1="204.18" y1="282.3" x2="204.18" y2="382.04" stroke="#dedede" stroke-width="0.5"/>
<line x1="226.05" y1="282.3" x2="226.05" y2="382.04" stroke="#dedede" stroke-width="0.5"/>
<line x1="247.92" y1="282.3" x2="247.92" y2="382.04" stroke="#dedede" stroke-width="0.5"/>
<line x1="160.43" y1="299.79" x2="269.8" y2="299.79" stroke="#dedede" stroke-width="0.5"/>
<line x1="160.43" y1="317.87" x2="269.8" y2="317.87" stroke="#dedede" stroke-width="0.5"/>
<line x1="160.43" y1="336.21" x2="269.8" y2="336.21" stroke="#dedede" stroke-width="0.5"/>
<line x1="160.43" y1="354.03" x2="269.8" y2="354.03" stroke="#dedede" stroke-width="0.5"/>
<line x1="160.43" y1="373.13" x2="269.8" y2="373.13" stroke="#dedede" stroke-width="0.5"/>
<rect x="160.43" y="282.3" width="109.37" height="99.75" fill="none" stroke="#b4b4b4" stroke-width="0.8"/>
<clipPath id="c9"><rect x="159.43" y="280.8" width="111.37" height="102.75"/></clipPath>
<g clip-path="url(#c9)">
<path d="M171.36 301.07 L182.3 308.71 L193.24 312.02 L204.18 313.29 L215.11 314.56 L226.05 315.84 L236.99 316.35 L247.92 316.86 L258.86 317.11 L269.8 317.36" fill="none" stroke="#000000" stroke-width="1.5" stroke-linejoin="round"/>
<polygon points="171.36,297.95 172.13,300.02 174.33,300.1 172.6,301.47 173.2,303.59 171.36,302.37 169.53,303.59 170.13,301.47 168.4,300.1 170.6,300.02" fill="#000000"/>
<polygon points="182.3,305.59 183.07,307.65 185.27,307.74 183.54,309.11 184.14,311.23 182.3,310.01 180.47,311.23 181.07,309.11 179.33,307.74 181.54,307.65" fill="#000000"/>
<polygon points="193.24,308.9 194,310.97 196.21,311.05 194.48,312.42 195.07,314.54 193.24,313.32 191.4,314.54 192,312.42 190.27,311.05 192.47,310.97" fill="#000000"/>
<polygon points="204.18,310.17 204.94,312.24 207.14,312.33 205.41,313.69 206.01,315.81 204.18,314.59 202.34,315.81 202.94,313.69 201.21,312.33 203.41,312.24" fill="#000000"/>
<polygon points="215.11,311.44 215.88,313.51 218.08,313.6 216.35,314.97 216.95,317.09 215.11,315.86 213.28,317.09 213.88,314.97 212.15,313.6 214.35,313.51" fill="#000000"/>
<polygon points="226.05,312.72 226.81,314.78 229.02,314.87 227.29,316.24 227.88,318.36 226.05,317.14 224.22,318.36 224.81,316.24 223.08,314.87 225.29,314.78" fill="#000000"/>
<polygon points="236.99,313.23 237.75,315.29 239.95,315.38 238.22,316.75 238.82,318.87 236.99,317.65 235.15,318.87 235.75,316.75 234.02,315.38 236.22,315.29" fill="#000000"/>
<polygon points="247.92,313.74 248.69,315.8 250.89,315.89 249.16,317.26 249.76,319.38 247.92,318.16 246.09,319.38 246.69,317.26 244.96,315.89 247.16,315.8" fill="#000000"/>
<polygon points="258.86,313.99 259.63,316.06 261.83,316.15 260.1,317.51 260.7,319.63 258.86,318.41 257.03,319.63 257.63,317.51 255.89,316.15 258.1,316.06" fill="#000000"/>
<polygon points="269.8,314.24 270.56,316.31 272.77,316.4 271.03,317.77 271.63,319.89 269.8,318.66 267.96,319.89 268.56,317.77 266.83,316.4 269.03,316.31" fill="#000000"/>
<path d="M182.3 282.22 L193.24 291.65 L204.18 292.92 L215.11 294.19 L226.05 295.97 L236.99 296.74 L247.92 297.5 L258.86 298.01 L269.8 298.78" fill="none" stroke="#ff0000" stroke-width="1.3" stroke-dasharray="1.2,1.2" stroke-linejoin="round"/>
<circle cx="182.3" cy="282.22" r="1.3" fill="#ff0000"/>
<circle cx="193.24" cy="291.65" r="1.3" fill="#ff0000"/>
<circle cx="204.18" cy="292.92" r="1.3" fill="#ff0000"/>
<circle cx="215.11" cy="294.19" r="1.3" fill="#ff0000"/>
<circle cx="226.05" cy="295.97" r="1.3" fill="#ff0000"/>
<circle cx="236.99" cy="296.74" r="1.3" fill="#ff0000"/>
<circle cx="247.92" cy="297.5" r="1.3" fill="#ff0000"/>
<circle cx="258.86" cy="298.01" r="1.3" fill="#ff0000"/>
<circle cx="269.8" cy="298.78" r="1.3" fill="#ff0000"/>
<path d="M171.36 282.22 L182.3 288.33 L193.24 291.65 L204.18 292.41 L215.11 294.19 L226.05 295.97 L236.99 298.01 L247.92 300.05 L258.86 301.07 L269.8 302.59" fill="none" stroke="#000000" stroke-width="1.3" stroke-dasharray="2.5,1,1,1" stroke-linejoin="round"/>
<circle cx="171.36" cy="282.22" r="1.04" fill="#000000"/>
<circle cx="182.3" cy="288.33" r="1.04" fill="#000000"/>
<circle cx="193.24" cy="291.65" r="1.04" fill="#000000"/>
<circle cx="204.18" cy="292.41" r="1.04" fill="#000000"/>
<circle cx="215.11" cy="294.19" r="1.04" fill="#000000"/>
<circle cx="226.05" cy="295.97" r="1.04" fill="#000000"/>
<circle cx="236.99" cy="298.01" r="1.04" fill="#000000"/>
<circle cx="247.92" cy="300.05" r="1.04" fill="#000000"/>
<circle cx="258.86" cy="301.07" r="1.04" fill="#000000"/>
<circle cx="269.8" cy="302.59" r="1.04" fill="#000000"/>
<path d="M171.36 285.79 L182.3 291.65 L193.24 295.46 L204.18 296.74 L215.11 298.52 L226.05 299.79 L236.99 301.83 L247.92 303.87 L258.86 305.14 L269.8 306.16" fill="none" stroke="#00ff00" stroke-width="1.3" stroke-dasharray="2.5,1,1,1" stroke-linejoin="round"/>
<polygon points="169.28,285.79 173.03,283.71 173.03,287.87" fill="#00ff00"/>
<polygon points="180.22,291.65 183.97,289.57 183.97,293.73" fill="#00ff00"/>
<polygon points="191.16,295.46 194.9,293.38 194.9,297.54" fill="#00ff00"/>
<polygon points="202.1,296.74 205.84,294.66 205.84,298.82" fill="#00ff00"/>
<polygon points="213.03,298.52 216.78,296.44 216.78,300.6" fill="#00ff00"/>
<polygon points="223.97,299.79 227.71,297.71 227.71,301.87" fill="#00ff00"/>
<polygon points="234.91,301.83 238.65,299.75 238.65,303.91" fill="#00ff00"/>
<polygon points="245.84,303.87 249.59,301.79 249.59,305.95" fill="#00ff00"/>
<polygon points="256.78,305.14 260.53,303.06 260.53,307.22" fill="#00ff00"/>
<polygon points="267.72,306.16 271.46,304.08 271.46,308.24" fill="#00ff00"/>
<path d="M171.36 285.79 L182.3 291.65 L193.24 295.46 L204.18 296.74 L215.11 298.52 L226.05 299.79 L236.99 301.83 L247.92 303.87 L258.86 305.14 L269.8 306.16" fill="none" stroke="#00ff00" stroke-width="1.3" stroke-dasharray="1.2,1.2" stroke-linejoin="round"/>
<circle cx="171.36" cy="285.79" r="1.95" fill="#00ff00"/>
<circle cx="182.3" cy="291.65" r="1.95" fill="#00ff00"/>
<circle cx="193.24" cy="295.46" r="1.95" fill="#00ff00"/>
<circle cx="204.18" cy="296.74" r="1.95" fill="#00ff00"/>
<circle cx="215.11" cy="298.52" r="1.95" fill="#00ff00"/>
<circle cx="226.05" cy="299.79" r="1.95" fill="#00ff00"/>
<circle cx="236.99" cy="301.83" r="1.95" fill="#00ff00"/>
<circle cx="247.92" cy="303.87" r="1.95" fill="#00ff00"/>
<circle cx="258.86" cy="305.14" r="1.95" fill="#00ff00"/>
<circle cx="269.8" cy="306.16" r="1.95" fill="#00ff00"/>
<path d="M171.36 294.7 L182.3 305.14 L193.24 308.71 L204.18 310.74 L215.11 311.25 L226.05 311.25 L236.99 312.78 L247.92 313.29 L258.86 313.29 L269.8 313.29" fill="none" stroke="#ff0000" stroke-width="1.5" stroke-linejoin="round"/>
<circle cx="171.36" cy="294.7" r="1.69" fill="#ff0000"/>
<circle cx="182.3" cy="305.14" r="1.69" fill="#ff0000"/>
<circle cx="193.24" cy="308.71" r="1.69" fill="#ff0000"/>
<circle cx="204.18" cy="310.74" r="1.69" fill="#ff0000"/>
<circle cx="215.11" cy="311.25" r="1.69" fill="#ff0000"/>
<circle cx="226.05" cy="311.25" r="1.69" fill="#ff0000"/>
<circle cx="236.99" cy="312.78" r="1.69" fill="#ff0000"/>
<circle cx="247.92" cy="313.29" r="1.69" fill="#ff0000"/>
<circle cx="258.86" cy="313.29" r="1.69" fill="#ff0000"/>
<circle cx="269.8" cy="313.29" r="1.69" fill="#ff0000"/>
<path d="M171.36 306.16 L182.3 309.98 L193.24 314.31 L204.18 315.84 L215.11 316.86 L226.05 318.38 L236.99 320.17 L247.92 322.97 L258.86 326.53 L269.8 330.35" fill="none" stroke="#00ff00" stroke-width="1.5" stroke-linejoin="round"/>
<polygon points="171.36,308.24 169.28,304.5 173.44,304.5" fill="#00ff00"/>
<polygon points="182.3,312.06 180.22,308.32 184.38,308.32" fill="#00ff00"/>
<polygon points="193.24,316.39 191.16,312.64 195.32,312.64" fill="#00ff00"/>
<polygon points="204.18,317.92 202.1,314.17 206.26,314.17" fill="#00ff00"/>
<polygon points="215.11,318.94 213.03,315.19 217.19,315.19" fill="#00ff00"/>
<polygon points="226.05,320.46 223.97,316.72 228.13,316.72" fill="#00ff00"/>
<polygon points="236.99,322.25 234.91,318.5 239.07,318.5" fill="#00ff00"/>
<polygon points="247.92,325.05 245.84,321.3 250,321.3" fill="#00ff00"/>
<polygon points="258.86,328.61 256.78,324.87 260.94,324.87" fill="#00ff00"/>
<polygon points="269.8,332.43 267.72,328.69 271.88,328.69" fill="#00ff00"/>
<path d="M171.36 304.38 L182.3 310.23 L193.24 313.8 L204.18 315.33 L215.11 316.6 L226.05 317.87 L236.99 318.89 L247.92 319.4 L258.86 319.91 L269.8 320.42" fill="none" stroke="#00ffff" stroke-width="1.5" stroke-linejoin="round"/>
<polygon points="173.44,304.38 169.7,302.3 169.7,306.46" fill="#00ffff"/>
<polygon points="184.38,310.23 180.64,308.15 180.64,312.31" fill="#00ffff"/>
<polygon points="195.32,313.8 191.57,311.72 191.57,315.88" fill="#00ffff"/>
<polygon points="206.26,315.33 202.51,313.25 202.51,317.41" fill="#00ffff"/>
<polygon points="217.19,316.6 213.45,314.52 213.45,318.68" fill="#00ffff"/>
<polygon points="228.13,317.87 224.39,315.79 224.39,319.95" fill="#00ffff"/>
<polygon points="239.07,318.89 235.32,316.81 235.32,320.97" fill="#00ffff"/>
<polygon points="250,319.4 246.26,317.32 246.26,321.48" fill="#00ffff"/>
<polygon points="260.94,319.91 257.2,317.83 257.2,321.99" fill="#00ffff"/>
<polygon points="271.88,320.42 268.13,318.34 268.13,322.5" fill="#00ffff"/>
<path d="M171.36 302.59 L182.3 308.2 L193.24 311.25 L204.18 313.04 L215.11 314.31 L226.05 315.84 L236.99 316.86 L247.92 317.62 L258.86 317.87 L269.8 317.87" fill="none" stroke="#0000ff" stroke-width="1.5" stroke-linejoin="round"/>
<circle cx="171.36" cy="302.59" r="1.04" fill="#0000ff"/>
<circle cx="182.3" cy="308.2" r="1.04" fill="#0000ff"/>
<circle cx="193.24" cy="311.25" r="1.04" fill="#0000ff"/>
<circle cx="204.18" cy="313.04" r="1.04" fill="#0000ff"/>
<circle cx="215.11" cy="314.31" r="1.04" fill="#0000ff"/>
<circle cx="226.05" cy="315.84" r="1.04" fill="#0000ff"/>
<circle cx="236.99" cy="316.86" r="1.04" fill="#0000ff"/>
<circle cx="247.92" cy="317.62" r="1.04" fill="#0000ff"/>
<circle cx="258.86" cy="317.87" r="1.04" fill="#0000ff"/>
<circle cx="269.8" cy="317.87" r="1.04" fill="#0000ff"/>
<path d="M171.36 317.11 L182.3 338.25 L193.24 347.16 L204.18 348.43 L215.11 364.98 L226.05 370.59 L236.99 379.5 L247.92 380.26 L258.86 380.77 L269.8 381.54" fill="none" stroke="#ff00ff" stroke-width="1.5" stroke-linejoin="round"/>
<polygon points="171.36,315.03 169.28,318.77 173.44,318.77" fill="#ff00ff"/>
<polygon points="182.3,336.17 180.22,339.91 184.38,339.91" fill="#ff00ff"/>
<polygon points="193.24,345.08 191.16,348.82 195.32,348.82" fill="#ff00ff"/>
<polygon points="204.18,346.35 202.1,350.1 206.26,350.1" fill="#ff00ff"/>
<polygon points="215.11,362.9 213.03,366.65 217.19,366.65" fill="#ff00ff"/>
<polygon points="226.05,368.51 223.97,372.25 228.13,372.25" fill="#ff00ff"/>
<polygon points="236.99,377.42 234.91,381.16 239.07,381.16" fill="#ff00ff"/>
<polygon points="247.92,378.18 245.84,381.93 250,381.93" fill="#ff00ff"/>
<polygon points="258.86,378.69 256.78,382.44 260.94,382.44" fill="#ff00ff"/>
<polygon points="269.8,379.46 267.72,383.2 271.88,383.2" fill="#ff00ff"/>
</g>
<text x="160.43" y="389.14" font-size="5.6" text-anchor="middle" fill="#333">0</text>
<text x="182.3" y="389.14" font-size="5.6" text-anchor="middle" fill="#333">1</text>
<text x="204.18" y="389.14" font-size="5.6" text-anchor="middle" fill="#333">2</text>
<text x="226.05" y="389.14" font-size="5.6" text-anchor="middle" fill="#333">3</text>
<text x="247.92" y="389.14" font-size="5.6" text-anchor="middle" fill="#333">4</text>
<text x="269.8" y="389.14" font-size="5.6" text-anchor="middle" fill="#333">5</text>
<text x="158.83" y="301.89" font-size="5.6" text-anchor="end" fill="#333">9.45</text>
<text x="158.83" y="319.97" font-size="5.6" text-anchor="end" fill="#333">9.4</text>
<text x="158.83" y="338.31" font-size="5.6" text-anchor="end" fill="#333">9.35</text>
<text x="158.83" y="356.13" font-size="5.6" text-anchor="end" fill="#333">9.3</text>
<text x="158.83" y="375.23" font-size="5.6" text-anchor="end" fill="#333">9.25</text>
<text x="167.08" y="282.07" font-size="5.6" text-anchor="middle" fill="#333">×10<tspan font-size="4.2" dy="-2.1">7</tspan></text>
<text x="214.9" y="279.6" font-size="6.3" text-anchor="middle" textLength="30.1" lengthAdjust="spacingAndGlyphs" fill="#222">Function 10</text>
<text x="214.9" y="395.1" font-size="6.3" text-anchor="middle" textLength="49.5" lengthAdjust="spacingAndGlyphs" fill="#333">Fitness Evaluations</text>
<text x="262.38" y="396.48" font-size="5.0" text-anchor="middle" fill="#333">×10<tspan font-size="3.8" dy="-2.0">4</tspan></text>
<text transform="translate(147.2 331.5) rotate(-90)" font-size="5.5" text-anchor="middle" textLength="53" lengthAdjust="spacingAndGlyphs" fill="#333">Averaged Fitness Value</text>
<text x="206" y="407.7" font-size="7.4" text-anchor="middle" textLength="13.7" lengthAdjust="spacingAndGlyphs" fill="#222">(j)<tspan font-style="italic">F</tspan><tspan font-size="4.6">10</tspan></text>
<rect x="226.64" y="284.77" width="41" height="53" fill="none" stroke="#c8c8c8" stroke-width="0.5"/>
<line x1="227.44" y1="287.57" x2="236.44" y2="287.57" stroke="#000000" stroke-width="1.8"/>
<polygon points="231.74,284.45 232.5,286.52 234.7,286.61 232.97,287.97 233.57,290.09 231.74,288.87 229.9,290.09 230.5,287.97 228.77,286.61 230.97,286.52" fill="#000000"/>
<text x="236.54" y="289.42" font-size="5.4" fill="#333">DGCELSO</text>
<line x1="227.44" y1="292.75" x2="236.44" y2="292.75" stroke="#ff0000" stroke-width="1.8"/>
<circle cx="231.74" cy="292.75" r="1.69" fill="#ff0000"/>
<text x="236.54" y="294.6" font-size="5.4" fill="#333">TPLSO</text>
<line x1="227.44" y1="297.93" x2="236.44" y2="297.93" stroke="#00ff00" stroke-width="1.8"/>
<polygon points="231.74,300.01 229.66,296.27 233.82,296.27" fill="#00ff00"/>
<text x="236.54" y="299.78" font-size="5.4" fill="#333">SPLSO</text>
<line x1="227.44" y1="303.11" x2="236.44" y2="303.11" stroke="#0000ff" stroke-width="1.8"/>
<circle cx="231.74" cy="303.11" r="1.04" fill="#0000ff"/>
<text x="236.54" y="304.96" font-size="5.4" fill="#333">LLSO</text>
<line x1="227.44" y1="308.29" x2="236.44" y2="308.29" stroke="#00ffff" stroke-width="1.8"/>
<polygon points="233.82,308.29 230.07,306.21 230.07,310.37" fill="#00ffff"/>
<text x="236.54" y="310.14" font-size="5.4" fill="#333">CNO</text>
<line x1="227.44" y1="313.47" x2="236.44" y2="313.47" stroke="#ff00ff" stroke-width="1.8"/>
<polygon points="231.74,311.39 229.66,315.13 233.82,315.13" fill="#ff00ff"/>
<text x="236.54" y="315.32" font-size="5.4" fill="#333">SLPSO</text>
<line x1="227.44" y1="318.65" x2="236.44" y2="318.65" stroke="#ff0000" stroke-width="1.6" stroke-dasharray="1.2,1.2"/>
<circle cx="231.74" cy="318.65" r="1.3" fill="#ff0000"/>
<text x="236.54" y="320.5" font-size="5.4" fill="#333">DECC-DG</text>
<line x1="227.44" y1="323.83" x2="236.44" y2="323.83" stroke="#00ff00" stroke-width="1.6" stroke-dasharray="2.5,1,1,1"/>
<polygon points="229.66,323.83 233.4,321.75 233.4,325.91" fill="#00ff00"/>
<text x="236.54" y="325.68" font-size="5.4" fill="#333">DECC-GDG</text>
<line x1="227.44" y1="329.01" x2="236.44" y2="329.01" stroke="#000000" stroke-width="1.6" stroke-dasharray="2.5,1,1,1"/>
<circle cx="231.74" cy="329.01" r="1.04" fill="#000000"/>
<text x="236.54" y="330.86" font-size="5.4" fill="#333">DECC-RDG</text>
<line x1="227.44" y1="334.19" x2="236.44" y2="334.19" stroke="#00ff00" stroke-width="1.6" stroke-dasharray="1.2,1.2"/>
<circle cx="231.74" cy="334.19" r="1.95" fill="#00ff00"/>
<text x="236.54" y="336.04" font-size="5.4" fill="#333">DECC-RDG2</text>
<line x1="317.09" y1="282.73" x2="317.09" y2="382.04" stroke="#dedede" stroke-width="0.5"/>
<line x1="338.78" y1="282.73" x2="338.78" y2="382.04" stroke="#dedede" stroke-width="0.5"/>
<line x1="360.48" y1="282.73" x2="360.48" y2="382.04" stroke="#dedede" stroke-width="0.5"/>
<line x1="382.17" y1="282.73" x2="382.17" y2="382.04" stroke="#dedede" stroke-width="0.5"/>
<line x1="295.39" y1="302.34" x2="403.87" y2="302.34" stroke="#dedede" stroke-width="0.5"/>
<line x1="295.39" y1="322.2" x2="403.87" y2="322.2" stroke="#dedede" stroke-width="0.5"/>
<line x1="295.39" y1="342.57" x2="403.87" y2="342.57" stroke="#dedede" stroke-width="0.5"/>
<line x1="295.39" y1="362.18" x2="403.87" y2="362.18" stroke="#dedede" stroke-width="0.5"/>
<rect x="295.39" y="282.73" width="108.48" height="99.31" fill="none" stroke="#b4b4b4" stroke-width="0.8"/>
<clipPath id="c10"><rect x="294.39" y="281.23" width="110.48" height="102.31"/></clipPath>
<g clip-path="url(#c10)">
<path d="M306.24 282.73 L317.09 282.73 L327.93 282.73 L338.78 282.73 L349.63 282.73 L360.48 282.73 L371.33 282.73 L382.17 282.73 L393.02 282.73 L403.87 282.73" fill="none" stroke="#00ff00" stroke-width="1.5" stroke-linejoin="round"/>
<polygon points="306.24,284.81 304.16,281.07 308.32,281.07" fill="#00ff00"/>
<polygon points="317.09,284.81 315.01,281.07 319.17,281.07" fill="#00ff00"/>
<polygon points="327.93,284.81 325.85,281.07 330.01,281.07" fill="#00ff00"/>
<polygon points="338.78,284.81 336.7,281.07 340.86,281.07" fill="#00ff00"/>
<polygon points="349.63,284.81 347.55,281.07 351.71,281.07" fill="#00ff00"/>
<polygon points="360.48,284.81 358.4,281.07 362.56,281.07" fill="#00ff00"/>
<polygon points="371.33,284.81 369.25,281.07 373.41,281.07" fill="#00ff00"/>
<polygon points="382.17,284.81 380.09,281.07 384.25,281.07" fill="#00ff00"/>
<polygon points="393.02,284.81 390.94,281.07 395.1,281.07" fill="#00ff00"/>
<polygon points="403.87,284.81 401.79,281.07 405.95,281.07" fill="#00ff00"/>
<path d="M306.24 282.73 L317.09 282.73 L327.93 282.73 L338.78 282.73 L349.63 282.73 L360.48 282.73 L371.33 282.73 L382.17 282.73 L393.02 282.73 L403.87 282.73" fill="none" stroke="#0000ff" stroke-width="1.5" stroke-linejoin="round"/>
<circle cx="306.24" cy="282.73" r="1.04" fill="#0000ff"/>
<circle cx="317.09" cy="282.73" r="1.04" fill="#0000ff"/>
<circle cx="327.93" cy="282.73" r="1.04" fill="#0000ff"/>
<circle cx="338.78" cy="282.73" r="1.04" fill="#0000ff"/>
<circle cx="349.63" cy="282.73" r="1.04" fill="#0000ff"/>
<circle cx="360.48" cy="282.73" r="1.04" fill="#0000ff"/>
<circle cx="371.33" cy="282.73" r="1.04" fill="#0000ff"/>
<circle cx="382.17" cy="282.73" r="1.04" fill="#0000ff"/>
<circle cx="393.02" cy="282.73" r="1.04" fill="#0000ff"/>
<circle cx="403.87" cy="282.73" r="1.04" fill="#0000ff"/>
<path d="M306.24 282.73 L317.09 282.73 L327.93 282.73 L338.78 282.73 L349.63 282.73 L360.48 282.73 L371.33 282.73 L382.17 282.73 L393.02 282.73 L403.87 282.73" fill="none" stroke="#00ffff" stroke-width="1.5" stroke-linejoin="round"/>
<polygon points="308.32,282.73 304.57,280.65 304.57,284.81" fill="#00ffff"/>
<polygon points="319.17,282.73 315.42,280.65 315.42,284.81" fill="#00ffff"/>
<polygon points="330.01,282.73 326.27,280.65 326.27,284.81" fill="#00ffff"/>
<polygon points="340.86,282.73 337.12,280.65 337.12,284.81" fill="#00ffff"/>
<polygon points="351.71,282.73 347.97,280.65 347.97,284.81" fill="#00ffff"/>
<polygon points="362.56,282.73 358.81,280.65 358.81,284.81" fill="#00ffff"/>
<polygon points="373.41,282.73 369.66,280.65 369.66,284.81" fill="#00ffff"/>
<polygon points="384.25,282.73 380.51,280.65 380.51,284.81" fill="#00ffff"/>
<polygon points="395.1,282.73 391.36,280.65 391.36,284.81" fill="#00ffff"/>
<polygon points="405.95,282.73 402.21,280.65 402.21,284.81" fill="#00ffff"/>
<path d="M306.24 282.73 L317.09 282.73 L327.93 282.73 L338.78 282.73 L349.63 282.73 L360.48 282.73 L371.33 282.73 L382.17 282.73 L393.02 282.73 L403.87 282.73" fill="none" stroke="#00ff00" stroke-width="1.3" stroke-dasharray="2.5,1,1,1" stroke-linejoin="round"/>
<polygon points="304.16,282.73 307.9,280.65 307.9,284.81" fill="#00ff00"/>
<polygon points="315.01,282.73 318.75,280.65 318.75,284.81" fill="#00ff00"/>
<polygon points="325.85,282.73 329.6,280.65 329.6,284.81" fill="#00ff00"/>
<polygon points="336.7,282.73 340.45,280.65 340.45,284.81" fill="#00ff00"/>
<polygon points="347.55,282.73 351.29,280.65 351.29,284.81" fill="#00ff00"/>
<polygon points="358.4,282.73 362.14,280.65 362.14,284.81" fill="#00ff00"/>
<polygon points="369.25,282.73 372.99,280.65 372.99,284.81" fill="#00ff00"/>
<polygon points="380.09,282.73 383.84,280.65 383.84,284.81" fill="#00ff00"/>
<polygon points="390.94,282.73 394.69,280.65 394.69,284.81" fill="#00ff00"/>
<polygon points="401.79,282.73 405.53,280.65 405.53,284.81" fill="#00ff00"/>
<path d="M306.24 282.73 L317.09 282.73 L327.93 282.73 L338.78 282.73 L349.63 282.73 L360.48 282.73 L371.33 282.73 L382.17 282.73 L393.02 282.73 L403.87 282.73" fill="none" stroke="#ff00ff" stroke-width="1.5" stroke-linejoin="round"/>
<polygon points="306.24,280.65 304.16,284.4 308.32,284.4" fill="#ff00ff"/>
<polygon points="317.09,280.65 315.01,284.4 319.17,284.4" fill="#ff00ff"/>
<polygon points="327.93,280.65 325.85,284.4 330.01,284.4" fill="#ff00ff"/>
<polygon points="338.78,280.65 336.7,284.4 340.86,284.4" fill="#ff00ff"/>
<polygon points="349.63,280.65 347.55,284.4 351.71,284.4" fill="#ff00ff"/>
<polygon points="360.48,280.65 358.4,284.4 362.56,284.4" fill="#ff00ff"/>
<polygon points="371.33,280.65 369.25,284.4 373.41,284.4" fill="#ff00ff"/>
<polygon points="382.17,280.65 380.09,284.4 384.25,284.4" fill="#ff00ff"/>
<polygon points="393.02,280.65 390.94,284.4 395.1,284.4" fill="#ff00ff"/>
<polygon points="403.87,280.65 401.79,284.4 405.95,284.4" fill="#ff00ff"/>
<path d="M306.24 294.7 L317.09 301.32 L327.93 306.41 L338.78 310.74 L349.63 315.07 L360.48 318.89 L371.33 322.71 L382.17 326.53 L393.02 331.12 L403.87 334.94" fill="none" stroke="#00ff00" stroke-width="1.3" stroke-dasharray="1.2,1.2" stroke-linejoin="round"/>
<circle cx="306.24" cy="294.7" r="1.95" fill="#00ff00"/>
<circle cx="317.09" cy="301.32" r="1.95" fill="#00ff00"/>
<circle cx="327.93" cy="306.41" r="1.95" fill="#00ff00"/>
<circle cx="338.78" cy="310.74" r="1.95" fill="#00ff00"/>
<circle cx="349.63" cy="315.07" r="1.95" fill="#00ff00"/>
<circle cx="360.48" cy="318.89" r="1.95" fill="#00ff00"/>
<circle cx="371.33" cy="322.71" r="1.95" fill="#00ff00"/>
<circle cx="382.17" cy="326.53" r="1.95" fill="#00ff00"/>
<circle cx="393.02" cy="331.12" r="1.95" fill="#00ff00"/>
<circle cx="403.87" cy="334.94" r="1.95" fill="#00ff00"/>
<path d="M317.09 320.17 L327.93 335.7 L338.78 340.03 L349.63 343.85 L360.48 345.88 L371.33 347.67 L382.17 348.94 L393.02 350.21 L403.87 351.49" fill="none" stroke="#ff0000" stroke-width="1.3" stroke-dasharray="1.2,1.2" stroke-linejoin="round"/>
<circle cx="317.09" cy="320.17" r="1.3" fill="#ff0000"/>
<circle cx="327.93" cy="335.7" r="1.3" fill="#ff0000"/>
<circle cx="338.78" cy="340.03" r="1.3" fill="#ff0000"/>
<circle cx="349.63" cy="343.85" r="1.3" fill="#ff0000"/>
<circle cx="360.48" cy="345.88" r="1.3" fill="#ff0000"/>
<circle cx="371.33" cy="347.67" r="1.3" fill="#ff0000"/>
<circle cx="382.17" cy="348.94" r="1.3" fill="#ff0000"/>
<circle cx="393.02" cy="350.21" r="1.3" fill="#ff0000"/>
<circle cx="403.87" cy="351.49" r="1.3" fill="#ff0000"/>
<path d="M306.24 318.38 L317.09 334.43 L327.93 340.03 L338.78 343.85 L349.63 345.88 L360.48 347.16 L371.33 348.94 L382.17 350.21 L393.02 351.49 L403.87 352.25" fill="none" stroke="#000000" stroke-width="1.3" stroke-dasharray="2.5,1,1,1" stroke-linejoin="round"/>
<circle cx="306.24" cy="318.38" r="1.04" fill="#000000"/>
<circle cx="317.09" cy="334.43" r="1.04" fill="#000000"/>
<circle cx="327.93" cy="340.03" r="1.04" fill="#000000"/>
<circle cx="338.78" cy="343.85" r="1.04" fill="#000000"/>
<circle cx="349.63" cy="345.88" r="1.04" fill="#000000"/>
<circle cx="360.48" cy="347.16" r="1.04" fill="#000000"/>
<circle cx="371.33" cy="348.94" r="1.04" fill="#000000"/>
<circle cx="382.17" cy="350.21" r="1.04" fill="#000000"/>
<circle cx="393.02" cy="351.49" r="1.04" fill="#000000"/>
<circle cx="403.87" cy="352.25" r="1.04" fill="#000000"/>
<path d="M306.24 326.02 L317.09 340.03 L327.93 348.94 L338.78 351.49 L349.63 354.03 L360.48 356.58 L371.33 359.13 L382.17 361.67 L393.02 364.22 L403.87 366.77" fill="none" stroke="#ff0000" stroke-width="1.5" stroke-linejoin="round"/>
<circle cx="306.24" cy="326.02" r="1.69" fill="#ff0000"/>
<circle cx="317.09" cy="340.03" r="1.69" fill="#ff0000"/>
<circle cx="327.93" cy="348.94" r="1.69" fill="#ff0000"/>
<circle cx="338.78" cy="351.49" r="1.69" fill="#ff0000"/>
<circle cx="349.63" cy="354.03" r="1.69" fill="#ff0000"/>
<circle cx="360.48" cy="356.58" r="1.69" fill="#ff0000"/>
<circle cx="371.33" cy="359.13" r="1.69" fill="#ff0000"/>
<circle cx="382.17" cy="361.67" r="1.69" fill="#ff0000"/>
<circle cx="393.02" cy="364.22" r="1.69" fill="#ff0000"/>
<circle cx="403.87" cy="366.77" r="1.69" fill="#ff0000"/>
<path d="M306.24 318.38 L317.09 343.85 L327.93 350.98 L338.78 355.31 L349.63 359.64 L360.48 363.46 L371.33 367.28 L382.17 371.86 L393.02 376.44 L403.87 381.54" fill="none" stroke="#000000" stroke-width="1.5" stroke-linejoin="round"/>
<polygon points="306.24,315.26 307,317.33 309.21,317.42 307.47,318.78 308.07,320.91 306.24,319.68 304.4,320.91 305,318.78 303.27,317.42 305.47,317.33" fill="#000000"/>
<polygon points="317.09,340.73 317.85,342.8 320.05,342.88 318.32,344.25 318.92,346.37 317.09,345.15 315.25,346.37 315.85,344.25 314.12,342.88 316.32,342.8" fill="#000000"/>
<polygon points="327.93,347.86 328.7,349.93 330.9,350.01 329.17,351.38 329.77,353.5 327.93,352.28 326.1,353.5 326.7,351.38 324.97,350.01 327.17,349.93" fill="#000000"/>
<polygon points="338.78,352.19 339.55,354.26 341.75,354.34 340.02,355.71 340.62,357.83 338.78,356.61 336.95,357.83 337.55,355.71 335.81,354.34 338.02,354.26" fill="#000000"/>
<polygon points="349.63,356.52 350.39,358.58 352.6,358.67 350.87,360.04 351.46,362.16 349.63,360.94 347.8,362.16 348.39,360.04 346.66,358.67 348.87,358.58" fill="#000000"/>
<polygon points="360.48,360.34 361.24,362.4 363.45,362.49 361.71,363.86 362.31,365.98 360.48,364.76 358.64,365.98 359.24,363.86 357.51,362.49 359.71,362.4" fill="#000000"/>
<polygon points="371.33,364.16 372.09,366.22 374.29,366.31 372.56,367.68 373.16,369.8 371.33,368.58 369.49,369.8 370.09,367.68 368.36,366.31 370.56,366.22" fill="#000000"/>
<polygon points="382.17,368.74 382.94,370.81 385.14,370.89 383.41,372.26 384.01,374.38 382.17,373.16 380.34,374.38 380.94,372.26 379.21,370.89 381.41,370.81" fill="#000000"/>
<polygon points="393.02,373.32 393.79,375.39 395.99,375.48 394.26,376.84 394.86,378.97 393.02,377.74 391.19,378.97 391.79,376.84 390.05,375.48 392.26,375.39" fill="#000000"/>
<polygon points="403.87,378.42 404.63,380.48 406.84,380.57 405.11,381.94 405.7,384.06 403.87,382.84 402.04,384.06 402.63,381.94 400.9,380.57 403.11,380.48" fill="#000000"/>
</g>
<text x="295.39" y="389.14" font-size="5.6" text-anchor="middle" fill="#333">0</text>
<text x="317.09" y="389.14" font-size="5.6" text-anchor="middle" fill="#333">1</text>
<text x="338.78" y="389.14" font-size="5.6" text-anchor="middle" fill="#333">2</text>
<text x="360.48" y="389.14" font-size="5.6" text-anchor="middle" fill="#333">3</text>
<text x="382.17" y="389.14" font-size="5.6" text-anchor="middle" fill="#333">4</text>
<text x="403.87" y="389.14" font-size="5.6" text-anchor="middle" fill="#333">5</text>
<text x="294.19" y="285.43" font-size="5.6" text-anchor="end" fill="#333">10<tspan font-size="4.3" dy="-2.2">12</tspan></text>
<text x="294.19" y="305.04" font-size="5.6" text-anchor="end" fill="#333">10<tspan font-size="4.3" dy="-2.2">11</tspan></text>
<text x="294.19" y="324.9" font-size="5.6" text-anchor="end" fill="#333">10<tspan font-size="4.3" dy="-2.2">10</tspan></text>
<text x="294.19" y="345.27" font-size="5.6" text-anchor="end" fill="#333">10<tspan font-size="4.3" dy="-2.2">9</tspan></text>
<text x="294.19" y="364.88" font-size="5.6" text-anchor="end" fill="#333">10<tspan font-size="4.3" dy="-2.2">8</tspan></text>
<text x="294.19" y="384.74" font-size="5.6" text-anchor="end" fill="#333">10<tspan font-size="4.3" dy="-2.2">7</tspan></text>
<text x="348.8" y="279.6" font-size="6.3" text-anchor="middle" textLength="29" lengthAdjust="spacingAndGlyphs" fill="#222">Function 11</text>
<text x="349.5" y="395.1" font-size="6.3" text-anchor="middle" textLength="49.5" lengthAdjust="spacingAndGlyphs" fill="#333">Fitness Evaluations</text>
<text x="399.38" y="396.48" font-size="5.0" text-anchor="middle" fill="#333">×10<tspan font-size="3.8" dy="-2.0">4</tspan></text>
<text transform="translate(280.8 333) rotate(-90)" font-size="5.5" text-anchor="middle" textLength="52" lengthAdjust="spacingAndGlyphs" fill="#333">Averaged Fitness Value</text>
<text x="339.9" y="407.7" font-size="7.4" text-anchor="middle" textLength="14.7" lengthAdjust="spacingAndGlyphs" fill="#222">(k)<tspan font-style="italic">F</tspan><tspan font-size="4.6">11</tspan></text>
<rect x="360.58" y="284.77" width="41" height="53" fill="none" stroke="#c8c8c8" stroke-width="0.5"/>
<line x1="361.38" y1="287.57" x2="370.38" y2="287.57" stroke="#000000" stroke-width="1.8"/>
<polygon points="365.68,284.45 366.44,286.52 368.65,286.61 366.92,287.97 367.51,290.09 365.68,288.87 363.85,290.09 364.44,287.97 362.71,286.61 364.92,286.52" fill="#000000"/>
<text x="370.48" y="289.42" font-size="5.4" fill="#333">DGCELSO</text>
<line x1="361.38" y1="292.75" x2="370.38" y2="292.75" stroke="#ff0000" stroke-width="1.8"/>
<circle cx="365.68" cy="292.75" r="1.69" fill="#ff0000"/>
<text x="370.48" y="294.6" font-size="5.4" fill="#333">TPLSO</text>
<line x1="361.38" y1="297.93" x2="370.38" y2="297.93" stroke="#00ff00" stroke-width="1.8"/>
<polygon points="365.68,300.01 363.6,296.27 367.76,296.27" fill="#00ff00"/>
<text x="370.48" y="299.78" font-size="5.4" fill="#333">SPLSO</text>
<line x1="361.38" y1="303.11" x2="370.38" y2="303.11" stroke="#0000ff" stroke-width="1.8"/>
<circle cx="365.68" cy="303.11" r="1.04" fill="#0000ff"/>
<text x="370.48" y="304.96" font-size="5.4" fill="#333">LLSO</text>
<line x1="361.38" y1="308.29" x2="370.38" y2="308.29" stroke="#00ffff" stroke-width="1.8"/>
<polygon points="367.76,308.29 364.02,306.21 364.02,310.37" fill="#00ffff"/>
<text x="370.48" y="310.14" font-size="5.4" fill="#333">CNO</text>
<line x1="361.38" y1="313.47" x2="370.38" y2="313.47" stroke="#ff00ff" stroke-width="1.8"/>
<polygon points="365.68,311.39 363.6,315.13 367.76,315.13" fill="#ff00ff"/>
<text x="370.48" y="315.32" font-size="5.4" fill="#333">SLPSO</text>
<line x1="361.38" y1="318.65" x2="370.38" y2="318.65" stroke="#ff0000" stroke-width="1.6" stroke-dasharray="1.2,1.2"/>
<circle cx="365.68" cy="318.65" r="1.3" fill="#ff0000"/>
<text x="370.48" y="320.5" font-size="5.4" fill="#333">DECC-DG</text>
<line x1="361.38" y1="323.83" x2="370.38" y2="323.83" stroke="#00ff00" stroke-width="1.6" stroke-dasharray="2.5,1,1,1"/>
<polygon points="363.6,323.83 367.34,321.75 367.34,325.91" fill="#00ff00"/>
<text x="370.48" y="325.68" font-size="5.4" fill="#333">DECC-GDG</text>
<line x1="361.38" y1="329.01" x2="370.38" y2="329.01" stroke="#000000" stroke-width="1.6" stroke-dasharray="2.5,1,1,1"/>
<circle cx="365.68" cy="329.01" r="1.04" fill="#000000"/>
<text x="370.48" y="330.86" font-size="5.4" fill="#333">DECC-RDG</text>
<line x1="361.38" y1="334.19" x2="370.38" y2="334.19" stroke="#00ff00" stroke-width="1.6" stroke-dasharray="1.2,1.2"/>
<circle cx="365.68" cy="334.19" r="1.95" fill="#00ff00"/>
<text x="370.48" y="336.04" font-size="5.4" fill="#333">DECC-RDG2</text>
<line x1="451.03" y1="282.22" x2="451.03" y2="382.04" stroke="#dedede" stroke-width="0.5"/>
<line x1="472.73" y1="282.22" x2="472.73" y2="382.04" stroke="#dedede" stroke-width="0.5"/>
<line x1="494.42" y1="282.22" x2="494.42" y2="382.04" stroke="#dedede" stroke-width="0.5"/>
<line x1="516.12" y1="282.22" x2="516.12" y2="382.04" stroke="#dedede" stroke-width="0.5"/>
<line x1="429.33" y1="306.92" x2="537.81" y2="306.92" stroke="#dedede" stroke-width="0.5"/>
<line x1="429.33" y1="332.39" x2="537.81" y2="332.39" stroke="#dedede" stroke-width="0.5"/>
<line x1="429.33" y1="357.34" x2="537.81" y2="357.34" stroke="#dedede" stroke-width="0.5"/>
<rect x="429.33" y="282.22" width="108.48" height="99.82" fill="none" stroke="#b4b4b4" stroke-width="0.8"/>
<clipPath id="c11"><rect x="428.33" y="280.72" width="110.48" height="102.82"/></clipPath>
<g clip-path="url(#c11)">
<path d="M440.18 367.53 L451.03 368.8 L461.88 369.06 L472.73 369.06 L483.57 369.06 L494.42 369.06 L505.27 369.06 L516.12 369.06 L526.97 369.06 L537.81 369.06" fill="none" stroke="#000000" stroke-width="1.5" stroke-linejoin="round"/>
<polygon points="440.18,364.41 440.95,366.48 443.15,366.57 441.42,367.93 442.02,370.05 440.18,368.83 438.35,370.05 438.95,367.93 437.22,366.57 439.42,366.48" fill="#000000"/>
<polygon points="451.03,365.68 451.79,367.75 454,367.84 452.27,369.2 452.86,371.33 451.03,370.1 449.2,371.33 449.79,369.2 448.06,367.84 450.27,367.75" fill="#000000"/>
<polygon points="461.88,365.94 462.64,368.01 464.85,368.09 463.11,369.46 463.71,371.58 461.88,370.36 460.04,371.58 460.64,369.46 458.91,368.09 461.11,368.01" fill="#000000"/>
<polygon points="472.73,365.94 473.49,368.01 475.69,368.09 473.96,369.46 474.56,371.58 472.73,370.36 470.89,371.58 471.49,369.46 469.76,368.09 471.96,368.01" fill="#000000"/>
<polygon points="483.57,365.94 484.34,368.01 486.54,368.09 484.81,369.46 485.41,371.58 483.57,370.36 481.74,371.58 482.34,369.46 480.61,368.09 482.81,368.01" fill="#000000"/>
<polygon points="494.42,365.94 495.19,368.01 497.39,368.09 495.66,369.46 496.26,371.58 494.42,370.36 492.59,371.58 493.19,369.46 491.46,368.09 493.66,368.01" fill="#000000"/>
<polygon points="505.27,365.94 506.03,368.01 508.24,368.09 506.51,369.46 507.1,371.58 505.27,370.36 503.44,371.58 504.03,369.46 502.3,368.09 504.51,368.01" fill="#000000"/>
<polygon points="516.12,365.94 516.88,368.01 519.09,368.09 517.35,369.46 517.95,371.58 516.12,370.36 514.28,371.58 514.88,369.46 513.15,368.09 515.35,368.01" fill="#000000"/>
<polygon points="526.97,365.94 527.73,368.01 529.93,368.09 528.2,369.46 528.8,371.58 526.97,370.36 525.13,371.58 525.73,369.46 524,368.09 526.2,368.01" fill="#000000"/>
<polygon points="537.81,365.94 538.58,368.01 540.78,368.09 539.05,369.46 539.65,371.58 537.81,370.36 535.98,371.58 536.58,369.46 534.85,368.09 537.05,368.01" fill="#000000"/>
<path d="M451.03 289.86 L461.88 317.11 L472.73 340.79 L483.57 349.96 L494.42 359.89 L505.27 362.18 L516.12 362.95 L526.97 363.46 L537.81 363.71" fill="none" stroke="#ff0000" stroke-width="1.3" stroke-dasharray="1.2,1.2" stroke-linejoin="round"/>
<circle cx="451.03" cy="289.86" r="1.3" fill="#ff0000"/>
<circle cx="461.88" cy="317.11" r="1.3" fill="#ff0000"/>
<circle cx="472.73" cy="340.79" r="1.3" fill="#ff0000"/>
<circle cx="483.57" cy="349.96" r="1.3" fill="#ff0000"/>
<circle cx="494.42" cy="359.89" r="1.3" fill="#ff0000"/>
<circle cx="505.27" cy="362.18" r="1.3" fill="#ff0000"/>
<circle cx="516.12" cy="362.95" r="1.3" fill="#ff0000"/>
<circle cx="526.97" cy="363.46" r="1.3" fill="#ff0000"/>
<circle cx="537.81" cy="363.71" r="1.3" fill="#ff0000"/>
<path d="M440.18 287.32 L451.03 315.84 L461.88 340.03 L472.73 354.8 L483.57 359.64 L494.42 361.16 L505.27 362.18 L516.12 362.95 L526.97 363.46 L537.81 363.71" fill="none" stroke="#00ff00" stroke-width="1.3" stroke-dasharray="2.5,1,1,1" stroke-linejoin="round"/>
<polygon points="438.1,287.32 441.85,285.24 441.85,289.4" fill="#00ff00"/>
<polygon points="448.95,315.84 452.69,313.76 452.69,317.92" fill="#00ff00"/>
<polygon points="459.8,340.03 463.54,337.95 463.54,342.11" fill="#00ff00"/>
<polygon points="470.65,354.8 474.39,352.72 474.39,356.88" fill="#00ff00"/>
<polygon points="481.49,359.64 485.24,357.56 485.24,361.72" fill="#00ff00"/>
<polygon points="492.34,361.16 496.09,359.08 496.09,363.24" fill="#00ff00"/>
<polygon points="503.19,362.18 506.93,360.1 506.93,364.26" fill="#00ff00"/>
<polygon points="514.04,362.95 517.78,360.87 517.78,365.03" fill="#00ff00"/>
<polygon points="524.89,363.46 528.63,361.38 528.63,365.54" fill="#00ff00"/>
<polygon points="535.73,363.71 539.48,361.63 539.48,365.79" fill="#00ff00"/>
<path d="M440.18 287.32 L451.03 315.84 L461.88 340.03 L472.73 354.8 L483.57 359.64 L494.42 361.16 L505.27 362.18 L516.12 362.95 L526.97 363.46 L537.81 363.71" fill="none" stroke="#000000" stroke-width="1.3" stroke-dasharray="2.5,1,1,1" stroke-linejoin="round"/>
<circle cx="440.18" cy="287.32" r="1.04" fill="#000000"/>
<circle cx="451.03" cy="315.84" r="1.04" fill="#000000"/>
<circle cx="461.88" cy="340.03" r="1.04" fill="#000000"/>
<circle cx="472.73" cy="354.8" r="1.04" fill="#000000"/>
<circle cx="483.57" cy="359.64" r="1.04" fill="#000000"/>
<circle cx="494.42" cy="361.16" r="1.04" fill="#000000"/>
<circle cx="505.27" cy="362.18" r="1.04" fill="#000000"/>
<circle cx="516.12" cy="362.95" r="1.04" fill="#000000"/>
<circle cx="526.97" cy="363.46" r="1.04" fill="#000000"/>
<circle cx="537.81" cy="363.71" r="1.04" fill="#000000"/>
<path d="M440.18 287.32 L451.03 315.84 L461.88 340.03 L472.73 354.8 L483.57 359.64 L494.42 361.16 L505.27 362.18 L516.12 362.95 L526.97 363.46 L537.81 363.71" fill="none" stroke="#00ff00" stroke-width="1.3" stroke-dasharray="1.2,1.2" stroke-linejoin="round"/>
<circle cx="440.18" cy="287.32" r="1.95" fill="#00ff00"/>
<circle cx="451.03" cy="315.84" r="1.95" fill="#00ff00"/>
<circle cx="461.88" cy="340.03" r="1.95" fill="#00ff00"/>
<circle cx="472.73" cy="354.8" r="1.95" fill="#00ff00"/>
<circle cx="483.57" cy="359.64" r="1.95" fill="#00ff00"/>
<circle cx="494.42" cy="361.16" r="1.95" fill="#00ff00"/>
<circle cx="505.27" cy="362.18" r="1.95" fill="#00ff00"/>
<circle cx="516.12" cy="362.95" r="1.95" fill="#00ff00"/>
<circle cx="526.97" cy="363.46" r="1.95" fill="#00ff00"/>
<circle cx="537.81" cy="363.71" r="1.95" fill="#00ff00"/>
<path d="M440.18 352 L451.03 361.67 L461.88 365.24 L472.73 365.49 L483.57 365.75 L494.42 365.75 L505.27 365.75 L516.12 365.75 L526.97 365.75 L537.81 365.75" fill="none" stroke="#ff0000" stroke-width="1.5" stroke-linejoin="round"/>
<circle cx="440.18" cy="352" r="1.69" fill="#ff0000"/>
<circle cx="451.03" cy="361.67" r="1.69" fill="#ff0000"/>
<circle cx="461.88" cy="365.24" r="1.69" fill="#ff0000"/>
<circle cx="472.73" cy="365.49" r="1.69" fill="#ff0000"/>
<circle cx="483.57" cy="365.75" r="1.69" fill="#ff0000"/>
<circle cx="494.42" cy="365.75" r="1.69" fill="#ff0000"/>
<circle cx="505.27" cy="365.75" r="1.69" fill="#ff0000"/>
<circle cx="516.12" cy="365.75" r="1.69" fill="#ff0000"/>
<circle cx="526.97" cy="365.75" r="1.69" fill="#ff0000"/>
<circle cx="537.81" cy="365.75" r="1.69" fill="#ff0000"/>
<path d="M440.18 361.16 L451.03 364.22 L461.88 365.24 L472.73 365.49 L483.57 365.49 L494.42 365.49 L505.27 365.49 L516.12 365.49 L526.97 365.49 L537.81 365.49" fill="none" stroke="#0000ff" stroke-width="1.5" stroke-linejoin="round"/>
<circle cx="440.18" cy="361.16" r="1.04" fill="#0000ff"/>
<circle cx="451.03" cy="364.22" r="1.04" fill="#0000ff"/>
<circle cx="461.88" cy="365.24" r="1.04" fill="#0000ff"/>
<circle cx="472.73" cy="365.49" r="1.04" fill="#0000ff"/>
<circle cx="483.57" cy="365.49" r="1.04" fill="#0000ff"/>
<circle cx="494.42" cy="365.49" r="1.04" fill="#0000ff"/>
<circle cx="505.27" cy="365.49" r="1.04" fill="#0000ff"/>
<circle cx="516.12" cy="365.49" r="1.04" fill="#0000ff"/>
<circle cx="526.97" cy="365.49" r="1.04" fill="#0000ff"/>
<circle cx="537.81" cy="365.49" r="1.04" fill="#0000ff"/>
<path d="M440.18 360.4 L451.03 363.71 L461.88 365.49 L472.73 365.75 L483.57 365.75 L494.42 365.75 L505.27 365.75 L516.12 365.75 L526.97 365.75 L537.81 365.75" fill="none" stroke="#ff00ff" stroke-width="1.5" stroke-linejoin="round"/>
<polygon points="440.18,358.32 438.1,362.06 442.26,362.06" fill="#ff00ff"/>
<polygon points="451.03,361.63 448.95,365.37 453.11,365.37" fill="#ff00ff"/>
<polygon points="461.88,363.41 459.8,367.16 463.96,367.16" fill="#ff00ff"/>
<polygon points="472.73,363.67 470.65,367.41 474.81,367.41" fill="#ff00ff"/>
<polygon points="483.57,363.67 481.49,367.41 485.65,367.41" fill="#ff00ff"/>
<polygon points="494.42,363.67 492.34,367.41 496.5,367.41" fill="#ff00ff"/>
<polygon points="505.27,363.67 503.19,367.41 507.35,367.41" fill="#ff00ff"/>
<polygon points="516.12,363.67 514.04,367.41 518.2,367.41" fill="#ff00ff"/>
<polygon points="526.97,363.67 524.89,367.41 529.05,367.41" fill="#ff00ff"/>
<polygon points="537.81,363.67 535.73,367.41 539.89,367.41" fill="#ff00ff"/>
<path d="M440.18 341.3 L451.03 368.8 L461.88 369.06 L472.73 369.06 L483.57 369.06 L494.42 369.06 L505.27 369.06 L516.12 369.06 L526.97 369.06 L537.81 369.06" fill="none" stroke="#00ff00" stroke-width="1.5" stroke-linejoin="round"/>
<polygon points="440.18,343.38 438.1,339.64 442.26,339.64" fill="#00ff00"/>
<polygon points="451.03,370.88 448.95,367.14 453.11,367.14" fill="#00ff00"/>
<polygon points="461.88,371.14 459.8,367.39 463.96,367.39" fill="#00ff00"/>
<polygon points="472.73,371.14 470.65,367.39 474.81,367.39" fill="#00ff00"/>
<polygon points="483.57,371.14 481.49,367.39 485.65,367.39" fill="#00ff00"/>
<polygon points="494.42,371.14 492.34,367.39 496.5,367.39" fill="#00ff00"/>
<polygon points="505.27,371.14 503.19,367.39 507.35,367.39" fill="#00ff00"/>
<polygon points="516.12,371.14 514.04,367.39 518.2,367.39" fill="#00ff00"/>
<polygon points="526.97,371.14 524.89,367.39 529.05,367.39" fill="#00ff00"/>
<polygon points="537.81,371.14 535.73,367.39 539.89,367.39" fill="#00ff00"/>
<path d="M440.18 318.38 L451.03 360.4 L461.88 369.31 L472.73 369.31 L483.57 369.31 L494.42 369.31 L505.27 369.31 L516.12 369.31 L526.97 369.31 L537.81 369.31" fill="none" stroke="#00ffff" stroke-width="1.5" stroke-linejoin="round"/>
<polygon points="442.26,318.38 438.52,316.3 438.52,320.46" fill="#00ffff"/>
<polygon points="453.11,360.4 449.37,358.32 449.37,362.48" fill="#00ffff"/>
<polygon points="463.96,369.31 460.21,367.23 460.21,371.39" fill="#00ffff"/>
<polygon points="474.81,369.31 471.06,367.23 471.06,371.39" fill="#00ffff"/>
<polygon points="485.65,369.31 481.91,367.23 481.91,371.39" fill="#00ffff"/>
<polygon points="496.5,369.31 492.76,367.23 492.76,371.39" fill="#00ffff"/>
<polygon points="507.35,369.31 503.61,367.23 503.61,371.39" fill="#00ffff"/>
<polygon points="518.2,369.31 514.45,367.23 514.45,371.39" fill="#00ffff"/>
<polygon points="529.05,369.31 525.3,367.23 525.3,371.39" fill="#00ffff"/>
<polygon points="539.89,369.31 536.15,367.23 536.15,371.39" fill="#00ffff"/>
</g>
<text x="429.33" y="389.14" font-size="5.6" text-anchor="middle" fill="#333">0</text>
<text x="451.03" y="389.14" font-size="5.6" text-anchor="middle" fill="#333">1</text>
<text x="472.73" y="389.14" font-size="5.6" text-anchor="middle" fill="#333">2</text>
<text x="494.42" y="389.14" font-size="5.6" text-anchor="middle" fill="#333">3</text>
<text x="516.12" y="389.14" font-size="5.6" text-anchor="middle" fill="#333">4</text>
<text x="537.81" y="389.14" font-size="5.6" text-anchor="middle" fill="#333">5</text>
<text x="428.13" y="284.16" font-size="5.6" text-anchor="end" fill="#333">10<tspan font-size="4.3" dy="-2.2">10</tspan></text>
<text x="428.13" y="309.62" font-size="5.6" text-anchor="end" fill="#333">10<tspan font-size="4.3" dy="-2.2">8</tspan></text>
<text x="428.13" y="335.09" font-size="5.6" text-anchor="end" fill="#333">10<tspan font-size="4.3" dy="-2.2">6</tspan></text>
<text x="428.13" y="360.04" font-size="5.6" text-anchor="end" fill="#333">10<tspan font-size="4.3" dy="-2.2">4</tspan></text>
<text x="428.13" y="384.74" font-size="5.6" text-anchor="end" fill="#333">10<tspan font-size="4.3" dy="-2.2">2</tspan></text>
<text x="483.5" y="279.6" font-size="6.3" text-anchor="middle" textLength="29.6" lengthAdjust="spacingAndGlyphs" fill="#222">Function 12</text>
<text x="483.5" y="395.1" font-size="6.3" text-anchor="middle" textLength="49.5" lengthAdjust="spacingAndGlyphs" fill="#333">Fitness Evaluations</text>
<text x="531.28" y="396.48" font-size="5.0" text-anchor="middle" fill="#333">×10<tspan font-size="3.8" dy="-2.0">4</tspan></text>
<text transform="translate(415.2 332.5) rotate(-90)" font-size="5.5" text-anchor="middle" textLength="53" lengthAdjust="spacingAndGlyphs" fill="#333">Averaged Fitness Value</text>
<text x="474.3" y="407.7" font-size="7.4" text-anchor="middle" textLength="13.6" lengthAdjust="spacingAndGlyphs" fill="#222">(l)<tspan font-style="italic">F</tspan><tspan font-size="4.6">12</tspan></text>
<rect x="495.03" y="284.77" width="41" height="53" fill="none" stroke="#c8c8c8" stroke-width="0.5"/>
<line x1="495.83" y1="287.57" x2="504.83" y2="287.57" stroke="#000000" stroke-width="1.8"/>
<polygon points="500.13,284.45 500.9,286.52 503.1,286.61 501.37,287.97 501.97,290.09 500.13,288.87 498.3,290.09 498.9,287.97 497.17,286.61 499.37,286.52" fill="#000000"/>
<text x="504.93" y="289.42" font-size="5.4" fill="#333">DGCELSO</text>
<line x1="495.83" y1="292.75" x2="504.83" y2="292.75" stroke="#ff0000" stroke-width="1.8"/>
<circle cx="500.13" cy="292.75" r="1.69" fill="#ff0000"/>
<text x="504.93" y="294.6" font-size="5.4" fill="#333">TPLSO</text>
<line x1="495.83" y1="297.93" x2="504.83" y2="297.93" stroke="#00ff00" stroke-width="1.8"/>
<polygon points="500.13,300.01 498.05,296.27 502.21,296.27" fill="#00ff00"/>
<text x="504.93" y="299.78" font-size="5.4" fill="#333">SPLSO</text>
<line x1="495.83" y1="303.11" x2="504.83" y2="303.11" stroke="#0000ff" stroke-width="1.8"/>
<circle cx="500.13" cy="303.11" r="1.04" fill="#0000ff"/>
<text x="504.93" y="304.96" font-size="5.4" fill="#333">LLSO</text>
<line x1="495.83" y1="308.29" x2="504.83" y2="308.29" stroke="#00ffff" stroke-width="1.8"/>
<polygon points="502.21,308.29 498.47,306.21 498.47,310.37" fill="#00ffff"/>
<text x="504.93" y="310.14" font-size="5.4" fill="#333">CNO</text>
<line x1="495.83" y1="313.47" x2="504.83" y2="313.47" stroke="#ff00ff" stroke-width="1.8"/>
<polygon points="500.13,311.39 498.05,315.13 502.21,315.13" fill="#ff00ff"/>
<text x="504.93" y="315.32" font-size="5.4" fill="#333">SLPSO</text>
<line x1="495.83" y1="318.65" x2="504.83" y2="318.65" stroke="#ff0000" stroke-width="1.6" stroke-dasharray="1.2,1.2"/>
<circle cx="500.13" cy="318.65" r="1.3" fill="#ff0000"/>
<text x="504.93" y="320.5" font-size="5.4" fill="#333">DECC-DG</text>
<line x1="495.83" y1="323.83" x2="504.83" y2="323.83" stroke="#00ff00" stroke-width="1.6" stroke-dasharray="2.5,1,1,1"/>
<polygon points="498.05,323.83 501.8,321.75 501.8,325.91" fill="#00ff00"/>
<text x="504.93" y="325.68" font-size="5.4" fill="#333">DECC-GDG</text>
<line x1="495.83" y1="329.01" x2="504.83" y2="329.01" stroke="#000000" stroke-width="1.6" stroke-dasharray="2.5,1,1,1"/>
<circle cx="500.13" cy="329.01" r="1.04" fill="#000000"/>
<text x="504.93" y="330.86" font-size="5.4" fill="#333">DECC-RDG</text>
<line x1="495.83" y1="334.19" x2="504.83" y2="334.19" stroke="#00ff00" stroke-width="1.6" stroke-dasharray="1.2,1.2"/>
<circle cx="500.13" cy="334.19" r="1.95" fill="#00ff00"/>
<text x="504.93" y="336.04" font-size="5.4" fill="#333">DECC-RDG2</text>
<line x1="48.08" y1="416.46" x2="48.08" y2="516.54" stroke="#dedede" stroke-width="0.5"/>
<line x1="69.93" y1="416.46" x2="69.93" y2="516.54" stroke="#dedede" stroke-width="0.5"/>
<line x1="91.77" y1="416.46" x2="91.77" y2="516.54" stroke="#dedede" stroke-width="0.5"/>
<line x1="113.62" y1="416.46" x2="113.62" y2="516.54" stroke="#dedede" stroke-width="0.5"/>
<line x1="26.23" y1="433.52" x2="135.47" y2="433.52" stroke="#dedede" stroke-width="0.5"/>
<line x1="26.23" y1="450.07" x2="135.47" y2="450.07" stroke="#dedede" stroke-width="0.5"/>
<line x1="26.23" y1="466.62" x2="135.47" y2="466.62" stroke="#dedede" stroke-width="0.5"/>
<line x1="26.23" y1="483.18" x2="135.47" y2="483.18" stroke="#dedede" stroke-width="0.5"/>
<line x1="26.23" y1="499.98" x2="135.47" y2="499.98" stroke="#dedede" stroke-width="0.5"/>
<rect x="26.23" y="416.46" width="109.24" height="100.08" fill="none" stroke="#b4b4b4" stroke-width="0.8"/>
<clipPath id="c12"><rect x="25.23" y="414.96" width="111.24" height="103.08"/></clipPath>
<g clip-path="url(#c12)">
<path d="M37.15 454.66 L48.08 461.53 L59 467.39 L69.93 472.48 L80.85 476.81 L91.77 481.9 L102.7 488.52 L113.62 495.4 L124.55 502.28 L135.47 506.86" fill="none" stroke="#000000" stroke-width="1.5" stroke-linejoin="round"/>
<polygon points="37.15,451.54 37.92,453.6 40.12,453.69 38.39,455.06 38.99,457.18 37.15,455.96 35.32,457.18 35.92,455.06 34.19,453.69 36.39,453.6" fill="#000000"/>
<polygon points="48.08,458.41 48.84,460.48 51.04,460.57 49.31,461.93 49.91,464.06 48.08,462.83 46.24,464.06 46.84,461.93 45.11,460.57 47.31,460.48" fill="#000000"/>
<polygon points="59,464.27 59.77,466.34 61.97,466.42 60.24,467.79 60.84,469.91 59,468.69 57.17,469.91 57.77,467.79 56.03,466.42 58.24,466.34" fill="#000000"/>
<polygon points="69.93,469.36 70.69,471.43 72.89,471.52 71.16,472.88 71.76,475.01 69.93,473.78 68.09,475.01 68.69,472.88 66.96,471.52 69.16,471.43" fill="#000000"/>
<polygon points="80.85,473.69 81.61,475.76 83.82,475.85 82.09,477.21 82.68,479.33 80.85,478.11 79.02,479.33 79.61,477.21 77.88,475.85 80.09,475.76" fill="#000000"/>
<polygon points="91.77,478.78 92.54,480.85 94.74,480.94 93.01,482.31 93.61,484.43 91.77,483.2 89.94,484.43 90.54,482.31 88.81,480.94 91.01,480.85" fill="#000000"/>
<polygon points="102.7,485.4 103.46,487.47 105.67,487.56 103.94,488.93 104.53,491.05 102.7,489.82 100.87,491.05 101.46,488.93 99.73,487.56 101.94,487.47" fill="#000000"/>
<polygon points="113.62,492.28 114.39,494.35 116.59,494.44 114.86,495.8 115.46,497.92 113.62,496.7 111.79,497.92 112.39,495.8 110.66,494.44 112.86,494.35" fill="#000000"/>
<polygon points="124.55,499.16 125.31,501.22 127.52,501.31 125.78,502.68 126.38,504.8 124.55,503.58 122.71,504.8 123.31,502.68 121.58,501.31 123.78,501.22" fill="#000000"/>
<polygon points="135.47,503.74 136.24,505.81 138.44,505.89 136.71,507.26 137.31,509.38 135.47,508.16 133.64,509.38 134.24,507.26 132.51,505.89 134.71,505.81" fill="#000000"/>
<path d="M37.15 434.28 L48.08 433.52 L59 432.5 L69.93 433.52 L80.85 433.52 L91.77 434.28 L102.7 434.28 L113.62 435.05 L124.55 435.56 L135.47 432.5" fill="none" stroke="#00ff00" stroke-width="1.3" stroke-dasharray="2.5,1,1,1" stroke-linejoin="round"/>
<polygon points="35.07,434.28 38.82,432.2 38.82,436.36" fill="#00ff00"/>
<polygon points="46,433.52 49.74,431.44 49.74,435.6" fill="#00ff00"/>
<polygon points="56.92,432.5 60.67,430.42 60.67,434.58" fill="#00ff00"/>
<polygon points="67.85,433.52 71.59,431.44 71.59,435.6" fill="#00ff00"/>
<polygon points="78.77,433.52 82.51,431.44 82.51,435.6" fill="#00ff00"/>
<polygon points="89.69,434.28 93.44,432.2 93.44,436.36" fill="#00ff00"/>
<polygon points="100.62,434.28 104.36,432.2 104.36,436.36" fill="#00ff00"/>
<polygon points="111.54,435.05 115.29,432.97 115.29,437.13" fill="#00ff00"/>
<polygon points="122.47,435.56 126.21,433.48 126.21,437.64" fill="#00ff00"/>
<polygon points="133.39,432.5 137.14,430.42 137.14,434.58" fill="#00ff00"/>
<path d="M37.15 434.28 L48.08 450.84 L59 453.89 L69.93 455.93 L80.85 457.2 L91.77 458.48 L102.7 459.75 L113.62 461.02 L124.55 462.3 L135.47 463.06" fill="none" stroke="#ff0000" stroke-width="1.3" stroke-dasharray="1.2,1.2" stroke-linejoin="round"/>
<circle cx="37.15" cy="434.28" r="1.3" fill="#ff0000"/>
<circle cx="48.08" cy="450.84" r="1.3" fill="#ff0000"/>
<circle cx="59" cy="453.89" r="1.3" fill="#ff0000"/>
<circle cx="69.93" cy="455.93" r="1.3" fill="#ff0000"/>
<circle cx="80.85" cy="457.2" r="1.3" fill="#ff0000"/>
<circle cx="91.77" cy="458.48" r="1.3" fill="#ff0000"/>
<circle cx="102.7" cy="459.75" r="1.3" fill="#ff0000"/>
<circle cx="113.62" cy="461.02" r="1.3" fill="#ff0000"/>
<circle cx="124.55" cy="462.3" r="1.3" fill="#ff0000"/>
<circle cx="135.47" cy="463.06" r="1.3" fill="#ff0000"/>
<path d="M37.15 444.47 L48.08 450.33 L59 452.87 L69.93 455.17 L80.85 456.69 L91.77 458.48 L102.7 459.75 L113.62 461.02 L124.55 462.3 L135.47 463.06" fill="none" stroke="#000000" stroke-width="1.3" stroke-dasharray="2.5,1,1,1" stroke-linejoin="round"/>
<circle cx="37.15" cy="444.47" r="1.04" fill="#000000"/>
<circle cx="48.08" cy="450.33" r="1.04" fill="#000000"/>
<circle cx="59" cy="452.87" r="1.04" fill="#000000"/>
<circle cx="69.93" cy="455.17" r="1.04" fill="#000000"/>
<circle cx="80.85" cy="456.69" r="1.04" fill="#000000"/>
<circle cx="91.77" cy="458.48" r="1.04" fill="#000000"/>
<circle cx="102.7" cy="459.75" r="1.04" fill="#000000"/>
<circle cx="113.62" cy="461.02" r="1.04" fill="#000000"/>
<circle cx="124.55" cy="462.3" r="1.04" fill="#000000"/>
<circle cx="135.47" cy="463.06" r="1.04" fill="#000000"/>
<path d="M37.15 449.56 L48.08 457.2 L59 460.51 L69.93 463.57 L80.85 466.12 L91.77 467.39 L102.7 468.66 L113.62 469.94 L124.55 471.72 L135.47 473.75" fill="none" stroke="#00ff00" stroke-width="1.3" stroke-dasharray="1.2,1.2" stroke-linejoin="round"/>
<circle cx="37.15" cy="449.56" r="1.95" fill="#00ff00"/>
<circle cx="48.08" cy="457.2" r="1.95" fill="#00ff00"/>
<circle cx="59" cy="460.51" r="1.95" fill="#00ff00"/>
<circle cx="69.93" cy="463.57" r="1.95" fill="#00ff00"/>
<circle cx="80.85" cy="466.12" r="1.95" fill="#00ff00"/>
<circle cx="91.77" cy="467.39" r="1.95" fill="#00ff00"/>
<circle cx="102.7" cy="468.66" r="1.95" fill="#00ff00"/>
<circle cx="113.62" cy="469.94" r="1.95" fill="#00ff00"/>
<circle cx="124.55" cy="471.72" r="1.95" fill="#00ff00"/>
<circle cx="135.47" cy="473.75" r="1.95" fill="#00ff00"/>
<path d="M37.15 456.69 L48.08 462.3 L59 466.88 L69.93 471.21 L80.85 476.3 L91.77 480.63 L102.7 484.45 L113.62 487.76 L124.55 490.31 L135.47 493.62" fill="none" stroke="#ff0000" stroke-width="1.5" stroke-linejoin="round"/>
<circle cx="37.15" cy="456.69" r="1.69" fill="#ff0000"/>
<circle cx="48.08" cy="462.3" r="1.69" fill="#ff0000"/>
<circle cx="59" cy="466.88" r="1.69" fill="#ff0000"/>
<circle cx="69.93" cy="471.21" r="1.69" fill="#ff0000"/>
<circle cx="80.85" cy="476.3" r="1.69" fill="#ff0000"/>
<circle cx="91.77" cy="480.63" r="1.69" fill="#ff0000"/>
<circle cx="102.7" cy="484.45" r="1.69" fill="#ff0000"/>
<circle cx="113.62" cy="487.76" r="1.69" fill="#ff0000"/>
<circle cx="124.55" cy="490.31" r="1.69" fill="#ff0000"/>
<circle cx="135.47" cy="493.62" r="1.69" fill="#ff0000"/>
<path d="M37.15 452.11 L48.08 457.2 L59 459.75 L69.93 462.3 L80.85 464.84 L91.77 467.39 L102.7 469.17 L113.62 471.21 L124.55 472.48 L135.47 473.75" fill="none" stroke="#00ff00" stroke-width="1.5" stroke-linejoin="round"/>
<polygon points="37.15,454.19 35.07,450.45 39.23,450.45" fill="#00ff00"/>
<polygon points="48.08,459.28 46,455.54 50.16,455.54" fill="#00ff00"/>
<polygon points="59,461.83 56.92,458.09 61.08,458.09" fill="#00ff00"/>
<polygon points="69.93,464.38 67.85,460.63 72.01,460.63" fill="#00ff00"/>
<polygon points="80.85,466.92 78.77,463.18 82.93,463.18" fill="#00ff00"/>
<polygon points="91.77,469.47 89.69,465.72 93.85,465.72" fill="#00ff00"/>
<polygon points="102.7,471.25 100.62,467.51 104.78,467.51" fill="#00ff00"/>
<polygon points="113.62,473.29 111.54,469.54 115.7,469.54" fill="#00ff00"/>
<polygon points="124.55,474.56 122.47,470.82 126.63,470.82" fill="#00ff00"/>
<polygon points="135.47,475.83 133.39,472.09 137.55,472.09" fill="#00ff00"/>
<path d="M37.15 452.87 L48.08 458.48 L59 461.53 L69.93 464.33 L80.85 466.88 L91.77 469.17 L102.7 471.21 L113.62 473.25 L124.55 475.03 L135.47 476.3" fill="none" stroke="#00ffff" stroke-width="1.5" stroke-linejoin="round"/>
<polygon points="39.23,452.87 35.49,450.79 35.49,454.95" fill="#00ffff"/>
<polygon points="50.16,458.48 46.41,456.4 46.41,460.56" fill="#00ffff"/>
<polygon points="61.08,461.53 57.34,459.45 57.34,463.61" fill="#00ffff"/>
<polygon points="72.01,464.33 68.26,462.25 68.26,466.41" fill="#00ffff"/>
<polygon points="82.93,466.88 79.19,464.8 79.19,468.96" fill="#00ffff"/>
<polygon points="93.85,469.17 90.11,467.09 90.11,471.25" fill="#00ffff"/>
<polygon points="104.78,471.21 101.04,469.13 101.04,473.29" fill="#00ffff"/>
<polygon points="115.7,473.25 111.96,471.17 111.96,475.33" fill="#00ffff"/>
<polygon points="126.63,475.03 122.88,472.95 122.88,477.11" fill="#00ffff"/>
<polygon points="137.55,476.3 133.81,474.22 133.81,478.38" fill="#00ffff"/>
<path d="M37.15 453.38 L48.08 459.75 L59 463.57 L69.93 466.62 L80.85 469.94 L91.77 472.48 L102.7 475.03 L113.62 477.57 L124.55 480.12 L135.47 482.67" fill="none" stroke="#ff00ff" stroke-width="1.5" stroke-linejoin="round"/>
<polygon points="37.15,451.3 35.07,455.05 39.23,455.05" fill="#ff00ff"/>
<polygon points="48.08,457.67 46,461.41 50.16,461.41" fill="#ff00ff"/>
<polygon points="59,461.49 56.92,465.23 61.08,465.23" fill="#ff00ff"/>
<polygon points="69.93,464.54 67.85,468.29 72.01,468.29" fill="#ff00ff"/>
<polygon points="80.85,467.86 78.77,471.6 82.93,471.6" fill="#ff00ff"/>
<polygon points="91.77,470.4 89.69,474.15 93.85,474.15" fill="#ff00ff"/>
<polygon points="102.7,472.95 100.62,476.69 104.78,476.69" fill="#ff00ff"/>
<polygon points="113.62,475.49 111.54,479.24 115.7,479.24" fill="#ff00ff"/>
<polygon points="124.55,478.04 122.47,481.78 126.63,481.78" fill="#ff00ff"/>
<polygon points="135.47,480.59 133.39,484.33 137.55,484.33" fill="#ff00ff"/>
<path d="M37.15 454.15 L48.08 461.02 L59 465.61 L69.93 469.17 L80.85 473.25 L91.77 477.07 L102.7 480.63 L113.62 483.94 L124.55 486.49 L135.47 488.52" fill="none" stroke="#0000ff" stroke-width="1.5" stroke-linejoin="round"/>
<circle cx="37.15" cy="454.15" r="1.04" fill="#0000ff"/>
<circle cx="48.08" cy="461.02" r="1.04" fill="#0000ff"/>
<circle cx="59" cy="465.61" r="1.04" fill="#0000ff"/>
<circle cx="69.93" cy="469.17" r="1.04" fill="#0000ff"/>
<circle cx="80.85" cy="473.25" r="1.04" fill="#0000ff"/>
<circle cx="91.77" cy="477.07" r="1.04" fill="#0000ff"/>
<circle cx="102.7" cy="480.63" r="1.04" fill="#0000ff"/>
<circle cx="113.62" cy="483.94" r="1.04" fill="#0000ff"/>
<circle cx="124.55" cy="486.49" r="1.04" fill="#0000ff"/>
<circle cx="135.47" cy="488.52" r="1.04" fill="#0000ff"/>
</g>
<text x="26.23" y="523.34" font-size="5.6" text-anchor="middle" fill="#333">0</text>
<text x="48.08" y="523.34" font-size="5.6" text-anchor="middle" fill="#333">1</text>
<text x="69.93" y="523.34" font-size="5.6" text-anchor="middle" fill="#333">2</text>
<text x="91.77" y="523.34" font-size="5.6" text-anchor="middle" fill="#333">3</text>
<text x="113.62" y="523.34" font-size="5.6" text-anchor="middle" fill="#333">4</text>
<text x="135.47" y="523.34" font-size="5.6" text-anchor="middle" fill="#333">5</text>
<text x="25.03" y="419.16" font-size="5.6" text-anchor="end" fill="#333">10<tspan font-size="4.3" dy="-2.2">12</tspan></text>
<text x="25.03" y="436.22" font-size="5.6" text-anchor="end" fill="#333">10<tspan font-size="4.3" dy="-2.2">11</tspan></text>
<text x="25.03" y="452.77" font-size="5.6" text-anchor="end" fill="#333">10<tspan font-size="4.3" dy="-2.2">10</tspan></text>
<text x="25.03" y="469.32" font-size="5.6" text-anchor="end" fill="#333">10<tspan font-size="4.3" dy="-2.2">9</tspan></text>
<text x="25.03" y="485.88" font-size="5.6" text-anchor="end" fill="#333">10<tspan font-size="4.3" dy="-2.2">8</tspan></text>
<text x="25.03" y="502.68" font-size="5.6" text-anchor="end" fill="#333">10<tspan font-size="4.3" dy="-2.2">7</tspan></text>
<text x="25.03" y="519.24" font-size="5.6" text-anchor="end" fill="#333">10<tspan font-size="4.3" dy="-2.2">6</tspan></text>
<text x="80.4" y="414.1" font-size="6.3" text-anchor="middle" textLength="30.1" lengthAdjust="spacingAndGlyphs" fill="#222">Function 13</text>
<text x="80.8" y="529.6" font-size="6.3" text-anchor="middle" textLength="49.5" lengthAdjust="spacingAndGlyphs" fill="#333">Fitness Evaluations</text>
<text x="130.47" y="531.48" font-size="5.0" text-anchor="middle" fill="#333">×10<tspan font-size="3.8" dy="-2.0">4</tspan></text>
<text transform="translate(11.8 466.5) rotate(-90)" font-size="5.5" text-anchor="middle" textLength="53" lengthAdjust="spacingAndGlyphs" font-style="italic" fill="#333">Averaged Fitness Value</text>
<text x="71.5" y="542.7" font-size="7.4" text-anchor="middle" textLength="16.5" lengthAdjust="spacingAndGlyphs" fill="#222">(m)<tspan font-style="italic">F</tspan><tspan font-size="4.6">13</tspan></text>
<rect x="92.18" y="419.01" width="41" height="53" fill="none" stroke="#c8c8c8" stroke-width="0.5"/>
<line x1="92.98" y1="421.81" x2="101.98" y2="421.81" stroke="#000000" stroke-width="1.8"/>
<polygon points="97.28,418.69 98.05,420.75 100.25,420.84 98.52,422.21 99.12,424.33 97.28,423.11 95.45,424.33 96.05,422.21 94.32,420.84 96.52,420.75" fill="#000000"/>
<text x="102.08" y="423.66" font-size="5.4" fill="#333">DGCELSO</text>
<line x1="92.98" y1="426.99" x2="101.98" y2="426.99" stroke="#ff0000" stroke-width="1.8"/>
<circle cx="97.28" cy="426.99" r="1.69" fill="#ff0000"/>
<text x="102.08" y="428.84" font-size="5.4" fill="#333">TPLSO</text>
<line x1="92.98" y1="432.17" x2="101.98" y2="432.17" stroke="#00ff00" stroke-width="1.8"/>
<polygon points="97.28,434.25 95.2,430.5 99.36,430.5" fill="#00ff00"/>
<text x="102.08" y="434.02" font-size="5.4" fill="#333">SPLSO</text>
<line x1="92.98" y1="437.35" x2="101.98" y2="437.35" stroke="#0000ff" stroke-width="1.8"/>
<circle cx="97.28" cy="437.35" r="1.04" fill="#0000ff"/>
<text x="102.08" y="439.2" font-size="5.4" fill="#333">LLSO</text>
<line x1="92.98" y1="442.53" x2="101.98" y2="442.53" stroke="#00ffff" stroke-width="1.8"/>
<polygon points="99.36,442.53 95.62,440.45 95.62,444.61" fill="#00ffff"/>
<text x="102.08" y="444.38" font-size="5.4" fill="#333">CNO</text>
<line x1="92.98" y1="447.71" x2="101.98" y2="447.71" stroke="#ff00ff" stroke-width="1.8"/>
<polygon points="97.28,445.63 95.2,449.37 99.36,449.37" fill="#ff00ff"/>
<text x="102.08" y="449.56" font-size="5.4" fill="#333">SLPSO</text>
<line x1="92.98" y1="452.89" x2="101.98" y2="452.89" stroke="#ff0000" stroke-width="1.6" stroke-dasharray="1.2,1.2"/>
<circle cx="97.28" cy="452.89" r="1.3" fill="#ff0000"/>
<text x="102.08" y="454.74" font-size="5.4" fill="#333">DECC-DG</text>
<line x1="92.98" y1="458.07" x2="101.98" y2="458.07" stroke="#00ff00" stroke-width="1.6" stroke-dasharray="2.5,1,1,1"/>
<polygon points="95.2,458.07 98.95,455.99 98.95,460.15" fill="#00ff00"/>
<text x="102.08" y="459.92" font-size="5.4" fill="#333">DECC-GDG</text>
<line x1="92.98" y1="463.25" x2="101.98" y2="463.25" stroke="#000000" stroke-width="1.6" stroke-dasharray="2.5,1,1,1"/>
<circle cx="97.28" cy="463.25" r="1.04" fill="#000000"/>
<text x="102.08" y="465.1" font-size="5.4" fill="#333">DECC-RDG</text>
<line x1="92.98" y1="468.43" x2="101.98" y2="468.43" stroke="#00ff00" stroke-width="1.6" stroke-dasharray="1.2,1.2"/>
<circle cx="97.28" cy="468.43" r="1.95" fill="#00ff00"/>
<text x="102.08" y="470.28" font-size="5.4" fill="#333">DECC-RDG2</text>
<line x1="249.72" y1="416.46" x2="249.72" y2="516.28" stroke="#dedede" stroke-width="0.5"/>
<line x1="271.51" y1="416.46" x2="271.51" y2="516.28" stroke="#dedede" stroke-width="0.5"/>
<line x1="293.31" y1="416.46" x2="293.31" y2="516.28" stroke="#dedede" stroke-width="0.5"/>
<line x1="315.11" y1="416.46" x2="315.11" y2="516.28" stroke="#dedede" stroke-width="0.5"/>
<line x1="227.92" y1="419.77" x2="336.91" y2="419.77" stroke="#dedede" stroke-width="0.5"/>
<line x1="227.92" y1="452.11" x2="336.91" y2="452.11" stroke="#dedede" stroke-width="0.5"/>
<line x1="227.92" y1="484.45" x2="336.91" y2="484.45" stroke="#dedede" stroke-width="0.5"/>
<rect x="227.92" y="416.46" width="108.99" height="99.82" fill="none" stroke="#b4b4b4" stroke-width="0.8"/>
<clipPath id="c13"><rect x="226.92" y="414.96" width="110.99" height="102.82"/></clipPath>
<g clip-path="url(#c13)">
<path d="M238.82 417.73 L249.72 417.73 L260.61 417.73 L271.51 417.73 L282.41 417.73 L293.31 417.73 L304.21 417.73 L315.11 417.73 L326.01 417.73 L336.91 417.73" fill="none" stroke="#00ff00" stroke-width="1.3" stroke-dasharray="2.5,1,1,1" stroke-linejoin="round"/>
<polygon points="236.74,417.73 240.48,415.65 240.48,419.81" fill="#00ff00"/>
<polygon points="247.64,417.73 251.38,415.65 251.38,419.81" fill="#00ff00"/>
<polygon points="258.53,417.73 262.28,415.65 262.28,419.81" fill="#00ff00"/>
<polygon points="269.43,417.73 273.18,415.65 273.18,419.81" fill="#00ff00"/>
<polygon points="280.33,417.73 284.08,415.65 284.08,419.81" fill="#00ff00"/>
<polygon points="291.23,417.73 294.98,415.65 294.98,419.81" fill="#00ff00"/>
<polygon points="302.13,417.73 305.87,415.65 305.87,419.81" fill="#00ff00"/>
<polygon points="313.03,417.73 316.77,415.65 316.77,419.81" fill="#00ff00"/>
<polygon points="323.93,417.73 327.67,415.65 327.67,419.81" fill="#00ff00"/>
<polygon points="334.83,417.73 338.57,415.65 338.57,419.81" fill="#00ff00"/>
<path d="M238.82 419.01 L249.72 438.61 L260.61 444.22 L271.51 446.76 L282.41 449.31 L293.31 452.62 L304.21 457.2 L315.11 463.06 L326.01 468.66 L336.91 473.25" fill="none" stroke="#ff0000" stroke-width="1.3" stroke-dasharray="1.2,1.2" stroke-linejoin="round"/>
<circle cx="238.82" cy="419.01" r="1.3" fill="#ff0000"/>
<circle cx="249.72" cy="438.61" r="1.3" fill="#ff0000"/>
<circle cx="260.61" cy="444.22" r="1.3" fill="#ff0000"/>
<circle cx="271.51" cy="446.76" r="1.3" fill="#ff0000"/>
<circle cx="282.41" cy="449.31" r="1.3" fill="#ff0000"/>
<circle cx="293.31" cy="452.62" r="1.3" fill="#ff0000"/>
<circle cx="304.21" cy="457.2" r="1.3" fill="#ff0000"/>
<circle cx="315.11" cy="463.06" r="1.3" fill="#ff0000"/>
<circle cx="326.01" cy="468.66" r="1.3" fill="#ff0000"/>
<circle cx="336.91" cy="473.25" r="1.3" fill="#ff0000"/>
<path d="M238.82 436.07 L249.72 440.65 L260.61 444.47 L271.51 448.29 L282.41 451.35 L293.31 454.66 L304.21 458.48 L315.11 464.84 L326.01 471.21 L336.91 477.57" fill="none" stroke="#000000" stroke-width="1.3" stroke-dasharray="2.5,1,1,1" stroke-linejoin="round"/>
<circle cx="238.82" cy="436.07" r="1.04" fill="#000000"/>
<circle cx="249.72" cy="440.65" r="1.04" fill="#000000"/>
<circle cx="260.61" cy="444.47" r="1.04" fill="#000000"/>
<circle cx="271.51" cy="448.29" r="1.04" fill="#000000"/>
<circle cx="282.41" cy="451.35" r="1.04" fill="#000000"/>
<circle cx="293.31" cy="454.66" r="1.04" fill="#000000"/>
<circle cx="304.21" cy="458.48" r="1.04" fill="#000000"/>
<circle cx="315.11" cy="464.84" r="1.04" fill="#000000"/>
<circle cx="326.01" cy="471.21" r="1.04" fill="#000000"/>
<circle cx="336.91" cy="477.57" r="1.04" fill="#000000"/>
<path d="M238.82 436.07 L249.72 440.65 L260.61 444.47 L271.51 448.29 L282.41 451.35 L293.31 454.66 L304.21 458.48 L315.11 464.84 L326.01 471.21 L336.91 477.57" fill="none" stroke="#00ff00" stroke-width="1.3" stroke-dasharray="1.2,1.2" stroke-linejoin="round"/>
<circle cx="238.82" cy="436.07" r="1.95" fill="#00ff00"/>
<circle cx="249.72" cy="440.65" r="1.95" fill="#00ff00"/>
<circle cx="260.61" cy="444.47" r="1.95" fill="#00ff00"/>
<circle cx="271.51" cy="448.29" r="1.95" fill="#00ff00"/>
<circle cx="282.41" cy="451.35" r="1.95" fill="#00ff00"/>
<circle cx="293.31" cy="454.66" r="1.95" fill="#00ff00"/>
<circle cx="304.21" cy="458.48" r="1.95" fill="#00ff00"/>
<circle cx="315.11" cy="464.84" r="1.95" fill="#00ff00"/>
<circle cx="326.01" cy="471.21" r="1.95" fill="#00ff00"/>
<circle cx="336.91" cy="477.57" r="1.95" fill="#00ff00"/>
<path d="M238.82 439.38 L249.72 443.2 L260.61 445.74 L271.51 448.29 L282.41 450.84 L293.31 453.38 L304.21 455.93 L315.11 458.48 L326.01 461.02 L336.91 463.57" fill="none" stroke="#00ff00" stroke-width="1.5" stroke-linejoin="round"/>
<polygon points="238.82,441.46 236.74,437.71 240.9,437.71" fill="#00ff00"/>
<polygon points="249.72,445.28 247.64,441.53 251.8,441.53" fill="#00ff00"/>
<polygon points="260.61,447.82 258.53,444.08 262.69,444.08" fill="#00ff00"/>
<polygon points="271.51,450.37 269.43,446.63 273.59,446.63" fill="#00ff00"/>
<polygon points="282.41,452.92 280.33,449.17 284.49,449.17" fill="#00ff00"/>
<polygon points="293.31,455.46 291.23,451.72 295.39,451.72" fill="#00ff00"/>
<polygon points="304.21,458.01 302.13,454.27 306.29,454.27" fill="#00ff00"/>
<polygon points="315.11,460.56 313.03,456.81 317.19,456.81" fill="#00ff00"/>
<polygon points="326.01,463.1 323.93,459.36 328.09,459.36" fill="#00ff00"/>
<polygon points="336.91,465.65 334.83,461.9 338.99,461.9" fill="#00ff00"/>
<path d="M238.82 443.2 L249.72 448.29 L260.61 452.11 L271.51 454.66 L282.41 456.44 L293.31 458.48 L304.21 461.02 L315.11 463.57 L326.01 466.12 L336.91 468.66" fill="none" stroke="#00ffff" stroke-width="1.5" stroke-linejoin="round"/>
<polygon points="240.9,443.2 237.15,441.12 237.15,445.28" fill="#00ffff"/>
<polygon points="251.8,448.29 248.05,446.21 248.05,450.37" fill="#00ffff"/>
<polygon points="262.69,452.11 258.95,450.03 258.95,454.19" fill="#00ffff"/>
<polygon points="273.59,454.66 269.85,452.58 269.85,456.74" fill="#00ffff"/>
<polygon points="284.49,456.44 280.75,454.36 280.75,458.52" fill="#00ffff"/>
<polygon points="295.39,458.48 291.65,456.4 291.65,460.56" fill="#00ffff"/>
<polygon points="306.29,461.02 302.55,458.94 302.55,463.1" fill="#00ffff"/>
<polygon points="317.19,463.57 313.45,461.49 313.45,465.65" fill="#00ffff"/>
<polygon points="328.09,466.12 324.34,464.04 324.34,468.2" fill="#00ffff"/>
<polygon points="338.99,468.66 335.24,466.58 335.24,470.74" fill="#00ffff"/>
<path d="M238.82 443.2 L249.72 449.31 L260.61 454.4 L271.51 460.51 L282.41 468.15 L293.31 476.3 L304.21 482.16 L315.11 485.21 L326.01 486.49 L336.91 487.25" fill="none" stroke="#ff00ff" stroke-width="1.5" stroke-linejoin="round"/>
<polygon points="238.82,441.12 236.74,444.86 240.9,444.86" fill="#ff00ff"/>
<polygon points="249.72,447.23 247.64,450.97 251.8,450.97" fill="#ff00ff"/>
<polygon points="260.61,452.32 258.53,456.07 262.69,456.07" fill="#ff00ff"/>
<polygon points="271.51,458.43 269.43,462.18 273.59,462.18" fill="#ff00ff"/>
<polygon points="282.41,466.07 280.33,469.82 284.49,469.82" fill="#ff00ff"/>
<polygon points="293.31,474.22 291.23,477.97 295.39,477.97" fill="#ff00ff"/>
<polygon points="304.21,480.08 302.13,483.82 306.29,483.82" fill="#ff00ff"/>
<polygon points="315.11,483.13 313.03,486.88 317.19,486.88" fill="#ff00ff"/>
<polygon points="326.01,484.41 323.93,488.15 328.09,488.15" fill="#ff00ff"/>
<polygon points="336.91,485.17 334.83,488.92 338.99,488.92" fill="#ff00ff"/>
<path d="M238.82 443.2 L249.72 450.84 L260.61 458.48 L271.51 466.12 L282.41 473.75 L293.31 480.88 L304.21 487.76 L315.11 491.07 L326.01 492.34 L336.91 493.62" fill="none" stroke="#0000ff" stroke-width="1.5" stroke-linejoin="round"/>
<circle cx="238.82" cy="443.2" r="1.04" fill="#0000ff"/>
<circle cx="249.72" cy="450.84" r="1.04" fill="#0000ff"/>
<circle cx="260.61" cy="458.48" r="1.04" fill="#0000ff"/>
<circle cx="271.51" cy="466.12" r="1.04" fill="#0000ff"/>
<circle cx="282.41" cy="473.75" r="1.04" fill="#0000ff"/>
<circle cx="293.31" cy="480.88" r="1.04" fill="#0000ff"/>
<circle cx="304.21" cy="487.76" r="1.04" fill="#0000ff"/>
<circle cx="315.11" cy="491.07" r="1.04" fill="#0000ff"/>
<circle cx="326.01" cy="492.34" r="1.04" fill="#0000ff"/>
<circle cx="336.91" cy="493.62" r="1.04" fill="#0000ff"/>
<path d="M238.82 447.02 L249.72 455.42 L260.61 466.12 L271.51 477.57 L282.41 483.94 L293.31 487.76 L304.21 489.54 L315.11 491.07 L326.01 491.58 L336.91 492.34" fill="none" stroke="#ff0000" stroke-width="1.5" stroke-linejoin="round"/>
<circle cx="238.82" cy="447.02" r="1.69" fill="#ff0000"/>
<circle cx="249.72" cy="455.42" r="1.69" fill="#ff0000"/>
<circle cx="260.61" cy="466.12" r="1.69" fill="#ff0000"/>
<circle cx="271.51" cy="477.57" r="1.69" fill="#ff0000"/>
<circle cx="282.41" cy="483.94" r="1.69" fill="#ff0000"/>
<circle cx="293.31" cy="487.76" r="1.69" fill="#ff0000"/>
<circle cx="304.21" cy="489.54" r="1.69" fill="#ff0000"/>
<circle cx="315.11" cy="491.07" r="1.69" fill="#ff0000"/>
<circle cx="326.01" cy="491.58" r="1.69" fill="#ff0000"/>
<circle cx="336.91" cy="492.34" r="1.69" fill="#ff0000"/>
<path d="M238.82 443.71 L249.72 452.11 L260.61 463.57 L271.51 476.81 L282.41 489.03 L293.31 494.64 L304.21 496.67 L315.11 498.71 L326.01 499.98 L336.91 501.26" fill="none" stroke="#000000" stroke-width="1.5" stroke-linejoin="round"/>
<polygon points="238.82,440.59 239.58,442.65 241.78,442.74 240.05,444.11 240.65,446.23 238.82,445.01 236.98,446.23 237.58,444.11 235.85,442.74 238.05,442.65" fill="#000000"/>
<polygon points="249.72,448.99 250.48,451.06 252.68,451.15 250.95,452.51 251.55,454.63 249.72,453.41 247.88,454.63 248.48,452.51 246.75,451.15 248.95,451.06" fill="#000000"/>
<polygon points="260.61,460.45 261.38,462.52 263.58,462.6 261.85,463.97 262.45,466.09 260.61,464.87 258.78,466.09 259.38,463.97 257.65,462.6 259.85,462.52" fill="#000000"/>
<polygon points="271.51,473.69 272.28,475.76 274.48,475.85 272.75,477.21 273.35,479.33 271.51,478.11 269.68,479.33 270.28,477.21 268.55,475.85 270.75,475.76" fill="#000000"/>
<polygon points="282.41,485.91 283.18,487.98 285.38,488.07 283.65,489.44 284.25,491.56 282.41,490.33 280.58,491.56 281.18,489.44 279.45,488.07 281.65,487.98" fill="#000000"/>
<polygon points="293.31,491.52 294.08,493.58 296.28,493.67 294.55,495.04 295.15,497.16 293.31,495.94 291.48,497.16 292.08,495.04 290.34,493.67 292.55,493.58" fill="#000000"/>
<polygon points="304.21,493.55 304.97,495.62 307.18,495.71 305.45,497.07 306.04,499.2 304.21,497.97 302.38,499.2 302.97,497.07 301.24,495.71 303.45,495.62" fill="#000000"/>
<polygon points="315.11,495.59 315.87,497.66 318.08,497.75 316.35,499.11 316.94,501.23 315.11,500.01 313.28,501.23 313.87,499.11 312.14,497.75 314.35,497.66" fill="#000000"/>
<polygon points="326.01,496.86 326.77,498.93 328.98,499.02 327.24,500.39 327.84,502.51 326.01,501.28 324.17,502.51 324.77,500.39 323.04,499.02 325.24,498.93" fill="#000000"/>
<polygon points="336.91,498.14 337.67,500.2 339.87,500.29 338.14,501.66 338.74,503.78 336.91,502.56 335.07,503.78 335.67,501.66 333.94,500.29 336.14,500.2" fill="#000000"/>
</g>
<text x="227.92" y="522.58" font-size="5.6" text-anchor="middle" fill="#333">0</text>
<text x="249.72" y="522.58" font-size="5.6" text-anchor="middle" fill="#333">1</text>
<text x="271.51" y="522.58" font-size="5.6" text-anchor="middle" fill="#333">2</text>
<text x="293.31" y="522.58" font-size="5.6" text-anchor="middle" fill="#333">3</text>
<text x="315.11" y="522.58" font-size="5.6" text-anchor="middle" fill="#333">4</text>
<text x="336.91" y="522.58" font-size="5.6" text-anchor="middle" fill="#333">5</text>
<text x="226.72" y="422.47" font-size="5.6" text-anchor="end" fill="#333">10<tspan font-size="4.3" dy="-2.2">12</tspan></text>
<text x="226.72" y="454.81" font-size="5.6" text-anchor="end" fill="#333">10<tspan font-size="4.3" dy="-2.2">10</tspan></text>
<text x="226.72" y="487.15" font-size="5.6" text-anchor="end" fill="#333">10<tspan font-size="4.3" dy="-2.2">8</tspan></text>
<text x="226.72" y="518.98" font-size="5.6" text-anchor="end" fill="#333">10<tspan font-size="4.3" dy="-2.2">6</tspan></text>
<text x="282.1" y="414.1" font-size="6.3" text-anchor="middle" textLength="30.1" lengthAdjust="spacingAndGlyphs" fill="#222">Function 14</text>
<text x="282.1" y="529.4" font-size="6.3" text-anchor="middle" textLength="49.5" lengthAdjust="spacingAndGlyphs" fill="#333">Fitness Evaluations</text>
<text x="330.38" y="531.48" font-size="5.0" text-anchor="middle" fill="#333">×10<tspan font-size="3.8" dy="-2.0">4</tspan></text>
<text transform="translate(213.2 467) rotate(-90)" font-size="5.5" text-anchor="middle" textLength="54" lengthAdjust="spacingAndGlyphs" font-style="italic" fill="#333">Averaged Fitness Value</text>
<text x="272.8" y="542.7" font-size="7.4" text-anchor="middle" textLength="16.2" lengthAdjust="spacingAndGlyphs" fill="#222">(n)<tspan font-style="italic">F</tspan><tspan font-size="4.6">14</tspan></text>
<rect x="294.13" y="418.88" width="41" height="53" fill="none" stroke="#c8c8c8" stroke-width="0.5"/>
<line x1="294.93" y1="421.68" x2="303.93" y2="421.68" stroke="#000000" stroke-width="1.8"/>
<polygon points="299.23,418.56 299.99,420.63 302.19,420.71 300.46,422.08 301.06,424.2 299.23,422.98 297.39,424.2 297.99,422.08 296.26,420.71 298.46,420.63" fill="#000000"/>
<text x="304.03" y="423.53" font-size="5.4" fill="#333">DGCELSO</text>
<line x1="294.93" y1="426.86" x2="303.93" y2="426.86" stroke="#ff0000" stroke-width="1.8"/>
<circle cx="299.23" cy="426.86" r="1.69" fill="#ff0000"/>
<text x="304.03" y="428.71" font-size="5.4" fill="#333">TPLSO</text>
<line x1="294.93" y1="432.04" x2="303.93" y2="432.04" stroke="#00ff00" stroke-width="1.8"/>
<polygon points="299.23,434.12 297.15,430.37 301.31,430.37" fill="#00ff00"/>
<text x="304.03" y="433.89" font-size="5.4" fill="#333">SPLSO</text>
<line x1="294.93" y1="437.22" x2="303.93" y2="437.22" stroke="#0000ff" stroke-width="1.8"/>
<circle cx="299.23" cy="437.22" r="1.04" fill="#0000ff"/>
<text x="304.03" y="439.07" font-size="5.4" fill="#333">LLSO</text>
<line x1="294.93" y1="442.4" x2="303.93" y2="442.4" stroke="#00ffff" stroke-width="1.8"/>
<polygon points="301.31,442.4 297.56,440.32 297.56,444.48" fill="#00ffff"/>
<text x="304.03" y="444.25" font-size="5.4" fill="#333">CNO</text>
<line x1="294.93" y1="447.58" x2="303.93" y2="447.58" stroke="#ff00ff" stroke-width="1.8"/>
<polygon points="299.23,445.5 297.15,449.24 301.31,449.24" fill="#ff00ff"/>
<text x="304.03" y="449.43" font-size="5.4" fill="#333">SLPSO</text>
<line x1="294.93" y1="452.76" x2="303.93" y2="452.76" stroke="#ff0000" stroke-width="1.6" stroke-dasharray="1.2,1.2"/>
<circle cx="299.23" cy="452.76" r="1.3" fill="#ff0000"/>
<text x="304.03" y="454.61" font-size="5.4" fill="#333">DECC-DG</text>
<line x1="294.93" y1="457.94" x2="303.93" y2="457.94" stroke="#00ff00" stroke-width="1.6" stroke-dasharray="2.5,1,1,1"/>
<polygon points="297.15,457.94 300.89,455.86 300.89,460.02" fill="#00ff00"/>
<text x="304.03" y="459.79" font-size="5.4" fill="#333">DECC-GDG</text>
<line x1="294.93" y1="463.12" x2="303.93" y2="463.12" stroke="#000000" stroke-width="1.6" stroke-dasharray="2.5,1,1,1"/>
<circle cx="299.23" cy="463.12" r="1.04" fill="#000000"/>
<text x="304.03" y="464.97" font-size="5.4" fill="#333">DECC-RDG</text>
<line x1="294.93" y1="468.3" x2="303.93" y2="468.3" stroke="#00ff00" stroke-width="1.6" stroke-dasharray="1.2,1.2"/>
<circle cx="299.23" cy="468.3" r="1.95" fill="#00ff00"/>
<text x="304.03" y="470.15" font-size="5.4" fill="#333">DECC-RDG2</text>
<line x1="427.55" y1="509.03" x2="537.66" y2="509.03" stroke="#efefef" stroke-width="0.5"/>
<line x1="427.55" y1="503.23" x2="537.66" y2="503.23" stroke="#efefef" stroke-width="0.5"/>
<line x1="427.55" y1="498.49" x2="537.66" y2="498.49" stroke="#efefef" stroke-width="0.5"/>
<line x1="427.55" y1="494.48" x2="537.66" y2="494.48" stroke="#efefef" stroke-width="0.5"/>
<line x1="427.55" y1="491.01" x2="537.66" y2="491.01" stroke="#efefef" stroke-width="0.5"/>
<line x1="427.55" y1="487.95" x2="537.66" y2="487.95" stroke="#efefef" stroke-width="0.5"/>
<line x1="427.55" y1="467.2" x2="537.66" y2="467.2" stroke="#efefef" stroke-width="0.5"/>
<line x1="427.55" y1="456.66" x2="537.66" y2="456.66" stroke="#efefef" stroke-width="0.5"/>
<line x1="427.55" y1="449.19" x2="537.66" y2="449.19" stroke="#efefef" stroke-width="0.5"/>
<line x1="427.55" y1="443.39" x2="537.66" y2="443.39" stroke="#efefef" stroke-width="0.5"/>
<line x1="427.55" y1="438.65" x2="537.66" y2="438.65" stroke="#efefef" stroke-width="0.5"/>
<line x1="427.55" y1="434.64" x2="537.66" y2="434.64" stroke="#efefef" stroke-width="0.5"/>
<line x1="427.55" y1="431.17" x2="537.66" y2="431.17" stroke="#efefef" stroke-width="0.5"/>
<line x1="427.55" y1="428.11" x2="537.66" y2="428.11" stroke="#efefef" stroke-width="0.5"/>
<line x1="449.57" y1="416.38" x2="449.57" y2="516.28" stroke="#dedede" stroke-width="0.5"/>
<line x1="471.6" y1="416.38" x2="471.6" y2="516.28" stroke="#dedede" stroke-width="0.5"/>
<line x1="493.62" y1="416.38" x2="493.62" y2="516.28" stroke="#dedede" stroke-width="0.5"/>
<line x1="515.64" y1="416.38" x2="515.64" y2="516.28" stroke="#dedede" stroke-width="0.5"/>
<line x1="427.55" y1="425.37" x2="537.66" y2="425.37" stroke="#dedede" stroke-width="0.5"/>
<line x1="427.55" y1="485.21" x2="537.66" y2="485.21" stroke="#dedede" stroke-width="0.5"/>
<rect x="427.55" y="416.38" width="110.11" height="99.9" fill="none" stroke="#b4b4b4" stroke-width="0.8"/>
<clipPath id="c14"><rect x="426.55" y="414.88" width="112.11" height="102.9"/></clipPath>
<g clip-path="url(#c14)">
<path d="M438.56 416.46 L449.57 421.55 L460.58 425.37 L471.6 427.41 L482.61 428.43 L493.62 431.74 L504.63 432.5 L515.64 433.01 L526.65 434.28 L537.66 435.05" fill="none" stroke="#00ffff" stroke-width="1.5" stroke-linejoin="round"/>
<polygon points="440.64,416.46 436.9,414.38 436.9,418.54" fill="#00ffff"/>
<polygon points="451.65,421.55 447.91,419.47 447.91,423.63" fill="#00ffff"/>
<polygon points="462.66,425.37 458.92,423.29 458.92,427.45" fill="#00ffff"/>
<polygon points="473.68,427.41 469.93,425.33 469.93,429.49" fill="#00ffff"/>
<polygon points="484.69,428.43 480.94,426.35 480.94,430.51" fill="#00ffff"/>
<polygon points="495.7,431.74 491.95,429.66 491.95,433.82" fill="#00ffff"/>
<polygon points="506.71,432.5 502.96,430.42 502.96,434.58" fill="#00ffff"/>
<polygon points="517.72,433.01 513.98,430.93 513.98,435.09" fill="#00ffff"/>
<polygon points="528.73,434.28 524.99,432.2 524.99,436.36" fill="#00ffff"/>
<polygon points="539.74,435.05 536,432.97 536,437.13" fill="#00ffff"/>
<path d="M438.56 425.88 L449.57 431.23 L460.58 433.52 L471.6 435.05 L482.61 436.07 L493.62 437.34 L504.63 438.1 L515.64 438.87 L526.65 439.89 L537.66 440.65" fill="none" stroke="#ff00ff" stroke-width="1.5" stroke-linejoin="round"/>
<polygon points="438.56,423.8 436.48,427.55 440.64,427.55" fill="#ff00ff"/>
<polygon points="449.57,429.15 447.49,432.89 451.65,432.89" fill="#ff00ff"/>
<polygon points="460.58,431.44 458.5,435.18 462.66,435.18" fill="#ff00ff"/>
<polygon points="471.6,432.97 469.52,436.71 473.68,436.71" fill="#ff00ff"/>
<polygon points="482.61,433.99 480.53,437.73 484.69,437.73" fill="#ff00ff"/>
<polygon points="493.62,435.26 491.54,439 495.7,439" fill="#ff00ff"/>
<polygon points="504.63,436.02 502.55,439.77 506.71,439.77" fill="#ff00ff"/>
<polygon points="515.64,436.79 513.56,440.53 517.72,440.53" fill="#ff00ff"/>
<polygon points="526.65,437.81 524.57,441.55 528.73,441.55" fill="#ff00ff"/>
<polygon points="537.66,438.57 535.58,442.31 539.74,442.31" fill="#ff00ff"/>
<path d="M438.56 426.65 L449.57 435.05 L460.58 439.38 L471.6 442.69 L482.61 445.23 L493.62 447.02 L504.63 448.8 L515.64 450.33 L526.65 451.6 L537.66 452.11" fill="none" stroke="#00ff00" stroke-width="1.5" stroke-linejoin="round"/>
<polygon points="438.56,428.73 436.48,424.98 440.64,424.98" fill="#00ff00"/>
<polygon points="449.57,437.13 447.49,433.38 451.65,433.38" fill="#00ff00"/>
<polygon points="460.58,441.46 458.5,437.71 462.66,437.71" fill="#00ff00"/>
<polygon points="471.6,444.77 469.52,441.02 473.68,441.02" fill="#00ff00"/>
<polygon points="482.61,447.31 480.53,443.57 484.69,443.57" fill="#00ff00"/>
<polygon points="493.62,449.1 491.54,445.35 495.7,445.35" fill="#00ff00"/>
<polygon points="504.63,450.88 502.55,447.14 506.71,447.14" fill="#00ff00"/>
<polygon points="515.64,452.41 513.56,448.66 517.72,448.66" fill="#00ff00"/>
<polygon points="526.65,453.68 524.57,449.94 528.73,449.94" fill="#00ff00"/>
<polygon points="537.66,454.19 535.58,450.45 539.74,450.45" fill="#00ff00"/>
<path d="M438.56 428.43 L449.57 432.5 L460.58 436.83 L471.6 440.14 L482.61 443.71 L493.62 447.02 L504.63 450.33 L515.64 453.38 L526.65 457.2 L537.66 461.53" fill="none" stroke="#000000" stroke-width="1.5" stroke-linejoin="round"/>
<polygon points="438.56,425.31 439.33,427.38 441.53,427.46 439.8,428.83 440.4,430.95 438.56,429.73 436.73,430.95 437.33,428.83 435.6,427.46 437.8,427.38" fill="#000000"/>
<polygon points="449.57,429.38 450.34,431.45 452.54,431.54 450.81,432.9 451.41,435.03 449.57,433.8 447.74,435.03 448.34,432.9 446.61,431.54 448.81,431.45" fill="#000000"/>
<polygon points="460.58,433.71 461.35,435.78 463.55,435.87 461.82,437.23 462.42,439.36 460.58,438.13 458.75,439.36 459.35,437.23 457.62,435.87 459.82,435.78" fill="#000000"/>
<polygon points="471.6,437.02 472.36,439.09 474.56,439.18 472.83,440.54 473.43,442.67 471.6,441.44 469.76,442.67 470.36,440.54 468.63,439.18 470.83,439.09" fill="#000000"/>
<polygon points="482.61,440.59 483.37,442.65 485.57,442.74 483.84,444.11 484.44,446.23 482.61,445.01 480.77,446.23 481.37,444.11 479.64,442.74 481.84,442.65" fill="#000000"/>
<polygon points="493.62,443.9 494.38,445.97 496.59,446.05 494.85,447.42 495.45,449.54 493.62,448.32 491.78,449.54 492.38,447.42 490.65,446.05 492.85,445.97" fill="#000000"/>
<polygon points="504.63,447.21 505.39,449.28 507.6,449.36 505.87,450.73 506.46,452.85 504.63,451.63 502.79,452.85 503.39,450.73 501.66,449.36 503.86,449.28" fill="#000000"/>
<polygon points="515.64,450.26 516.4,452.33 518.61,452.42 516.88,453.78 517.47,455.91 515.64,454.68 513.81,455.91 514.4,453.78 512.67,452.42 514.88,452.33" fill="#000000"/>
<polygon points="526.65,454.08 527.41,456.15 529.62,456.24 527.89,457.6 528.48,459.73 526.65,458.5 524.82,459.73 525.41,457.6 523.68,456.24 525.89,456.15" fill="#000000"/>
<polygon points="537.66,458.41 538.43,460.48 540.63,460.57 538.9,461.93 539.5,464.06 537.66,462.83 535.83,464.06 536.43,461.93 534.69,460.57 536.9,460.48" fill="#000000"/>
<path d="M438.56 444.47 L449.57 457.2 L460.58 464.84 L471.6 469.94 L482.61 474.26 L493.62 477.57 L504.63 480.63 L515.64 483.43 L526.65 485.98 L537.66 487.76" fill="none" stroke="#ff0000" stroke-width="1.5" stroke-linejoin="round"/>
<circle cx="438.56" cy="444.47" r="1.69" fill="#ff0000"/>
<circle cx="449.57" cy="457.2" r="1.69" fill="#ff0000"/>
<circle cx="460.58" cy="464.84" r="1.69" fill="#ff0000"/>
<circle cx="471.6" cy="469.94" r="1.69" fill="#ff0000"/>
<circle cx="482.61" cy="474.26" r="1.69" fill="#ff0000"/>
<circle cx="493.62" cy="477.57" r="1.69" fill="#ff0000"/>
<circle cx="504.63" cy="480.63" r="1.69" fill="#ff0000"/>
<circle cx="515.64" cy="483.43" r="1.69" fill="#ff0000"/>
<circle cx="526.65" cy="485.98" r="1.69" fill="#ff0000"/>
<circle cx="537.66" cy="487.76" r="1.69" fill="#ff0000"/>
<path d="M449.57 442.69 L460.58 459.75 L471.6 471.72 L482.61 481.39 L493.62 487 L504.63 490.82 L515.64 494.13 L526.65 496.67 L537.66 497.95" fill="none" stroke="#ff0000" stroke-width="1.3" stroke-dasharray="1.2,1.2" stroke-linejoin="round"/>
<circle cx="449.57" cy="442.69" r="1.3" fill="#ff0000"/>
<circle cx="460.58" cy="459.75" r="1.3" fill="#ff0000"/>
<circle cx="471.6" cy="471.72" r="1.3" fill="#ff0000"/>
<circle cx="482.61" cy="481.39" r="1.3" fill="#ff0000"/>
<circle cx="493.62" cy="487" r="1.3" fill="#ff0000"/>
<circle cx="504.63" cy="490.82" r="1.3" fill="#ff0000"/>
<circle cx="515.64" cy="494.13" r="1.3" fill="#ff0000"/>
<circle cx="526.65" cy="496.67" r="1.3" fill="#ff0000"/>
<circle cx="537.66" cy="497.95" r="1.3" fill="#ff0000"/>
<path d="M438.56 440.65 L449.57 463.06 L460.58 474.26 L471.6 480.88 L482.61 485.98 L493.62 489.54 L504.63 492.09 L515.64 494.64 L526.65 497.18 L537.66 499.22" fill="none" stroke="#00ff00" stroke-width="1.3" stroke-dasharray="2.5,1,1,1" stroke-linejoin="round"/>
<polygon points="436.48,440.65 440.23,438.57 440.23,442.73" fill="#00ff00"/>
<polygon points="447.49,463.06 451.24,460.98 451.24,465.14" fill="#00ff00"/>
<polygon points="458.5,474.26 462.25,472.18 462.25,476.34" fill="#00ff00"/>
<polygon points="469.52,480.88 473.26,478.8 473.26,482.96" fill="#00ff00"/>
<polygon points="480.53,485.98 484.27,483.9 484.27,488.06" fill="#00ff00"/>
<polygon points="491.54,489.54 495.28,487.46 495.28,491.62" fill="#00ff00"/>
<polygon points="502.55,492.09 506.29,490.01 506.29,494.17" fill="#00ff00"/>
<polygon points="513.56,494.64 517.3,492.56 517.3,496.72" fill="#00ff00"/>
<polygon points="524.57,497.18 528.31,495.1 528.31,499.26" fill="#00ff00"/>
<polygon points="535.58,499.22 539.33,497.14 539.33,501.3" fill="#00ff00"/>
<path d="M438.56 440.65 L449.57 463.06 L460.58 474.26 L471.6 480.88 L482.61 485.98 L493.62 489.54 L504.63 492.09 L515.64 494.64 L526.65 497.18 L537.66 499.22" fill="none" stroke="#000000" stroke-width="1.3" stroke-dasharray="2.5,1,1,1" stroke-linejoin="round"/>
<circle cx="438.56" cy="440.65" r="1.04" fill="#000000"/>
<circle cx="449.57" cy="463.06" r="1.04" fill="#000000"/>
<circle cx="460.58" cy="474.26" r="1.04" fill="#000000"/>
<circle cx="471.6" cy="480.88" r="1.04" fill="#000000"/>
<circle cx="482.61" cy="485.98" r="1.04" fill="#000000"/>
<circle cx="493.62" cy="489.54" r="1.04" fill="#000000"/>
<circle cx="504.63" cy="492.09" r="1.04" fill="#000000"/>
<circle cx="515.64" cy="494.64" r="1.04" fill="#000000"/>
<circle cx="526.65" cy="497.18" r="1.04" fill="#000000"/>
<circle cx="537.66" cy="499.22" r="1.04" fill="#000000"/>
<path d="M438.56 440.65 L449.57 463.06 L460.58 474.26 L471.6 480.88 L482.61 485.98 L493.62 489.54 L504.63 492.09 L515.64 494.64 L526.65 497.18 L537.66 499.22" fill="none" stroke="#00ff00" stroke-width="1.3" stroke-dasharray="1.2,1.2" stroke-linejoin="round"/>
<circle cx="438.56" cy="440.65" r="1.95" fill="#00ff00"/>
<circle cx="449.57" cy="463.06" r="1.95" fill="#00ff00"/>
<circle cx="460.58" cy="474.26" r="1.95" fill="#00ff00"/>
<circle cx="471.6" cy="480.88" r="1.95" fill="#00ff00"/>
<circle cx="482.61" cy="485.98" r="1.95" fill="#00ff00"/>
<circle cx="493.62" cy="489.54" r="1.95" fill="#00ff00"/>
<circle cx="504.63" cy="492.09" r="1.95" fill="#00ff00"/>
<circle cx="515.64" cy="494.64" r="1.95" fill="#00ff00"/>
<circle cx="526.65" cy="497.18" r="1.95" fill="#00ff00"/>
<circle cx="537.66" cy="499.22" r="1.95" fill="#00ff00"/>
<path d="M438.56 463.06 L449.57 479.36 L460.58 488.52 L471.6 494.64 L482.61 500.49 L493.62 504.82 L504.63 508.13 L515.64 510.93 L526.65 513.73 L537.66 516.28" fill="none" stroke="#0000ff" stroke-width="1.5" stroke-linejoin="round"/>
<circle cx="438.56" cy="463.06" r="1.04" fill="#0000ff"/>
<circle cx="449.57" cy="479.36" r="1.04" fill="#0000ff"/>
<circle cx="460.58" cy="488.52" r="1.04" fill="#0000ff"/>
<circle cx="471.6" cy="494.64" r="1.04" fill="#0000ff"/>
<circle cx="482.61" cy="500.49" r="1.04" fill="#0000ff"/>
<circle cx="493.62" cy="504.82" r="1.04" fill="#0000ff"/>
<circle cx="504.63" cy="508.13" r="1.04" fill="#0000ff"/>
<circle cx="515.64" cy="510.93" r="1.04" fill="#0000ff"/>
<circle cx="526.65" cy="513.73" r="1.04" fill="#0000ff"/>
<circle cx="537.66" cy="516.28" r="1.04" fill="#0000ff"/>
</g>
<text x="427.55" y="522.58" font-size="5.6" text-anchor="middle" fill="#333">0</text>
<text x="449.57" y="522.58" font-size="5.6" text-anchor="middle" fill="#333">1</text>
<text x="471.6" y="522.58" font-size="5.6" text-anchor="middle" fill="#333">2</text>
<text x="493.62" y="522.58" font-size="5.6" text-anchor="middle" fill="#333">3</text>
<text x="515.64" y="522.58" font-size="5.6" text-anchor="middle" fill="#333">4</text>
<text x="537.66" y="522.58" font-size="5.6" text-anchor="middle" fill="#333">5</text>
<text x="426.35" y="428.07" font-size="5.6" text-anchor="end" fill="#333">10<tspan font-size="4.3" dy="-2.2">8</tspan></text>
<text x="426.35" y="487.91" font-size="5.6" text-anchor="end" fill="#333">10<tspan font-size="4.3" dy="-2.2">7</tspan></text>
<text x="482.4" y="414.1" font-size="6.3" text-anchor="middle" textLength="30.1" lengthAdjust="spacingAndGlyphs" fill="#222">Function 15</text>
<text x="482.5" y="529.4" font-size="6.3" text-anchor="middle" textLength="49.5" lengthAdjust="spacingAndGlyphs" fill="#333">Fitness Evaluations</text>
<text x="531.28" y="531.48" font-size="5.0" text-anchor="middle" fill="#333">×10<tspan font-size="3.8" dy="-2.0">4</tspan></text>
<text transform="translate(414.8 467.5) rotate(-90)" font-size="5.5" text-anchor="middle" textLength="53" lengthAdjust="spacingAndGlyphs" fill="#333">Averaged Fitness Value</text>
<text x="474.6" y="542.7" font-size="7.4" text-anchor="middle" textLength="15.3" lengthAdjust="spacingAndGlyphs" fill="#222">(o)<tspan font-style="italic">F</tspan><tspan font-size="4.6">15</tspan></text>
<rect x="494.52" y="418.88" width="41" height="53" fill="none" stroke="#c8c8c8" stroke-width="0.5"/>
<line x1="495.32" y1="421.68" x2="504.32" y2="421.68" stroke="#000000" stroke-width="1.8"/>
<polygon points="499.62,418.56 500.39,420.63 502.59,420.71 500.86,422.08 501.46,424.2 499.62,422.98 497.79,424.2 498.39,422.08 496.66,420.71 498.86,420.63" fill="#000000"/>
<text x="504.42" y="423.53" font-size="5.4" fill="#333">DGCELSO</text>
<line x1="495.32" y1="426.86" x2="504.32" y2="426.86" stroke="#ff0000" stroke-width="1.8"/>
<circle cx="499.62" cy="426.86" r="1.69" fill="#ff0000"/>
<text x="504.42" y="428.71" font-size="5.4" fill="#333">TPLSO</text>
<line x1="495.32" y1="432.04" x2="504.32" y2="432.04" stroke="#00ff00" stroke-width="1.8"/>
<polygon points="499.62,434.12 497.54,430.37 501.7,430.37" fill="#00ff00"/>
<text x="504.42" y="433.89" font-size="5.4" fill="#333">SPLSO</text>
<line x1="495.32" y1="437.22" x2="504.32" y2="437.22" stroke="#0000ff" stroke-width="1.8"/>
<circle cx="499.62" cy="437.22" r="1.04" fill="#0000ff"/>
<text x="504.42" y="439.07" font-size="5.4" fill="#333">LLSO</text>
<line x1="495.32" y1="442.4" x2="504.32" y2="442.4" stroke="#00ffff" stroke-width="1.8"/>
<polygon points="501.7,442.4 497.96,440.32 497.96,444.48" fill="#00ffff"/>
<text x="504.42" y="444.25" font-size="5.4" fill="#333">CNO</text>
<line x1="495.32" y1="447.58" x2="504.32" y2="447.58" stroke="#ff00ff" stroke-width="1.8"/>
<polygon points="499.62,445.5 497.54,449.24 501.7,449.24" fill="#ff00ff"/>
<text x="504.42" y="449.43" font-size="5.4" fill="#333">SLPSO</text>
<line x1="495.32" y1="452.76" x2="504.32" y2="452.76" stroke="#ff0000" stroke-width="1.6" stroke-dasharray="1.2,1.2"/>
<circle cx="499.62" cy="452.76" r="1.3" fill="#ff0000"/>
<text x="504.42" y="454.61" font-size="5.4" fill="#333">DECC-DG</text>
<line x1="495.32" y1="457.94" x2="504.32" y2="457.94" stroke="#00ff00" stroke-width="1.6" stroke-dasharray="2.5,1,1,1"/>
<polygon points="497.54,457.94 501.29,455.86 501.29,460.02" fill="#00ff00"/>
<text x="504.42" y="459.79" font-size="5.4" fill="#333">DECC-GDG</text>
<line x1="495.32" y1="463.12" x2="504.32" y2="463.12" stroke="#000000" stroke-width="1.6" stroke-dasharray="2.5,1,1,1"/>
<circle cx="499.62" cy="463.12" r="1.04" fill="#000000"/>
<text x="504.42" y="464.97" font-size="5.4" fill="#333">DECC-RDG</text>
<line x1="495.32" y1="468.3" x2="504.32" y2="468.3" stroke="#00ff00" stroke-width="1.6" stroke-dasharray="1.2,1.2"/>
<circle cx="499.62" cy="468.3" r="1.95" fill="#00ff00"/>
<text x="504.42" y="470.15" font-size="5.4" fill="#333">DECC-RDG2</text>
</svg></body></html>
